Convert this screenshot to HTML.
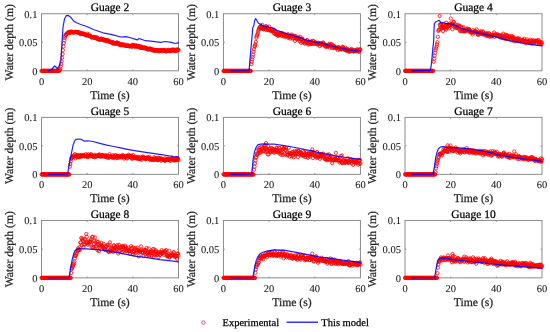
<!DOCTYPE html>
<html><head><meta charset="utf-8"><style>
html,body{margin:0;padding:0;background:#fff;overflow:hidden;}
svg{display:block;will-change:transform;}
text{font-family:"Liberation Serif",serif;fill:#262626;stroke:#262626;stroke-width:0.25px;text-rendering:geometricPrecision;}
.tk{font-size:10.5px;stroke-width:0.08px;fill:#1a1a1a;}
.ti{font-size:11.5px;fill:#000;stroke:#000;}
.lb{font-size:11.7px;}
.lg{font-size:10.5px;fill:#000;stroke:#000;}
</style></head><body>
<svg width="550" height="332" viewBox="0 0 550 332">
<rect width="550" height="332" fill="#fff"/>
<rect x="41.5" y="13.73" width="137" height="57.09" fill="none" stroke="#8c8c8c" stroke-width="1"/>
<path d="M87.17 70.82v-1.4M87.17 13.73v1.4M132.83 70.82v-1.4M132.83 13.73v1.4M41.5 42.27h1.4M178.5 42.27h-1.4" stroke="#8c8c8c" stroke-width="1" fill="none"/>
<rect x="223.45" y="13.73" width="137" height="57.09" fill="none" stroke="#8c8c8c" stroke-width="1"/>
<path d="M269.12 70.82v-1.4M269.12 13.73v1.4M314.78 70.82v-1.4M314.78 13.73v1.4M223.45 42.27h1.4M360.45 42.27h-1.4" stroke="#8c8c8c" stroke-width="1" fill="none"/>
<rect x="405" y="13.73" width="137" height="57.09" fill="none" stroke="#8c8c8c" stroke-width="1"/>
<path d="M450.67 70.82v-1.4M450.67 13.73v1.4M496.33 70.82v-1.4M496.33 13.73v1.4M405 42.27h1.4M542 42.27h-1.4" stroke="#8c8c8c" stroke-width="1" fill="none"/>
<rect x="41.5" y="117.37" width="137" height="56.97" fill="none" stroke="#8c8c8c" stroke-width="1"/>
<path d="M87.17 174.34v-1.4M87.17 117.37v1.4M132.83 174.34v-1.4M132.83 117.37v1.4M41.5 145.86h1.4M178.5 145.86h-1.4" stroke="#8c8c8c" stroke-width="1" fill="none"/>
<rect x="223.45" y="117.37" width="137" height="56.97" fill="none" stroke="#8c8c8c" stroke-width="1"/>
<path d="M269.12 174.34v-1.4M269.12 117.37v1.4M314.78 174.34v-1.4M314.78 117.37v1.4M223.45 145.86h1.4M360.45 145.86h-1.4" stroke="#8c8c8c" stroke-width="1" fill="none"/>
<rect x="405" y="117.37" width="137" height="56.97" fill="none" stroke="#8c8c8c" stroke-width="1"/>
<path d="M450.67 174.34v-1.4M450.67 117.37v1.4M496.33 174.34v-1.4M496.33 117.37v1.4M405 145.86h1.4M542 145.86h-1.4" stroke="#8c8c8c" stroke-width="1" fill="none"/>
<rect x="41.5" y="220.46" width="137" height="57.4" fill="none" stroke="#8c8c8c" stroke-width="1"/>
<path d="M87.17 277.86v-1.4M87.17 220.46v1.4M132.83 277.86v-1.4M132.83 220.46v1.4M41.5 249.16h1.4M178.5 249.16h-1.4" stroke="#8c8c8c" stroke-width="1" fill="none"/>
<rect x="223.45" y="220.46" width="137" height="57.4" fill="none" stroke="#8c8c8c" stroke-width="1"/>
<path d="M269.12 277.86v-1.4M269.12 220.46v1.4M314.78 277.86v-1.4M314.78 220.46v1.4M223.45 249.16h1.4M360.45 249.16h-1.4" stroke="#8c8c8c" stroke-width="1" fill="none"/>
<rect x="405" y="220.46" width="137" height="57.4" fill="none" stroke="#8c8c8c" stroke-width="1"/>
<path d="M450.67 277.86v-1.4M450.67 220.46v1.4M496.33 277.86v-1.4M496.33 220.46v1.4M405 249.16h1.4M542 249.16h-1.4" stroke="#8c8c8c" stroke-width="1" fill="none"/>
<path d="M39.9 70.9a1.65 1.65 0 1 0 3.3 0a1.65 1.65 0 1 0 -3.3 0M40.3 70.9a1.65 1.65 0 1 0 3.3 0a1.65 1.65 0 1 0 -3.3 0M40.8 70.9a1.65 1.65 0 1 0 3.3 0a1.65 1.65 0 1 0 -3.3 0M41.2 70.9a1.65 1.65 0 1 0 3.3 0a1.65 1.65 0 1 0 -3.3 0M41.7 70.9a1.65 1.65 0 1 0 3.3 0a1.65 1.65 0 1 0 -3.3 0M42.1 70.9a1.65 1.65 0 1 0 3.3 0a1.65 1.65 0 1 0 -3.3 0M42.6 70.9a1.65 1.65 0 1 0 3.3 0a1.65 1.65 0 1 0 -3.3 0M43 70.9a1.65 1.65 0 1 0 3.3 0a1.65 1.65 0 1 0 -3.3 0M43.5 70.9a1.65 1.65 0 1 0 3.3 0a1.65 1.65 0 1 0 -3.3 0M44 70.9a1.65 1.65 0 1 0 3.3 0a1.65 1.65 0 1 0 -3.3 0M44.4 70.9a1.65 1.65 0 1 0 3.3 0a1.65 1.65 0 1 0 -3.3 0M44.9 70.9a1.65 1.65 0 1 0 3.3 0a1.65 1.65 0 1 0 -3.3 0M45.3 70.9a1.65 1.65 0 1 0 3.3 0a1.65 1.65 0 1 0 -3.3 0M45.8 70.9a1.65 1.65 0 1 0 3.3 0a1.65 1.65 0 1 0 -3.3 0M46.2 70.9a1.65 1.65 0 1 0 3.3 0a1.65 1.65 0 1 0 -3.3 0M46.7 70.9a1.65 1.65 0 1 0 3.3 0a1.65 1.65 0 1 0 -3.3 0M47.2 70.9a1.65 1.65 0 1 0 3.3 0a1.65 1.65 0 1 0 -3.3 0M47.6 70.9a1.65 1.65 0 1 0 3.3 0a1.65 1.65 0 1 0 -3.3 0M48.1 70.9a1.65 1.65 0 1 0 3.3 0a1.65 1.65 0 1 0 -3.3 0M48.5 70.9a1.65 1.65 0 1 0 3.3 0a1.65 1.65 0 1 0 -3.3 0M49 70.9a1.65 1.65 0 1 0 3.3 0a1.65 1.65 0 1 0 -3.3 0M49.4 70.9a1.65 1.65 0 1 0 3.3 0a1.65 1.65 0 1 0 -3.3 0M49.9 70.9a1.65 1.65 0 1 0 3.3 0a1.65 1.65 0 1 0 -3.3 0M50.4 70.9a1.65 1.65 0 1 0 3.3 0a1.65 1.65 0 1 0 -3.3 0M50.8 70.9a1.65 1.65 0 1 0 3.3 0a1.65 1.65 0 1 0 -3.3 0M51.3 70.9a1.65 1.65 0 1 0 3.3 0a1.65 1.65 0 1 0 -3.3 0M51.7 70.9a1.65 1.65 0 1 0 3.3 0a1.65 1.65 0 1 0 -3.3 0M52.2 70.9a1.65 1.65 0 1 0 3.3 0a1.65 1.65 0 1 0 -3.3 0M52.6 70.9a1.65 1.65 0 1 0 3.3 0a1.65 1.65 0 1 0 -3.3 0M53.1 70.9a1.65 1.65 0 1 0 3.3 0a1.65 1.65 0 1 0 -3.3 0M53.6 70.9a1.65 1.65 0 1 0 3.3 0a1.65 1.65 0 1 0 -3.3 0M54 70.9a1.65 1.65 0 1 0 3.3 0a1.65 1.65 0 1 0 -3.3 0M54.5 70.9a1.65 1.65 0 1 0 3.3 0a1.65 1.65 0 1 0 -3.3 0M54.9 70.9a1.65 1.65 0 1 0 3.3 0a1.65 1.65 0 1 0 -3.3 0M55.4 70.9a1.65 1.65 0 1 0 3.3 0a1.65 1.65 0 1 0 -3.3 0M55.8 70.9a1.65 1.65 0 1 0 3.3 0a1.65 1.65 0 1 0 -3.3 0M56.3 70.9a1.65 1.65 0 1 0 3.3 0a1.65 1.65 0 1 0 -3.3 0M56.7 70.9a1.65 1.65 0 1 0 3.3 0a1.65 1.65 0 1 0 -3.3 0M57.2 70.9a1.65 1.65 0 1 0 3.3 0a1.65 1.65 0 1 0 -3.3 0M57.7 70.9a1.65 1.65 0 1 0 3.3 0a1.65 1.65 0 1 0 -3.3 0M58.1 70.1a1.65 1.65 0 1 0 3.3 0a1.65 1.65 0 1 0 -3.3 0M58.6 68.7a1.65 1.65 0 1 0 3.3 0a1.65 1.65 0 1 0 -3.3 0M59 66.4a1.65 1.65 0 1 0 3.3 0a1.65 1.65 0 1 0 -3.3 0M59.5 64a1.65 1.65 0 1 0 3.3 0a1.65 1.65 0 1 0 -3.3 0M59.9 61.3a1.65 1.65 0 1 0 3.3 0a1.65 1.65 0 1 0 -3.3 0M60.4 57.7a1.65 1.65 0 1 0 3.3 0a1.65 1.65 0 1 0 -3.3 0M60.9 54.1a1.65 1.65 0 1 0 3.3 0a1.65 1.65 0 1 0 -3.3 0M61.3 50.3a1.65 1.65 0 1 0 3.3 0a1.65 1.65 0 1 0 -3.3 0M61.8 46.5a1.65 1.65 0 1 0 3.3 0a1.65 1.65 0 1 0 -3.3 0M62.2 43.2a1.65 1.65 0 1 0 3.3 0a1.65 1.65 0 1 0 -3.3 0M62.7 40.2a1.65 1.65 0 1 0 3.3 0a1.65 1.65 0 1 0 -3.3 0M63.1 37.8a1.65 1.65 0 1 0 3.3 0a1.65 1.65 0 1 0 -3.3 0M63.6 36.1a1.65 1.65 0 1 0 3.3 0a1.65 1.65 0 1 0 -3.3 0M64.1 34.7a1.65 1.65 0 1 0 3.3 0a1.65 1.65 0 1 0 -3.3 0M64.5 34.9a1.65 1.65 0 1 0 3.3 0a1.65 1.65 0 1 0 -3.3 0M65 33.8a1.65 1.65 0 1 0 3.3 0a1.65 1.65 0 1 0 -3.3 0M65.4 33.9a1.65 1.65 0 1 0 3.3 0a1.65 1.65 0 1 0 -3.3 0M65.9 32.8a1.65 1.65 0 1 0 3.3 0a1.65 1.65 0 1 0 -3.3 0M66.3 32.8a1.65 1.65 0 1 0 3.3 0a1.65 1.65 0 1 0 -3.3 0M66.8 32.5a1.65 1.65 0 1 0 3.3 0a1.65 1.65 0 1 0 -3.3 0M67.2 32.5a1.65 1.65 0 1 0 3.3 0a1.65 1.65 0 1 0 -3.3 0M67.7 31.9a1.65 1.65 0 1 0 3.3 0a1.65 1.65 0 1 0 -3.3 0M68.2 32.9a1.65 1.65 0 1 0 3.3 0a1.65 1.65 0 1 0 -3.3 0M68.6 32.2a1.65 1.65 0 1 0 3.3 0a1.65 1.65 0 1 0 -3.3 0M69.1 31.6a1.65 1.65 0 1 0 3.3 0a1.65 1.65 0 1 0 -3.3 0M69.5 32.6a1.65 1.65 0 1 0 3.3 0a1.65 1.65 0 1 0 -3.3 0M70 31.8a1.65 1.65 0 1 0 3.3 0a1.65 1.65 0 1 0 -3.3 0M70.4 31.9a1.65 1.65 0 1 0 3.3 0a1.65 1.65 0 1 0 -3.3 0M70.9 32.2a1.65 1.65 0 1 0 3.3 0a1.65 1.65 0 1 0 -3.3 0M71.4 32.3a1.65 1.65 0 1 0 3.3 0a1.65 1.65 0 1 0 -3.3 0M71.8 32.7a1.65 1.65 0 1 0 3.3 0a1.65 1.65 0 1 0 -3.3 0M72.3 32.2a1.65 1.65 0 1 0 3.3 0a1.65 1.65 0 1 0 -3.3 0M72.7 32.3a1.65 1.65 0 1 0 3.3 0a1.65 1.65 0 1 0 -3.3 0M73.2 32.1a1.65 1.65 0 1 0 3.3 0a1.65 1.65 0 1 0 -3.3 0M73.6 31.7a1.65 1.65 0 1 0 3.3 0a1.65 1.65 0 1 0 -3.3 0M74.1 32.1a1.65 1.65 0 1 0 3.3 0a1.65 1.65 0 1 0 -3.3 0M74.6 32.2a1.65 1.65 0 1 0 3.3 0a1.65 1.65 0 1 0 -3.3 0M75 32.3a1.65 1.65 0 1 0 3.3 0a1.65 1.65 0 1 0 -3.3 0M75.5 32.2a1.65 1.65 0 1 0 3.3 0a1.65 1.65 0 1 0 -3.3 0M75.9 32.4a1.65 1.65 0 1 0 3.3 0a1.65 1.65 0 1 0 -3.3 0M76.4 32a1.65 1.65 0 1 0 3.3 0a1.65 1.65 0 1 0 -3.3 0M76.8 32.6a1.65 1.65 0 1 0 3.3 0a1.65 1.65 0 1 0 -3.3 0M77.3 32.4a1.65 1.65 0 1 0 3.3 0a1.65 1.65 0 1 0 -3.3 0M77.8 33a1.65 1.65 0 1 0 3.3 0a1.65 1.65 0 1 0 -3.3 0M78.2 33.1a1.65 1.65 0 1 0 3.3 0a1.65 1.65 0 1 0 -3.3 0M78.7 34.3a1.65 1.65 0 1 0 3.3 0a1.65 1.65 0 1 0 -3.3 0M79.1 32.7a1.65 1.65 0 1 0 3.3 0a1.65 1.65 0 1 0 -3.3 0M79.6 33.5a1.65 1.65 0 1 0 3.3 0a1.65 1.65 0 1 0 -3.3 0M80 34a1.65 1.65 0 1 0 3.3 0a1.65 1.65 0 1 0 -3.3 0M80.5 33.6a1.65 1.65 0 1 0 3.3 0a1.65 1.65 0 1 0 -3.3 0M80.9 33.9a1.65 1.65 0 1 0 3.3 0a1.65 1.65 0 1 0 -3.3 0M81.4 33.8a1.65 1.65 0 1 0 3.3 0a1.65 1.65 0 1 0 -3.3 0M81.9 33.4a1.65 1.65 0 1 0 3.3 0a1.65 1.65 0 1 0 -3.3 0M82.3 34a1.65 1.65 0 1 0 3.3 0a1.65 1.65 0 1 0 -3.3 0M82.8 34.7a1.65 1.65 0 1 0 3.3 0a1.65 1.65 0 1 0 -3.3 0M83.2 34.4a1.65 1.65 0 1 0 3.3 0a1.65 1.65 0 1 0 -3.3 0M83.7 34.6a1.65 1.65 0 1 0 3.3 0a1.65 1.65 0 1 0 -3.3 0M84.1 34.9a1.65 1.65 0 1 0 3.3 0a1.65 1.65 0 1 0 -3.3 0M84.6 35.2a1.65 1.65 0 1 0 3.3 0a1.65 1.65 0 1 0 -3.3 0M85.1 35.5a1.65 1.65 0 1 0 3.3 0a1.65 1.65 0 1 0 -3.3 0M85.5 34.9a1.65 1.65 0 1 0 3.3 0a1.65 1.65 0 1 0 -3.3 0M86 33.8a1.65 1.65 0 1 0 3.3 0a1.65 1.65 0 1 0 -3.3 0M86.4 35.3a1.65 1.65 0 1 0 3.3 0a1.65 1.65 0 1 0 -3.3 0M86.9 35.6a1.65 1.65 0 1 0 3.3 0a1.65 1.65 0 1 0 -3.3 0M87.3 35.8a1.65 1.65 0 1 0 3.3 0a1.65 1.65 0 1 0 -3.3 0M87.8 35.7a1.65 1.65 0 1 0 3.3 0a1.65 1.65 0 1 0 -3.3 0M88.3 35.9a1.65 1.65 0 1 0 3.3 0a1.65 1.65 0 1 0 -3.3 0M88.7 35.6a1.65 1.65 0 1 0 3.3 0a1.65 1.65 0 1 0 -3.3 0M89.2 36.8a1.65 1.65 0 1 0 3.3 0a1.65 1.65 0 1 0 -3.3 0M89.6 37.3a1.65 1.65 0 1 0 3.3 0a1.65 1.65 0 1 0 -3.3 0M90.1 37a1.65 1.65 0 1 0 3.3 0a1.65 1.65 0 1 0 -3.3 0M90.5 37.4a1.65 1.65 0 1 0 3.3 0a1.65 1.65 0 1 0 -3.3 0M91 37.3a1.65 1.65 0 1 0 3.3 0a1.65 1.65 0 1 0 -3.3 0M91.5 37.1a1.65 1.65 0 1 0 3.3 0a1.65 1.65 0 1 0 -3.3 0M91.9 36.9a1.65 1.65 0 1 0 3.3 0a1.65 1.65 0 1 0 -3.3 0M92.4 37.7a1.65 1.65 0 1 0 3.3 0a1.65 1.65 0 1 0 -3.3 0M92.8 37.7a1.65 1.65 0 1 0 3.3 0a1.65 1.65 0 1 0 -3.3 0M93.3 37.2a1.65 1.65 0 1 0 3.3 0a1.65 1.65 0 1 0 -3.3 0M93.7 38a1.65 1.65 0 1 0 3.3 0a1.65 1.65 0 1 0 -3.3 0M94.2 37.5a1.65 1.65 0 1 0 3.3 0a1.65 1.65 0 1 0 -3.3 0M94.7 38.6a1.65 1.65 0 1 0 3.3 0a1.65 1.65 0 1 0 -3.3 0M95.1 37.5a1.65 1.65 0 1 0 3.3 0a1.65 1.65 0 1 0 -3.3 0M95.6 37.8a1.65 1.65 0 1 0 3.3 0a1.65 1.65 0 1 0 -3.3 0M96 39.1a1.65 1.65 0 1 0 3.3 0a1.65 1.65 0 1 0 -3.3 0M96.5 39.1a1.65 1.65 0 1 0 3.3 0a1.65 1.65 0 1 0 -3.3 0M96.9 38.7a1.65 1.65 0 1 0 3.3 0a1.65 1.65 0 1 0 -3.3 0M97.4 39.5a1.65 1.65 0 1 0 3.3 0a1.65 1.65 0 1 0 -3.3 0M97.8 39.7a1.65 1.65 0 1 0 3.3 0a1.65 1.65 0 1 0 -3.3 0M98.3 39.3a1.65 1.65 0 1 0 3.3 0a1.65 1.65 0 1 0 -3.3 0M98.8 39.7a1.65 1.65 0 1 0 3.3 0a1.65 1.65 0 1 0 -3.3 0M99.2 38.7a1.65 1.65 0 1 0 3.3 0a1.65 1.65 0 1 0 -3.3 0M99.7 39.5a1.65 1.65 0 1 0 3.3 0a1.65 1.65 0 1 0 -3.3 0M100.1 38.8a1.65 1.65 0 1 0 3.3 0a1.65 1.65 0 1 0 -3.3 0M100.6 39.8a1.65 1.65 0 1 0 3.3 0a1.65 1.65 0 1 0 -3.3 0M101 39.4a1.65 1.65 0 1 0 3.3 0a1.65 1.65 0 1 0 -3.3 0M101.5 39.2a1.65 1.65 0 1 0 3.3 0a1.65 1.65 0 1 0 -3.3 0M102 39.4a1.65 1.65 0 1 0 3.3 0a1.65 1.65 0 1 0 -3.3 0M102.4 40.6a1.65 1.65 0 1 0 3.3 0a1.65 1.65 0 1 0 -3.3 0M102.9 40.1a1.65 1.65 0 1 0 3.3 0a1.65 1.65 0 1 0 -3.3 0M103.3 39.7a1.65 1.65 0 1 0 3.3 0a1.65 1.65 0 1 0 -3.3 0M103.8 40.5a1.65 1.65 0 1 0 3.3 0a1.65 1.65 0 1 0 -3.3 0M104.2 40.1a1.65 1.65 0 1 0 3.3 0a1.65 1.65 0 1 0 -3.3 0M104.7 41a1.65 1.65 0 1 0 3.3 0a1.65 1.65 0 1 0 -3.3 0M105.2 41.4a1.65 1.65 0 1 0 3.3 0a1.65 1.65 0 1 0 -3.3 0M105.6 40.6a1.65 1.65 0 1 0 3.3 0a1.65 1.65 0 1 0 -3.3 0M106.1 40.1a1.65 1.65 0 1 0 3.3 0a1.65 1.65 0 1 0 -3.3 0M106.5 40.9a1.65 1.65 0 1 0 3.3 0a1.65 1.65 0 1 0 -3.3 0M107 41.3a1.65 1.65 0 1 0 3.3 0a1.65 1.65 0 1 0 -3.3 0M107.4 41.3a1.65 1.65 0 1 0 3.3 0a1.65 1.65 0 1 0 -3.3 0M107.9 41.7a1.65 1.65 0 1 0 3.3 0a1.65 1.65 0 1 0 -3.3 0M108.3 41.7a1.65 1.65 0 1 0 3.3 0a1.65 1.65 0 1 0 -3.3 0M108.8 42a1.65 1.65 0 1 0 3.3 0a1.65 1.65 0 1 0 -3.3 0M109.3 41.8a1.65 1.65 0 1 0 3.3 0a1.65 1.65 0 1 0 -3.3 0M109.7 42.2a1.65 1.65 0 1 0 3.3 0a1.65 1.65 0 1 0 -3.3 0M110.2 43a1.65 1.65 0 1 0 3.3 0a1.65 1.65 0 1 0 -3.3 0M110.6 42.1a1.65 1.65 0 1 0 3.3 0a1.65 1.65 0 1 0 -3.3 0M111.1 42.1a1.65 1.65 0 1 0 3.3 0a1.65 1.65 0 1 0 -3.3 0M111.5 43.8a1.65 1.65 0 1 0 3.3 0a1.65 1.65 0 1 0 -3.3 0M112 43.1a1.65 1.65 0 1 0 3.3 0a1.65 1.65 0 1 0 -3.3 0M112.5 43a1.65 1.65 0 1 0 3.3 0a1.65 1.65 0 1 0 -3.3 0M112.9 43.5a1.65 1.65 0 1 0 3.3 0a1.65 1.65 0 1 0 -3.3 0M113.4 43.3a1.65 1.65 0 1 0 3.3 0a1.65 1.65 0 1 0 -3.3 0M113.8 43.4a1.65 1.65 0 1 0 3.3 0a1.65 1.65 0 1 0 -3.3 0M114.3 43.8a1.65 1.65 0 1 0 3.3 0a1.65 1.65 0 1 0 -3.3 0M114.7 43.1a1.65 1.65 0 1 0 3.3 0a1.65 1.65 0 1 0 -3.3 0M115.2 42.5a1.65 1.65 0 1 0 3.3 0a1.65 1.65 0 1 0 -3.3 0M115.7 42.7a1.65 1.65 0 1 0 3.3 0a1.65 1.65 0 1 0 -3.3 0M116.1 43.7a1.65 1.65 0 1 0 3.3 0a1.65 1.65 0 1 0 -3.3 0M116.6 43.2a1.65 1.65 0 1 0 3.3 0a1.65 1.65 0 1 0 -3.3 0M117 44.7a1.65 1.65 0 1 0 3.3 0a1.65 1.65 0 1 0 -3.3 0M117.5 43.3a1.65 1.65 0 1 0 3.3 0a1.65 1.65 0 1 0 -3.3 0M117.9 44.1a1.65 1.65 0 1 0 3.3 0a1.65 1.65 0 1 0 -3.3 0M118.4 44.6a1.65 1.65 0 1 0 3.3 0a1.65 1.65 0 1 0 -3.3 0M118.9 45a1.65 1.65 0 1 0 3.3 0a1.65 1.65 0 1 0 -3.3 0M119.3 44.2a1.65 1.65 0 1 0 3.3 0a1.65 1.65 0 1 0 -3.3 0M119.8 45.5a1.65 1.65 0 1 0 3.3 0a1.65 1.65 0 1 0 -3.3 0M120.2 44.2a1.65 1.65 0 1 0 3.3 0a1.65 1.65 0 1 0 -3.3 0M120.7 44.7a1.65 1.65 0 1 0 3.3 0a1.65 1.65 0 1 0 -3.3 0M121.1 45.1a1.65 1.65 0 1 0 3.3 0a1.65 1.65 0 1 0 -3.3 0M121.6 44.5a1.65 1.65 0 1 0 3.3 0a1.65 1.65 0 1 0 -3.3 0M122 45.1a1.65 1.65 0 1 0 3.3 0a1.65 1.65 0 1 0 -3.3 0M122.5 45.6a1.65 1.65 0 1 0 3.3 0a1.65 1.65 0 1 0 -3.3 0M123 44.7a1.65 1.65 0 1 0 3.3 0a1.65 1.65 0 1 0 -3.3 0M123.4 44.8a1.65 1.65 0 1 0 3.3 0a1.65 1.65 0 1 0 -3.3 0M123.9 45.9a1.65 1.65 0 1 0 3.3 0a1.65 1.65 0 1 0 -3.3 0M124.3 45.7a1.65 1.65 0 1 0 3.3 0a1.65 1.65 0 1 0 -3.3 0M124.8 45.9a1.65 1.65 0 1 0 3.3 0a1.65 1.65 0 1 0 -3.3 0M125.2 45.9a1.65 1.65 0 1 0 3.3 0a1.65 1.65 0 1 0 -3.3 0M125.7 45.6a1.65 1.65 0 1 0 3.3 0a1.65 1.65 0 1 0 -3.3 0M126.2 45.3a1.65 1.65 0 1 0 3.3 0a1.65 1.65 0 1 0 -3.3 0M126.6 46a1.65 1.65 0 1 0 3.3 0a1.65 1.65 0 1 0 -3.3 0M127.1 45.7a1.65 1.65 0 1 0 3.3 0a1.65 1.65 0 1 0 -3.3 0M127.5 46.1a1.65 1.65 0 1 0 3.3 0a1.65 1.65 0 1 0 -3.3 0M128 46.5a1.65 1.65 0 1 0 3.3 0a1.65 1.65 0 1 0 -3.3 0M128.4 46a1.65 1.65 0 1 0 3.3 0a1.65 1.65 0 1 0 -3.3 0M128.9 45.7a1.65 1.65 0 1 0 3.3 0a1.65 1.65 0 1 0 -3.3 0M129.4 46.2a1.65 1.65 0 1 0 3.3 0a1.65 1.65 0 1 0 -3.3 0M129.8 45.6a1.65 1.65 0 1 0 3.3 0a1.65 1.65 0 1 0 -3.3 0M130.3 46.9a1.65 1.65 0 1 0 3.3 0a1.65 1.65 0 1 0 -3.3 0M130.7 45.1a1.65 1.65 0 1 0 3.3 0a1.65 1.65 0 1 0 -3.3 0M131.2 44.9a1.65 1.65 0 1 0 3.3 0a1.65 1.65 0 1 0 -3.3 0M131.6 45.8a1.65 1.65 0 1 0 3.3 0a1.65 1.65 0 1 0 -3.3 0M132.1 45.4a1.65 1.65 0 1 0 3.3 0a1.65 1.65 0 1 0 -3.3 0M132.6 46.4a1.65 1.65 0 1 0 3.3 0a1.65 1.65 0 1 0 -3.3 0M133 46.6a1.65 1.65 0 1 0 3.3 0a1.65 1.65 0 1 0 -3.3 0M133.5 45.3a1.65 1.65 0 1 0 3.3 0a1.65 1.65 0 1 0 -3.3 0M133.9 46.4a1.65 1.65 0 1 0 3.3 0a1.65 1.65 0 1 0 -3.3 0M134.4 46.3a1.65 1.65 0 1 0 3.3 0a1.65 1.65 0 1 0 -3.3 0M134.8 45.3a1.65 1.65 0 1 0 3.3 0a1.65 1.65 0 1 0 -3.3 0M135.3 46.7a1.65 1.65 0 1 0 3.3 0a1.65 1.65 0 1 0 -3.3 0M135.7 46.2a1.65 1.65 0 1 0 3.3 0a1.65 1.65 0 1 0 -3.3 0M136.2 46.6a1.65 1.65 0 1 0 3.3 0a1.65 1.65 0 1 0 -3.3 0M136.7 46.2a1.65 1.65 0 1 0 3.3 0a1.65 1.65 0 1 0 -3.3 0M137.1 46.8a1.65 1.65 0 1 0 3.3 0a1.65 1.65 0 1 0 -3.3 0M137.6 46.6a1.65 1.65 0 1 0 3.3 0a1.65 1.65 0 1 0 -3.3 0M138 46.2a1.65 1.65 0 1 0 3.3 0a1.65 1.65 0 1 0 -3.3 0M138.5 47.9a1.65 1.65 0 1 0 3.3 0a1.65 1.65 0 1 0 -3.3 0M138.9 47.4a1.65 1.65 0 1 0 3.3 0a1.65 1.65 0 1 0 -3.3 0M139.4 46.4a1.65 1.65 0 1 0 3.3 0a1.65 1.65 0 1 0 -3.3 0M139.9 47.6a1.65 1.65 0 1 0 3.3 0a1.65 1.65 0 1 0 -3.3 0M140.3 47.6a1.65 1.65 0 1 0 3.3 0a1.65 1.65 0 1 0 -3.3 0M140.8 47.9a1.65 1.65 0 1 0 3.3 0a1.65 1.65 0 1 0 -3.3 0M141.2 48.1a1.65 1.65 0 1 0 3.3 0a1.65 1.65 0 1 0 -3.3 0M141.7 48a1.65 1.65 0 1 0 3.3 0a1.65 1.65 0 1 0 -3.3 0M142.1 47.2a1.65 1.65 0 1 0 3.3 0a1.65 1.65 0 1 0 -3.3 0M142.6 48.3a1.65 1.65 0 1 0 3.3 0a1.65 1.65 0 1 0 -3.3 0M143.1 47.6a1.65 1.65 0 1 0 3.3 0a1.65 1.65 0 1 0 -3.3 0M143.5 48.2a1.65 1.65 0 1 0 3.3 0a1.65 1.65 0 1 0 -3.3 0M144 47.9a1.65 1.65 0 1 0 3.3 0a1.65 1.65 0 1 0 -3.3 0M144.4 48.5a1.65 1.65 0 1 0 3.3 0a1.65 1.65 0 1 0 -3.3 0M144.9 48a1.65 1.65 0 1 0 3.3 0a1.65 1.65 0 1 0 -3.3 0M145.3 49.1a1.65 1.65 0 1 0 3.3 0a1.65 1.65 0 1 0 -3.3 0M145.8 48.9a1.65 1.65 0 1 0 3.3 0a1.65 1.65 0 1 0 -3.3 0M146.3 49.4a1.65 1.65 0 1 0 3.3 0a1.65 1.65 0 1 0 -3.3 0M146.7 49.4a1.65 1.65 0 1 0 3.3 0a1.65 1.65 0 1 0 -3.3 0M147.2 48.8a1.65 1.65 0 1 0 3.3 0a1.65 1.65 0 1 0 -3.3 0M147.6 48.8a1.65 1.65 0 1 0 3.3 0a1.65 1.65 0 1 0 -3.3 0M148.1 48.6a1.65 1.65 0 1 0 3.3 0a1.65 1.65 0 1 0 -3.3 0M148.5 49.6a1.65 1.65 0 1 0 3.3 0a1.65 1.65 0 1 0 -3.3 0M149 48.7a1.65 1.65 0 1 0 3.3 0a1.65 1.65 0 1 0 -3.3 0M149.5 49.4a1.65 1.65 0 1 0 3.3 0a1.65 1.65 0 1 0 -3.3 0M149.9 49.4a1.65 1.65 0 1 0 3.3 0a1.65 1.65 0 1 0 -3.3 0M150.4 49.1a1.65 1.65 0 1 0 3.3 0a1.65 1.65 0 1 0 -3.3 0M150.8 50.4a1.65 1.65 0 1 0 3.3 0a1.65 1.65 0 1 0 -3.3 0M151.3 50.1a1.65 1.65 0 1 0 3.3 0a1.65 1.65 0 1 0 -3.3 0M151.7 50a1.65 1.65 0 1 0 3.3 0a1.65 1.65 0 1 0 -3.3 0M152.2 50.5a1.65 1.65 0 1 0 3.3 0a1.65 1.65 0 1 0 -3.3 0M152.6 49.7a1.65 1.65 0 1 0 3.3 0a1.65 1.65 0 1 0 -3.3 0M153.1 51a1.65 1.65 0 1 0 3.3 0a1.65 1.65 0 1 0 -3.3 0M153.6 50.1a1.65 1.65 0 1 0 3.3 0a1.65 1.65 0 1 0 -3.3 0M154 50.7a1.65 1.65 0 1 0 3.3 0a1.65 1.65 0 1 0 -3.3 0M154.5 50.3a1.65 1.65 0 1 0 3.3 0a1.65 1.65 0 1 0 -3.3 0M154.9 50.2a1.65 1.65 0 1 0 3.3 0a1.65 1.65 0 1 0 -3.3 0M155.4 50a1.65 1.65 0 1 0 3.3 0a1.65 1.65 0 1 0 -3.3 0M155.8 50.8a1.65 1.65 0 1 0 3.3 0a1.65 1.65 0 1 0 -3.3 0M156.3 50.3a1.65 1.65 0 1 0 3.3 0a1.65 1.65 0 1 0 -3.3 0M156.8 50.7a1.65 1.65 0 1 0 3.3 0a1.65 1.65 0 1 0 -3.3 0M157.2 51.3a1.65 1.65 0 1 0 3.3 0a1.65 1.65 0 1 0 -3.3 0M157.7 50.3a1.65 1.65 0 1 0 3.3 0a1.65 1.65 0 1 0 -3.3 0M158.1 51a1.65 1.65 0 1 0 3.3 0a1.65 1.65 0 1 0 -3.3 0M158.6 50a1.65 1.65 0 1 0 3.3 0a1.65 1.65 0 1 0 -3.3 0M159 50.1a1.65 1.65 0 1 0 3.3 0a1.65 1.65 0 1 0 -3.3 0M159.5 50.2a1.65 1.65 0 1 0 3.3 0a1.65 1.65 0 1 0 -3.3 0M160 50.8a1.65 1.65 0 1 0 3.3 0a1.65 1.65 0 1 0 -3.3 0M160.4 50.3a1.65 1.65 0 1 0 3.3 0a1.65 1.65 0 1 0 -3.3 0M160.9 51.2a1.65 1.65 0 1 0 3.3 0a1.65 1.65 0 1 0 -3.3 0M161.3 49.9a1.65 1.65 0 1 0 3.3 0a1.65 1.65 0 1 0 -3.3 0M161.8 50.1a1.65 1.65 0 1 0 3.3 0a1.65 1.65 0 1 0 -3.3 0M162.2 50.6a1.65 1.65 0 1 0 3.3 0a1.65 1.65 0 1 0 -3.3 0M162.7 50.1a1.65 1.65 0 1 0 3.3 0a1.65 1.65 0 1 0 -3.3 0M163.2 50.5a1.65 1.65 0 1 0 3.3 0a1.65 1.65 0 1 0 -3.3 0M163.6 50.5a1.65 1.65 0 1 0 3.3 0a1.65 1.65 0 1 0 -3.3 0M164.1 51.5a1.65 1.65 0 1 0 3.3 0a1.65 1.65 0 1 0 -3.3 0M164.5 50.8a1.65 1.65 0 1 0 3.3 0a1.65 1.65 0 1 0 -3.3 0M165 51.1a1.65 1.65 0 1 0 3.3 0a1.65 1.65 0 1 0 -3.3 0M165.4 50.3a1.65 1.65 0 1 0 3.3 0a1.65 1.65 0 1 0 -3.3 0M165.9 51a1.65 1.65 0 1 0 3.3 0a1.65 1.65 0 1 0 -3.3 0M166.3 50.4a1.65 1.65 0 1 0 3.3 0a1.65 1.65 0 1 0 -3.3 0M166.8 49.8a1.65 1.65 0 1 0 3.3 0a1.65 1.65 0 1 0 -3.3 0M167.3 50.6a1.65 1.65 0 1 0 3.3 0a1.65 1.65 0 1 0 -3.3 0M167.7 51.2a1.65 1.65 0 1 0 3.3 0a1.65 1.65 0 1 0 -3.3 0M168.2 50.8a1.65 1.65 0 1 0 3.3 0a1.65 1.65 0 1 0 -3.3 0M168.6 50.1a1.65 1.65 0 1 0 3.3 0a1.65 1.65 0 1 0 -3.3 0M169.1 51.1a1.65 1.65 0 1 0 3.3 0a1.65 1.65 0 1 0 -3.3 0M169.5 50.7a1.65 1.65 0 1 0 3.3 0a1.65 1.65 0 1 0 -3.3 0M170 50.2a1.65 1.65 0 1 0 3.3 0a1.65 1.65 0 1 0 -3.3 0M170.5 49.6a1.65 1.65 0 1 0 3.3 0a1.65 1.65 0 1 0 -3.3 0M170.9 50.3a1.65 1.65 0 1 0 3.3 0a1.65 1.65 0 1 0 -3.3 0M171.4 50.5a1.65 1.65 0 1 0 3.3 0a1.65 1.65 0 1 0 -3.3 0M171.8 49.5a1.65 1.65 0 1 0 3.3 0a1.65 1.65 0 1 0 -3.3 0M172.3 49.8a1.65 1.65 0 1 0 3.3 0a1.65 1.65 0 1 0 -3.3 0M172.7 50.7a1.65 1.65 0 1 0 3.3 0a1.65 1.65 0 1 0 -3.3 0M173.2 50.4a1.65 1.65 0 1 0 3.3 0a1.65 1.65 0 1 0 -3.3 0M173.7 50.5a1.65 1.65 0 1 0 3.3 0a1.65 1.65 0 1 0 -3.3 0M174.1 51.1a1.65 1.65 0 1 0 3.3 0a1.65 1.65 0 1 0 -3.3 0M174.6 49.5a1.65 1.65 0 1 0 3.3 0a1.65 1.65 0 1 0 -3.3 0M175 50.3a1.65 1.65 0 1 0 3.3 0a1.65 1.65 0 1 0 -3.3 0M175.5 50.3a1.65 1.65 0 1 0 3.3 0a1.65 1.65 0 1 0 -3.3 0M175.9 49.6a1.65 1.65 0 1 0 3.3 0a1.65 1.65 0 1 0 -3.3 0M176.4 49.5a1.65 1.65 0 1 0 3.3 0a1.65 1.65 0 1 0 -3.3 0M176.8 50.1a1.65 1.65 0 1 0 3.3 0a1.65 1.65 0 1 0 -3.3 0" fill="none" stroke="#ff0000" stroke-width="0.8"/>
<path d="M48.4 70.8 50 70.6 52 69 54.6 66 56 67 57.3 68.5 59.1 66.3 60.9 60.9 62.2 39.1 63.1 26.5 64.5 19.2 66.3 15.6 68.1 15.3 70.9 17.4 73.6 21 76.5 22.8 81.4 24.7 86.8 26.5 94 29.7 103 32.8 112 34.6 121 37 126 36.6 131.4 38 137.4 39.9 139 38.5 145.5 40.7 153 41.3 160.7 42.4 165 41.5 171.6 42.4 174.8 43.5 178.4 42.8" fill="none" stroke="#0000ff" stroke-width="1.2" stroke-opacity="0.88" stroke-linejoin="round" stroke-linecap="round"/>
<path d="M221.8 70.9a1.65 1.65 0 1 0 3.3 0a1.65 1.65 0 1 0 -3.3 0M222.3 70.9a1.65 1.65 0 1 0 3.3 0a1.65 1.65 0 1 0 -3.3 0M222.7 70.9a1.65 1.65 0 1 0 3.3 0a1.65 1.65 0 1 0 -3.3 0M223.2 70.9a1.65 1.65 0 1 0 3.3 0a1.65 1.65 0 1 0 -3.3 0M223.6 70.9a1.65 1.65 0 1 0 3.3 0a1.65 1.65 0 1 0 -3.3 0M224.1 70.9a1.65 1.65 0 1 0 3.3 0a1.65 1.65 0 1 0 -3.3 0M224.5 70.9a1.65 1.65 0 1 0 3.3 0a1.65 1.65 0 1 0 -3.3 0M225 70.9a1.65 1.65 0 1 0 3.3 0a1.65 1.65 0 1 0 -3.3 0M225.5 70.9a1.65 1.65 0 1 0 3.3 0a1.65 1.65 0 1 0 -3.3 0M225.9 70.9a1.65 1.65 0 1 0 3.3 0a1.65 1.65 0 1 0 -3.3 0M226.4 70.9a1.65 1.65 0 1 0 3.3 0a1.65 1.65 0 1 0 -3.3 0M226.8 70.9a1.65 1.65 0 1 0 3.3 0a1.65 1.65 0 1 0 -3.3 0M227.3 70.9a1.65 1.65 0 1 0 3.3 0a1.65 1.65 0 1 0 -3.3 0M227.7 70.9a1.65 1.65 0 1 0 3.3 0a1.65 1.65 0 1 0 -3.3 0M228.2 70.9a1.65 1.65 0 1 0 3.3 0a1.65 1.65 0 1 0 -3.3 0M228.6 70.9a1.65 1.65 0 1 0 3.3 0a1.65 1.65 0 1 0 -3.3 0M229.1 70.9a1.65 1.65 0 1 0 3.3 0a1.65 1.65 0 1 0 -3.3 0M229.6 70.9a1.65 1.65 0 1 0 3.3 0a1.65 1.65 0 1 0 -3.3 0M230 70.9a1.65 1.65 0 1 0 3.3 0a1.65 1.65 0 1 0 -3.3 0M230.5 70.9a1.65 1.65 0 1 0 3.3 0a1.65 1.65 0 1 0 -3.3 0M230.9 70.9a1.65 1.65 0 1 0 3.3 0a1.65 1.65 0 1 0 -3.3 0M231.4 70.9a1.65 1.65 0 1 0 3.3 0a1.65 1.65 0 1 0 -3.3 0M231.8 70.9a1.65 1.65 0 1 0 3.3 0a1.65 1.65 0 1 0 -3.3 0M232.3 70.9a1.65 1.65 0 1 0 3.3 0a1.65 1.65 0 1 0 -3.3 0M232.8 70.9a1.65 1.65 0 1 0 3.3 0a1.65 1.65 0 1 0 -3.3 0M233.2 70.9a1.65 1.65 0 1 0 3.3 0a1.65 1.65 0 1 0 -3.3 0M233.7 70.9a1.65 1.65 0 1 0 3.3 0a1.65 1.65 0 1 0 -3.3 0M234.1 70.9a1.65 1.65 0 1 0 3.3 0a1.65 1.65 0 1 0 -3.3 0M234.6 70.9a1.65 1.65 0 1 0 3.3 0a1.65 1.65 0 1 0 -3.3 0M235 70.9a1.65 1.65 0 1 0 3.3 0a1.65 1.65 0 1 0 -3.3 0M235.5 70.9a1.65 1.65 0 1 0 3.3 0a1.65 1.65 0 1 0 -3.3 0M236 70.9a1.65 1.65 0 1 0 3.3 0a1.65 1.65 0 1 0 -3.3 0M236.4 70.9a1.65 1.65 0 1 0 3.3 0a1.65 1.65 0 1 0 -3.3 0M236.9 70.9a1.65 1.65 0 1 0 3.3 0a1.65 1.65 0 1 0 -3.3 0M237.3 70.9a1.65 1.65 0 1 0 3.3 0a1.65 1.65 0 1 0 -3.3 0M237.8 70.9a1.65 1.65 0 1 0 3.3 0a1.65 1.65 0 1 0 -3.3 0M238.2 70.9a1.65 1.65 0 1 0 3.3 0a1.65 1.65 0 1 0 -3.3 0M238.7 70.9a1.65 1.65 0 1 0 3.3 0a1.65 1.65 0 1 0 -3.3 0M239.2 70.9a1.65 1.65 0 1 0 3.3 0a1.65 1.65 0 1 0 -3.3 0M239.6 70.9a1.65 1.65 0 1 0 3.3 0a1.65 1.65 0 1 0 -3.3 0M240.1 70.9a1.65 1.65 0 1 0 3.3 0a1.65 1.65 0 1 0 -3.3 0M240.5 70.9a1.65 1.65 0 1 0 3.3 0a1.65 1.65 0 1 0 -3.3 0M241 70.9a1.65 1.65 0 1 0 3.3 0a1.65 1.65 0 1 0 -3.3 0M241.4 70.9a1.65 1.65 0 1 0 3.3 0a1.65 1.65 0 1 0 -3.3 0M241.9 70.9a1.65 1.65 0 1 0 3.3 0a1.65 1.65 0 1 0 -3.3 0M242.3 70.9a1.65 1.65 0 1 0 3.3 0a1.65 1.65 0 1 0 -3.3 0M242.8 70.9a1.65 1.65 0 1 0 3.3 0a1.65 1.65 0 1 0 -3.3 0M243.3 70.9a1.65 1.65 0 1 0 3.3 0a1.65 1.65 0 1 0 -3.3 0M243.7 70.9a1.65 1.65 0 1 0 3.3 0a1.65 1.65 0 1 0 -3.3 0M244.2 70.9a1.65 1.65 0 1 0 3.3 0a1.65 1.65 0 1 0 -3.3 0M244.6 70.9a1.65 1.65 0 1 0 3.3 0a1.65 1.65 0 1 0 -3.3 0M245.1 70.9a1.65 1.65 0 1 0 3.3 0a1.65 1.65 0 1 0 -3.3 0M245.5 70.9a1.65 1.65 0 1 0 3.3 0a1.65 1.65 0 1 0 -3.3 0M246 70.9a1.65 1.65 0 1 0 3.3 0a1.65 1.65 0 1 0 -3.3 0M246.5 70.9a1.65 1.65 0 1 0 3.3 0a1.65 1.65 0 1 0 -3.3 0M246.9 70.9a1.65 1.65 0 1 0 3.3 0a1.65 1.65 0 1 0 -3.3 0M247.4 70.9a1.65 1.65 0 1 0 3.3 0a1.65 1.65 0 1 0 -3.3 0M247.8 70.9a1.65 1.65 0 1 0 3.3 0a1.65 1.65 0 1 0 -3.3 0M248.3 70.9a1.65 1.65 0 1 0 3.3 0a1.65 1.65 0 1 0 -3.3 0M248.7 70.9a1.65 1.65 0 1 0 3.3 0a1.65 1.65 0 1 0 -3.3 0M249.2 70.9a1.65 1.65 0 1 0 3.3 0a1.65 1.65 0 1 0 -3.3 0M249.7 64.1a1.65 1.65 0 1 0 3.3 0a1.65 1.65 0 1 0 -3.3 0M250.1 61.7a1.65 1.65 0 1 0 3.3 0a1.65 1.65 0 1 0 -3.3 0M250.6 59.4a1.65 1.65 0 1 0 3.3 0a1.65 1.65 0 1 0 -3.3 0M251 57.1a1.65 1.65 0 1 0 3.3 0a1.65 1.65 0 1 0 -3.3 0M251.5 54.6a1.65 1.65 0 1 0 3.3 0a1.65 1.65 0 1 0 -3.3 0M251.9 51.9a1.65 1.65 0 1 0 3.3 0a1.65 1.65 0 1 0 -3.3 0M252.4 49.2a1.65 1.65 0 1 0 3.3 0a1.65 1.65 0 1 0 -3.3 0M252.9 46.5a1.65 1.65 0 1 0 3.3 0a1.65 1.65 0 1 0 -3.3 0M253.3 45.5a1.65 1.65 0 1 0 3.3 0a1.65 1.65 0 1 0 -3.3 0M253.8 44.4a1.65 1.65 0 1 0 3.3 0a1.65 1.65 0 1 0 -3.3 0M254.2 41.9a1.65 1.65 0 1 0 3.3 0a1.65 1.65 0 1 0 -3.3 0M254.7 37.8a1.65 1.65 0 1 0 3.3 0a1.65 1.65 0 1 0 -3.3 0M255.1 36.3a1.65 1.65 0 1 0 3.3 0a1.65 1.65 0 1 0 -3.3 0M255.6 34.8a1.65 1.65 0 1 0 3.3 0a1.65 1.65 0 1 0 -3.3 0M256.1 33.3a1.65 1.65 0 1 0 3.3 0a1.65 1.65 0 1 0 -3.3 0M256.5 31.4a1.65 1.65 0 1 0 3.3 0a1.65 1.65 0 1 0 -3.3 0M257 29.7a1.65 1.65 0 1 0 3.3 0a1.65 1.65 0 1 0 -3.3 0M257.4 28.7a1.65 1.65 0 1 0 3.3 0a1.65 1.65 0 1 0 -3.3 0M257.9 27.4a1.65 1.65 0 1 0 3.3 0a1.65 1.65 0 1 0 -3.3 0M258.3 27.2a1.65 1.65 0 1 0 3.3 0a1.65 1.65 0 1 0 -3.3 0M258.8 26.2a1.65 1.65 0 1 0 3.3 0a1.65 1.65 0 1 0 -3.3 0M259.2 27.9a1.65 1.65 0 1 0 3.3 0a1.65 1.65 0 1 0 -3.3 0M259.7 28.7a1.65 1.65 0 1 0 3.3 0a1.65 1.65 0 1 0 -3.3 0M260.2 26.9a1.65 1.65 0 1 0 3.3 0a1.65 1.65 0 1 0 -3.3 0M260.6 24.9a1.65 1.65 0 1 0 3.3 0a1.65 1.65 0 1 0 -3.3 0M261.1 28.1a1.65 1.65 0 1 0 3.3 0a1.65 1.65 0 1 0 -3.3 0M261.5 29a1.65 1.65 0 1 0 3.3 0a1.65 1.65 0 1 0 -3.3 0M262 29.3a1.65 1.65 0 1 0 3.3 0a1.65 1.65 0 1 0 -3.3 0M262.4 27.2a1.65 1.65 0 1 0 3.3 0a1.65 1.65 0 1 0 -3.3 0M262.9 27.1a1.65 1.65 0 1 0 3.3 0a1.65 1.65 0 1 0 -3.3 0M263.4 27.5a1.65 1.65 0 1 0 3.3 0a1.65 1.65 0 1 0 -3.3 0M263.8 29.3a1.65 1.65 0 1 0 3.3 0a1.65 1.65 0 1 0 -3.3 0M264.3 26.1a1.65 1.65 0 1 0 3.3 0a1.65 1.65 0 1 0 -3.3 0M264.7 30a1.65 1.65 0 1 0 3.3 0a1.65 1.65 0 1 0 -3.3 0M265.2 26.9a1.65 1.65 0 1 0 3.3 0a1.65 1.65 0 1 0 -3.3 0M265.6 28a1.65 1.65 0 1 0 3.3 0a1.65 1.65 0 1 0 -3.3 0M266.1 27.8a1.65 1.65 0 1 0 3.3 0a1.65 1.65 0 1 0 -3.3 0M266.6 30.1a1.65 1.65 0 1 0 3.3 0a1.65 1.65 0 1 0 -3.3 0M267 29.6a1.65 1.65 0 1 0 3.3 0a1.65 1.65 0 1 0 -3.3 0M267.5 26.6a1.65 1.65 0 1 0 3.3 0a1.65 1.65 0 1 0 -3.3 0M267.9 29.3a1.65 1.65 0 1 0 3.3 0a1.65 1.65 0 1 0 -3.3 0M268.4 29.9a1.65 1.65 0 1 0 3.3 0a1.65 1.65 0 1 0 -3.3 0M268.8 30.3a1.65 1.65 0 1 0 3.3 0a1.65 1.65 0 1 0 -3.3 0M269.3 31.3a1.65 1.65 0 1 0 3.3 0a1.65 1.65 0 1 0 -3.3 0M269.8 30.3a1.65 1.65 0 1 0 3.3 0a1.65 1.65 0 1 0 -3.3 0M270.2 29.4a1.65 1.65 0 1 0 3.3 0a1.65 1.65 0 1 0 -3.3 0M270.7 30.7a1.65 1.65 0 1 0 3.3 0a1.65 1.65 0 1 0 -3.3 0M271.1 31.3a1.65 1.65 0 1 0 3.3 0a1.65 1.65 0 1 0 -3.3 0M271.6 30.4a1.65 1.65 0 1 0 3.3 0a1.65 1.65 0 1 0 -3.3 0M272 31.2a1.65 1.65 0 1 0 3.3 0a1.65 1.65 0 1 0 -3.3 0M272.5 33.3a1.65 1.65 0 1 0 3.3 0a1.65 1.65 0 1 0 -3.3 0M272.9 33.7a1.65 1.65 0 1 0 3.3 0a1.65 1.65 0 1 0 -3.3 0M273.4 31.5a1.65 1.65 0 1 0 3.3 0a1.65 1.65 0 1 0 -3.3 0M273.9 32.1a1.65 1.65 0 1 0 3.3 0a1.65 1.65 0 1 0 -3.3 0M274.3 34.5a1.65 1.65 0 1 0 3.3 0a1.65 1.65 0 1 0 -3.3 0M274.8 32.7a1.65 1.65 0 1 0 3.3 0a1.65 1.65 0 1 0 -3.3 0M275.2 34.8a1.65 1.65 0 1 0 3.3 0a1.65 1.65 0 1 0 -3.3 0M275.7 35.1a1.65 1.65 0 1 0 3.3 0a1.65 1.65 0 1 0 -3.3 0M276.1 33.8a1.65 1.65 0 1 0 3.3 0a1.65 1.65 0 1 0 -3.3 0M276.6 36a1.65 1.65 0 1 0 3.3 0a1.65 1.65 0 1 0 -3.3 0M277.1 32.8a1.65 1.65 0 1 0 3.3 0a1.65 1.65 0 1 0 -3.3 0M277.5 34.8a1.65 1.65 0 1 0 3.3 0a1.65 1.65 0 1 0 -3.3 0M278 35.1a1.65 1.65 0 1 0 3.3 0a1.65 1.65 0 1 0 -3.3 0M278.4 33.5a1.65 1.65 0 1 0 3.3 0a1.65 1.65 0 1 0 -3.3 0M278.9 33.3a1.65 1.65 0 1 0 3.3 0a1.65 1.65 0 1 0 -3.3 0M279.3 33.5a1.65 1.65 0 1 0 3.3 0a1.65 1.65 0 1 0 -3.3 0M279.8 34.6a1.65 1.65 0 1 0 3.3 0a1.65 1.65 0 1 0 -3.3 0M280.3 35.9a1.65 1.65 0 1 0 3.3 0a1.65 1.65 0 1 0 -3.3 0M280.7 33a1.65 1.65 0 1 0 3.3 0a1.65 1.65 0 1 0 -3.3 0M281.2 34a1.65 1.65 0 1 0 3.3 0a1.65 1.65 0 1 0 -3.3 0M281.6 35.4a1.65 1.65 0 1 0 3.3 0a1.65 1.65 0 1 0 -3.3 0M282.1 36.7a1.65 1.65 0 1 0 3.3 0a1.65 1.65 0 1 0 -3.3 0M282.5 35a1.65 1.65 0 1 0 3.3 0a1.65 1.65 0 1 0 -3.3 0M283 34.4a1.65 1.65 0 1 0 3.3 0a1.65 1.65 0 1 0 -3.3 0M283.4 34.9a1.65 1.65 0 1 0 3.3 0a1.65 1.65 0 1 0 -3.3 0M283.9 36.8a1.65 1.65 0 1 0 3.3 0a1.65 1.65 0 1 0 -3.3 0M284.4 36a1.65 1.65 0 1 0 3.3 0a1.65 1.65 0 1 0 -3.3 0M284.8 35.6a1.65 1.65 0 1 0 3.3 0a1.65 1.65 0 1 0 -3.3 0M285.3 35.5a1.65 1.65 0 1 0 3.3 0a1.65 1.65 0 1 0 -3.3 0M285.7 36.4a1.65 1.65 0 1 0 3.3 0a1.65 1.65 0 1 0 -3.3 0M286.2 34.2a1.65 1.65 0 1 0 3.3 0a1.65 1.65 0 1 0 -3.3 0M286.6 37.8a1.65 1.65 0 1 0 3.3 0a1.65 1.65 0 1 0 -3.3 0M287.1 36.4a1.65 1.65 0 1 0 3.3 0a1.65 1.65 0 1 0 -3.3 0M287.6 36.4a1.65 1.65 0 1 0 3.3 0a1.65 1.65 0 1 0 -3.3 0M288 37.1a1.65 1.65 0 1 0 3.3 0a1.65 1.65 0 1 0 -3.3 0M288.5 38.5a1.65 1.65 0 1 0 3.3 0a1.65 1.65 0 1 0 -3.3 0M288.9 35.9a1.65 1.65 0 1 0 3.3 0a1.65 1.65 0 1 0 -3.3 0M289.4 35.8a1.65 1.65 0 1 0 3.3 0a1.65 1.65 0 1 0 -3.3 0M289.8 36.1a1.65 1.65 0 1 0 3.3 0a1.65 1.65 0 1 0 -3.3 0M290.3 34.6a1.65 1.65 0 1 0 3.3 0a1.65 1.65 0 1 0 -3.3 0M290.8 38.5a1.65 1.65 0 1 0 3.3 0a1.65 1.65 0 1 0 -3.3 0M291.2 36.3a1.65 1.65 0 1 0 3.3 0a1.65 1.65 0 1 0 -3.3 0M291.7 36a1.65 1.65 0 1 0 3.3 0a1.65 1.65 0 1 0 -3.3 0M292.1 38.4a1.65 1.65 0 1 0 3.3 0a1.65 1.65 0 1 0 -3.3 0M292.6 37.3a1.65 1.65 0 1 0 3.3 0a1.65 1.65 0 1 0 -3.3 0M293 36.2a1.65 1.65 0 1 0 3.3 0a1.65 1.65 0 1 0 -3.3 0M293.5 40.8a1.65 1.65 0 1 0 3.3 0a1.65 1.65 0 1 0 -3.3 0M294 36.1a1.65 1.65 0 1 0 3.3 0a1.65 1.65 0 1 0 -3.3 0M294.4 38.6a1.65 1.65 0 1 0 3.3 0a1.65 1.65 0 1 0 -3.3 0M294.9 38a1.65 1.65 0 1 0 3.3 0a1.65 1.65 0 1 0 -3.3 0M295.3 39a1.65 1.65 0 1 0 3.3 0a1.65 1.65 0 1 0 -3.3 0M295.8 38.3a1.65 1.65 0 1 0 3.3 0a1.65 1.65 0 1 0 -3.3 0M296.2 37.6a1.65 1.65 0 1 0 3.3 0a1.65 1.65 0 1 0 -3.3 0M296.7 38.1a1.65 1.65 0 1 0 3.3 0a1.65 1.65 0 1 0 -3.3 0M297.2 39.2a1.65 1.65 0 1 0 3.3 0a1.65 1.65 0 1 0 -3.3 0M297.6 37.9a1.65 1.65 0 1 0 3.3 0a1.65 1.65 0 1 0 -3.3 0M298.1 41.1a1.65 1.65 0 1 0 3.3 0a1.65 1.65 0 1 0 -3.3 0M298.5 36.8a1.65 1.65 0 1 0 3.3 0a1.65 1.65 0 1 0 -3.3 0M299 39.2a1.65 1.65 0 1 0 3.3 0a1.65 1.65 0 1 0 -3.3 0M299.4 42.7a1.65 1.65 0 1 0 3.3 0a1.65 1.65 0 1 0 -3.3 0M299.9 39.1a1.65 1.65 0 1 0 3.3 0a1.65 1.65 0 1 0 -3.3 0M300.3 38.9a1.65 1.65 0 1 0 3.3 0a1.65 1.65 0 1 0 -3.3 0M300.8 38.7a1.65 1.65 0 1 0 3.3 0a1.65 1.65 0 1 0 -3.3 0M301.3 41.6a1.65 1.65 0 1 0 3.3 0a1.65 1.65 0 1 0 -3.3 0M301.7 42.5a1.65 1.65 0 1 0 3.3 0a1.65 1.65 0 1 0 -3.3 0M302.2 41.2a1.65 1.65 0 1 0 3.3 0a1.65 1.65 0 1 0 -3.3 0M302.6 41.3a1.65 1.65 0 1 0 3.3 0a1.65 1.65 0 1 0 -3.3 0M303.1 43.7a1.65 1.65 0 1 0 3.3 0a1.65 1.65 0 1 0 -3.3 0M303.5 42.7a1.65 1.65 0 1 0 3.3 0a1.65 1.65 0 1 0 -3.3 0M304 41.5a1.65 1.65 0 1 0 3.3 0a1.65 1.65 0 1 0 -3.3 0M304.5 41.7a1.65 1.65 0 1 0 3.3 0a1.65 1.65 0 1 0 -3.3 0M304.9 43a1.65 1.65 0 1 0 3.3 0a1.65 1.65 0 1 0 -3.3 0M305.4 40.1a1.65 1.65 0 1 0 3.3 0a1.65 1.65 0 1 0 -3.3 0M305.8 40.6a1.65 1.65 0 1 0 3.3 0a1.65 1.65 0 1 0 -3.3 0M306.3 42.8a1.65 1.65 0 1 0 3.3 0a1.65 1.65 0 1 0 -3.3 0M306.7 44.5a1.65 1.65 0 1 0 3.3 0a1.65 1.65 0 1 0 -3.3 0M307.2 42.8a1.65 1.65 0 1 0 3.3 0a1.65 1.65 0 1 0 -3.3 0M307.7 43.9a1.65 1.65 0 1 0 3.3 0a1.65 1.65 0 1 0 -3.3 0M308.1 41.7a1.65 1.65 0 1 0 3.3 0a1.65 1.65 0 1 0 -3.3 0M308.6 42.1a1.65 1.65 0 1 0 3.3 0a1.65 1.65 0 1 0 -3.3 0M309 44a1.65 1.65 0 1 0 3.3 0a1.65 1.65 0 1 0 -3.3 0M309.5 41.7a1.65 1.65 0 1 0 3.3 0a1.65 1.65 0 1 0 -3.3 0M309.9 41.6a1.65 1.65 0 1 0 3.3 0a1.65 1.65 0 1 0 -3.3 0M310.4 43.7a1.65 1.65 0 1 0 3.3 0a1.65 1.65 0 1 0 -3.3 0M310.9 43.2a1.65 1.65 0 1 0 3.3 0a1.65 1.65 0 1 0 -3.3 0M311.3 40.8a1.65 1.65 0 1 0 3.3 0a1.65 1.65 0 1 0 -3.3 0M311.8 43.9a1.65 1.65 0 1 0 3.3 0a1.65 1.65 0 1 0 -3.3 0M312.2 41.4a1.65 1.65 0 1 0 3.3 0a1.65 1.65 0 1 0 -3.3 0M312.7 43.4a1.65 1.65 0 1 0 3.3 0a1.65 1.65 0 1 0 -3.3 0M313.1 43.3a1.65 1.65 0 1 0 3.3 0a1.65 1.65 0 1 0 -3.3 0M313.6 42.2a1.65 1.65 0 1 0 3.3 0a1.65 1.65 0 1 0 -3.3 0M314 43.5a1.65 1.65 0 1 0 3.3 0a1.65 1.65 0 1 0 -3.3 0M314.5 43.4a1.65 1.65 0 1 0 3.3 0a1.65 1.65 0 1 0 -3.3 0M315 43.6a1.65 1.65 0 1 0 3.3 0a1.65 1.65 0 1 0 -3.3 0M315.4 44.2a1.65 1.65 0 1 0 3.3 0a1.65 1.65 0 1 0 -3.3 0M315.9 44.3a1.65 1.65 0 1 0 3.3 0a1.65 1.65 0 1 0 -3.3 0M316.3 43.3a1.65 1.65 0 1 0 3.3 0a1.65 1.65 0 1 0 -3.3 0M316.8 42.8a1.65 1.65 0 1 0 3.3 0a1.65 1.65 0 1 0 -3.3 0M317.2 43.3a1.65 1.65 0 1 0 3.3 0a1.65 1.65 0 1 0 -3.3 0M317.7 44.2a1.65 1.65 0 1 0 3.3 0a1.65 1.65 0 1 0 -3.3 0M318.2 46.2a1.65 1.65 0 1 0 3.3 0a1.65 1.65 0 1 0 -3.3 0M318.6 43.2a1.65 1.65 0 1 0 3.3 0a1.65 1.65 0 1 0 -3.3 0M319.1 43.8a1.65 1.65 0 1 0 3.3 0a1.65 1.65 0 1 0 -3.3 0M319.5 44.8a1.65 1.65 0 1 0 3.3 0a1.65 1.65 0 1 0 -3.3 0M320 43.6a1.65 1.65 0 1 0 3.3 0a1.65 1.65 0 1 0 -3.3 0M320.4 43.3a1.65 1.65 0 1 0 3.3 0a1.65 1.65 0 1 0 -3.3 0M320.9 44.4a1.65 1.65 0 1 0 3.3 0a1.65 1.65 0 1 0 -3.3 0M321.4 42.5a1.65 1.65 0 1 0 3.3 0a1.65 1.65 0 1 0 -3.3 0M321.8 43.3a1.65 1.65 0 1 0 3.3 0a1.65 1.65 0 1 0 -3.3 0M322.3 44.3a1.65 1.65 0 1 0 3.3 0a1.65 1.65 0 1 0 -3.3 0M322.7 45.5a1.65 1.65 0 1 0 3.3 0a1.65 1.65 0 1 0 -3.3 0M323.2 44.9a1.65 1.65 0 1 0 3.3 0a1.65 1.65 0 1 0 -3.3 0M323.6 46.3a1.65 1.65 0 1 0 3.3 0a1.65 1.65 0 1 0 -3.3 0M324.1 45.1a1.65 1.65 0 1 0 3.3 0a1.65 1.65 0 1 0 -3.3 0M324.6 47a1.65 1.65 0 1 0 3.3 0a1.65 1.65 0 1 0 -3.3 0M325 45.6a1.65 1.65 0 1 0 3.3 0a1.65 1.65 0 1 0 -3.3 0M325.5 45.6a1.65 1.65 0 1 0 3.3 0a1.65 1.65 0 1 0 -3.3 0M325.9 46.7a1.65 1.65 0 1 0 3.3 0a1.65 1.65 0 1 0 -3.3 0M326.4 46.1a1.65 1.65 0 1 0 3.3 0a1.65 1.65 0 1 0 -3.3 0M326.8 45.9a1.65 1.65 0 1 0 3.3 0a1.65 1.65 0 1 0 -3.3 0M327.3 44.8a1.65 1.65 0 1 0 3.3 0a1.65 1.65 0 1 0 -3.3 0M327.7 43.8a1.65 1.65 0 1 0 3.3 0a1.65 1.65 0 1 0 -3.3 0M328.2 47.5a1.65 1.65 0 1 0 3.3 0a1.65 1.65 0 1 0 -3.3 0M328.7 45.8a1.65 1.65 0 1 0 3.3 0a1.65 1.65 0 1 0 -3.3 0M329.1 44.3a1.65 1.65 0 1 0 3.3 0a1.65 1.65 0 1 0 -3.3 0M329.6 44.1a1.65 1.65 0 1 0 3.3 0a1.65 1.65 0 1 0 -3.3 0M330 46.5a1.65 1.65 0 1 0 3.3 0a1.65 1.65 0 1 0 -3.3 0M330.5 47.9a1.65 1.65 0 1 0 3.3 0a1.65 1.65 0 1 0 -3.3 0M330.9 45.5a1.65 1.65 0 1 0 3.3 0a1.65 1.65 0 1 0 -3.3 0M331.4 45.8a1.65 1.65 0 1 0 3.3 0a1.65 1.65 0 1 0 -3.3 0M331.9 45.7a1.65 1.65 0 1 0 3.3 0a1.65 1.65 0 1 0 -3.3 0M332.3 47.9a1.65 1.65 0 1 0 3.3 0a1.65 1.65 0 1 0 -3.3 0M332.8 46.8a1.65 1.65 0 1 0 3.3 0a1.65 1.65 0 1 0 -3.3 0M333.2 47.1a1.65 1.65 0 1 0 3.3 0a1.65 1.65 0 1 0 -3.3 0M333.7 47.8a1.65 1.65 0 1 0 3.3 0a1.65 1.65 0 1 0 -3.3 0M334.1 47.7a1.65 1.65 0 1 0 3.3 0a1.65 1.65 0 1 0 -3.3 0M334.6 47.9a1.65 1.65 0 1 0 3.3 0a1.65 1.65 0 1 0 -3.3 0M335.1 48.3a1.65 1.65 0 1 0 3.3 0a1.65 1.65 0 1 0 -3.3 0M335.5 47.6a1.65 1.65 0 1 0 3.3 0a1.65 1.65 0 1 0 -3.3 0M336 50a1.65 1.65 0 1 0 3.3 0a1.65 1.65 0 1 0 -3.3 0M336.4 47.4a1.65 1.65 0 1 0 3.3 0a1.65 1.65 0 1 0 -3.3 0M336.9 47.9a1.65 1.65 0 1 0 3.3 0a1.65 1.65 0 1 0 -3.3 0M337.3 47.3a1.65 1.65 0 1 0 3.3 0a1.65 1.65 0 1 0 -3.3 0M337.8 49.4a1.65 1.65 0 1 0 3.3 0a1.65 1.65 0 1 0 -3.3 0M338.2 48.3a1.65 1.65 0 1 0 3.3 0a1.65 1.65 0 1 0 -3.3 0M338.7 48.7a1.65 1.65 0 1 0 3.3 0a1.65 1.65 0 1 0 -3.3 0M339.2 48.6a1.65 1.65 0 1 0 3.3 0a1.65 1.65 0 1 0 -3.3 0M339.6 49.2a1.65 1.65 0 1 0 3.3 0a1.65 1.65 0 1 0 -3.3 0M340.1 49.2a1.65 1.65 0 1 0 3.3 0a1.65 1.65 0 1 0 -3.3 0M340.5 48.8a1.65 1.65 0 1 0 3.3 0a1.65 1.65 0 1 0 -3.3 0M341 46.7a1.65 1.65 0 1 0 3.3 0a1.65 1.65 0 1 0 -3.3 0M341.4 47.2a1.65 1.65 0 1 0 3.3 0a1.65 1.65 0 1 0 -3.3 0M341.9 47.9a1.65 1.65 0 1 0 3.3 0a1.65 1.65 0 1 0 -3.3 0M342.4 48.5a1.65 1.65 0 1 0 3.3 0a1.65 1.65 0 1 0 -3.3 0M342.8 49.8a1.65 1.65 0 1 0 3.3 0a1.65 1.65 0 1 0 -3.3 0M343.3 49.6a1.65 1.65 0 1 0 3.3 0a1.65 1.65 0 1 0 -3.3 0M343.7 47.7a1.65 1.65 0 1 0 3.3 0a1.65 1.65 0 1 0 -3.3 0M344.2 50.1a1.65 1.65 0 1 0 3.3 0a1.65 1.65 0 1 0 -3.3 0M344.6 50.7a1.65 1.65 0 1 0 3.3 0a1.65 1.65 0 1 0 -3.3 0M345.1 49.5a1.65 1.65 0 1 0 3.3 0a1.65 1.65 0 1 0 -3.3 0M345.6 49.7a1.65 1.65 0 1 0 3.3 0a1.65 1.65 0 1 0 -3.3 0M346 49.1a1.65 1.65 0 1 0 3.3 0a1.65 1.65 0 1 0 -3.3 0M346.5 51.3a1.65 1.65 0 1 0 3.3 0a1.65 1.65 0 1 0 -3.3 0M346.9 50.2a1.65 1.65 0 1 0 3.3 0a1.65 1.65 0 1 0 -3.3 0M347.4 51.6a1.65 1.65 0 1 0 3.3 0a1.65 1.65 0 1 0 -3.3 0M347.8 50.4a1.65 1.65 0 1 0 3.3 0a1.65 1.65 0 1 0 -3.3 0M348.3 51.3a1.65 1.65 0 1 0 3.3 0a1.65 1.65 0 1 0 -3.3 0M348.8 51.1a1.65 1.65 0 1 0 3.3 0a1.65 1.65 0 1 0 -3.3 0M349.2 50a1.65 1.65 0 1 0 3.3 0a1.65 1.65 0 1 0 -3.3 0M349.7 49a1.65 1.65 0 1 0 3.3 0a1.65 1.65 0 1 0 -3.3 0M350.1 49.9a1.65 1.65 0 1 0 3.3 0a1.65 1.65 0 1 0 -3.3 0M350.6 50.9a1.65 1.65 0 1 0 3.3 0a1.65 1.65 0 1 0 -3.3 0M351 49.7a1.65 1.65 0 1 0 3.3 0a1.65 1.65 0 1 0 -3.3 0M351.5 50.8a1.65 1.65 0 1 0 3.3 0a1.65 1.65 0 1 0 -3.3 0M352 51.3a1.65 1.65 0 1 0 3.3 0a1.65 1.65 0 1 0 -3.3 0M352.4 51.2a1.65 1.65 0 1 0 3.3 0a1.65 1.65 0 1 0 -3.3 0M352.9 50.2a1.65 1.65 0 1 0 3.3 0a1.65 1.65 0 1 0 -3.3 0M353.3 50.6a1.65 1.65 0 1 0 3.3 0a1.65 1.65 0 1 0 -3.3 0M353.8 50.6a1.65 1.65 0 1 0 3.3 0a1.65 1.65 0 1 0 -3.3 0M354.2 50.6a1.65 1.65 0 1 0 3.3 0a1.65 1.65 0 1 0 -3.3 0M354.7 51.4a1.65 1.65 0 1 0 3.3 0a1.65 1.65 0 1 0 -3.3 0M355.1 50.3a1.65 1.65 0 1 0 3.3 0a1.65 1.65 0 1 0 -3.3 0M355.6 49.2a1.65 1.65 0 1 0 3.3 0a1.65 1.65 0 1 0 -3.3 0M356.1 50.2a1.65 1.65 0 1 0 3.3 0a1.65 1.65 0 1 0 -3.3 0M356.5 50.4a1.65 1.65 0 1 0 3.3 0a1.65 1.65 0 1 0 -3.3 0M357 50.8a1.65 1.65 0 1 0 3.3 0a1.65 1.65 0 1 0 -3.3 0M357.4 51.9a1.65 1.65 0 1 0 3.3 0a1.65 1.65 0 1 0 -3.3 0M357.9 50.4a1.65 1.65 0 1 0 3.3 0a1.65 1.65 0 1 0 -3.3 0M358.3 49.1a1.65 1.65 0 1 0 3.3 0a1.65 1.65 0 1 0 -3.3 0M358.8 49.7a1.65 1.65 0 1 0 3.3 0a1.65 1.65 0 1 0 -3.3 0" fill="none" stroke="#ff0000" stroke-width="0.8"/>
<path d="M230.3 70.8 249 70.6 249.4 66.3 250.5 53.6 251.8 39.1 252.8 27.4 253.8 26 254.7 20.6 255.7 18.5 257.1 21 258.5 23.3 261.2 24.6 263.9 26.5 266.6 26.9 271.1 27.5 274 28.3 276.9 30.3 283.9 32.7 290.8 34.8 297.7 36.9 304.6 39.6 311.6 41.3 318.5 42.8 321.9 43.3 328.9 45.4 335.8 47 342.7 48.4 349.6 50.2 356.5 50.9 360.5 51.2" fill="none" stroke="#0000ff" stroke-width="1.2" stroke-opacity="0.88" stroke-linejoin="round" stroke-linecap="round"/>
<path d="M403.4 70.9a1.65 1.65 0 1 0 3.3 0a1.65 1.65 0 1 0 -3.3 0M403.8 70.9a1.65 1.65 0 1 0 3.3 0a1.65 1.65 0 1 0 -3.3 0M404.3 70.9a1.65 1.65 0 1 0 3.3 0a1.65 1.65 0 1 0 -3.3 0M404.7 70.9a1.65 1.65 0 1 0 3.3 0a1.65 1.65 0 1 0 -3.3 0M405.2 70.9a1.65 1.65 0 1 0 3.3 0a1.65 1.65 0 1 0 -3.3 0M405.6 70.9a1.65 1.65 0 1 0 3.3 0a1.65 1.65 0 1 0 -3.3 0M406.1 70.9a1.65 1.65 0 1 0 3.3 0a1.65 1.65 0 1 0 -3.3 0M406.5 70.9a1.65 1.65 0 1 0 3.3 0a1.65 1.65 0 1 0 -3.3 0M407 70.9a1.65 1.65 0 1 0 3.3 0a1.65 1.65 0 1 0 -3.3 0M407.5 70.9a1.65 1.65 0 1 0 3.3 0a1.65 1.65 0 1 0 -3.3 0M407.9 70.9a1.65 1.65 0 1 0 3.3 0a1.65 1.65 0 1 0 -3.3 0M408.4 70.9a1.65 1.65 0 1 0 3.3 0a1.65 1.65 0 1 0 -3.3 0M408.8 70.9a1.65 1.65 0 1 0 3.3 0a1.65 1.65 0 1 0 -3.3 0M409.3 70.9a1.65 1.65 0 1 0 3.3 0a1.65 1.65 0 1 0 -3.3 0M409.7 70.9a1.65 1.65 0 1 0 3.3 0a1.65 1.65 0 1 0 -3.3 0M410.2 70.9a1.65 1.65 0 1 0 3.3 0a1.65 1.65 0 1 0 -3.3 0M410.7 70.9a1.65 1.65 0 1 0 3.3 0a1.65 1.65 0 1 0 -3.3 0M411.1 70.9a1.65 1.65 0 1 0 3.3 0a1.65 1.65 0 1 0 -3.3 0M411.6 70.9a1.65 1.65 0 1 0 3.3 0a1.65 1.65 0 1 0 -3.3 0M412 70.9a1.65 1.65 0 1 0 3.3 0a1.65 1.65 0 1 0 -3.3 0M412.5 70.9a1.65 1.65 0 1 0 3.3 0a1.65 1.65 0 1 0 -3.3 0M412.9 70.9a1.65 1.65 0 1 0 3.3 0a1.65 1.65 0 1 0 -3.3 0M413.4 70.9a1.65 1.65 0 1 0 3.3 0a1.65 1.65 0 1 0 -3.3 0M413.9 70.9a1.65 1.65 0 1 0 3.3 0a1.65 1.65 0 1 0 -3.3 0M414.3 70.9a1.65 1.65 0 1 0 3.3 0a1.65 1.65 0 1 0 -3.3 0M414.8 70.9a1.65 1.65 0 1 0 3.3 0a1.65 1.65 0 1 0 -3.3 0M415.2 70.9a1.65 1.65 0 1 0 3.3 0a1.65 1.65 0 1 0 -3.3 0M415.7 70.9a1.65 1.65 0 1 0 3.3 0a1.65 1.65 0 1 0 -3.3 0M416.1 70.9a1.65 1.65 0 1 0 3.3 0a1.65 1.65 0 1 0 -3.3 0M416.6 70.9a1.65 1.65 0 1 0 3.3 0a1.65 1.65 0 1 0 -3.3 0M417.1 70.9a1.65 1.65 0 1 0 3.3 0a1.65 1.65 0 1 0 -3.3 0M417.5 70.9a1.65 1.65 0 1 0 3.3 0a1.65 1.65 0 1 0 -3.3 0M418 70.9a1.65 1.65 0 1 0 3.3 0a1.65 1.65 0 1 0 -3.3 0M418.4 70.9a1.65 1.65 0 1 0 3.3 0a1.65 1.65 0 1 0 -3.3 0M418.9 70.9a1.65 1.65 0 1 0 3.3 0a1.65 1.65 0 1 0 -3.3 0M419.3 70.9a1.65 1.65 0 1 0 3.3 0a1.65 1.65 0 1 0 -3.3 0M419.8 70.9a1.65 1.65 0 1 0 3.3 0a1.65 1.65 0 1 0 -3.3 0M420.2 70.9a1.65 1.65 0 1 0 3.3 0a1.65 1.65 0 1 0 -3.3 0M420.7 70.9a1.65 1.65 0 1 0 3.3 0a1.65 1.65 0 1 0 -3.3 0M421.2 70.9a1.65 1.65 0 1 0 3.3 0a1.65 1.65 0 1 0 -3.3 0M421.6 70.9a1.65 1.65 0 1 0 3.3 0a1.65 1.65 0 1 0 -3.3 0M422.1 70.9a1.65 1.65 0 1 0 3.3 0a1.65 1.65 0 1 0 -3.3 0M422.5 70.9a1.65 1.65 0 1 0 3.3 0a1.65 1.65 0 1 0 -3.3 0M423 70.9a1.65 1.65 0 1 0 3.3 0a1.65 1.65 0 1 0 -3.3 0M423.4 70.9a1.65 1.65 0 1 0 3.3 0a1.65 1.65 0 1 0 -3.3 0M423.9 70.9a1.65 1.65 0 1 0 3.3 0a1.65 1.65 0 1 0 -3.3 0M424.4 70.9a1.65 1.65 0 1 0 3.3 0a1.65 1.65 0 1 0 -3.3 0M424.8 70.9a1.65 1.65 0 1 0 3.3 0a1.65 1.65 0 1 0 -3.3 0M425.3 70.9a1.65 1.65 0 1 0 3.3 0a1.65 1.65 0 1 0 -3.3 0M425.7 70.9a1.65 1.65 0 1 0 3.3 0a1.65 1.65 0 1 0 -3.3 0M426.2 70.9a1.65 1.65 0 1 0 3.3 0a1.65 1.65 0 1 0 -3.3 0M426.6 70.9a1.65 1.65 0 1 0 3.3 0a1.65 1.65 0 1 0 -3.3 0M427.1 70.9a1.65 1.65 0 1 0 3.3 0a1.65 1.65 0 1 0 -3.3 0M427.6 70.9a1.65 1.65 0 1 0 3.3 0a1.65 1.65 0 1 0 -3.3 0M428 70.9a1.65 1.65 0 1 0 3.3 0a1.65 1.65 0 1 0 -3.3 0M428.5 70.9a1.65 1.65 0 1 0 3.3 0a1.65 1.65 0 1 0 -3.3 0M428.9 70.9a1.65 1.65 0 1 0 3.3 0a1.65 1.65 0 1 0 -3.3 0M429.4 70.9a1.65 1.65 0 1 0 3.3 0a1.65 1.65 0 1 0 -3.3 0M429.8 70.9a1.65 1.65 0 1 0 3.3 0a1.65 1.65 0 1 0 -3.3 0M430.3 70.9a1.65 1.65 0 1 0 3.3 0a1.65 1.65 0 1 0 -3.3 0M430.8 70.9a1.65 1.65 0 1 0 3.3 0a1.65 1.65 0 1 0 -3.3 0M431.2 70.9a1.65 1.65 0 1 0 3.3 0a1.65 1.65 0 1 0 -3.3 0M431.7 70.9a1.65 1.65 0 1 0 3.3 0a1.65 1.65 0 1 0 -3.3 0M432.1 61.7a1.65 1.65 0 1 0 3.3 0a1.65 1.65 0 1 0 -3.3 0M432.6 58.7a1.65 1.65 0 1 0 3.3 0a1.65 1.65 0 1 0 -3.3 0M433 55.7a1.65 1.65 0 1 0 3.3 0a1.65 1.65 0 1 0 -3.3 0M433.5 52.7a1.65 1.65 0 1 0 3.3 0a1.65 1.65 0 1 0 -3.3 0M433.9 50.2a1.65 1.65 0 1 0 3.3 0a1.65 1.65 0 1 0 -3.3 0M434.4 48.3a1.65 1.65 0 1 0 3.3 0a1.65 1.65 0 1 0 -3.3 0M434.9 46.4a1.65 1.65 0 1 0 3.3 0a1.65 1.65 0 1 0 -3.3 0M435.3 44.3a1.65 1.65 0 1 0 3.3 0a1.65 1.65 0 1 0 -3.3 0M435.8 42.2a1.65 1.65 0 1 0 3.3 0a1.65 1.65 0 1 0 -3.3 0M436.2 36.8a1.65 1.65 0 1 0 3.3 0a1.65 1.65 0 1 0 -3.3 0M436.7 31a1.65 1.65 0 1 0 3.3 0a1.65 1.65 0 1 0 -3.3 0M437.1 29.9a1.65 1.65 0 1 0 3.3 0a1.65 1.65 0 1 0 -3.3 0M437.6 29.5a1.65 1.65 0 1 0 3.3 0a1.65 1.65 0 1 0 -3.3 0M438.1 24.5a1.65 1.65 0 1 0 3.3 0a1.65 1.65 0 1 0 -3.3 0M438.5 25.5a1.65 1.65 0 1 0 3.3 0a1.65 1.65 0 1 0 -3.3 0M439 27.8a1.65 1.65 0 1 0 3.3 0a1.65 1.65 0 1 0 -3.3 0M439.4 24a1.65 1.65 0 1 0 3.3 0a1.65 1.65 0 1 0 -3.3 0M439.9 26.7a1.65 1.65 0 1 0 3.3 0a1.65 1.65 0 1 0 -3.3 0M440.3 28.4a1.65 1.65 0 1 0 3.3 0a1.65 1.65 0 1 0 -3.3 0M440.8 25.2a1.65 1.65 0 1 0 3.3 0a1.65 1.65 0 1 0 -3.3 0M441.3 27.7a1.65 1.65 0 1 0 3.3 0a1.65 1.65 0 1 0 -3.3 0M441.7 27a1.65 1.65 0 1 0 3.3 0a1.65 1.65 0 1 0 -3.3 0M442.2 23.8a1.65 1.65 0 1 0 3.3 0a1.65 1.65 0 1 0 -3.3 0M442.6 27.6a1.65 1.65 0 1 0 3.3 0a1.65 1.65 0 1 0 -3.3 0M443.1 27.7a1.65 1.65 0 1 0 3.3 0a1.65 1.65 0 1 0 -3.3 0M443.5 28.6a1.65 1.65 0 1 0 3.3 0a1.65 1.65 0 1 0 -3.3 0M444 25.8a1.65 1.65 0 1 0 3.3 0a1.65 1.65 0 1 0 -3.3 0M444.5 22.7a1.65 1.65 0 1 0 3.3 0a1.65 1.65 0 1 0 -3.3 0M444.9 25.7a1.65 1.65 0 1 0 3.3 0a1.65 1.65 0 1 0 -3.3 0M445.4 25.9a1.65 1.65 0 1 0 3.3 0a1.65 1.65 0 1 0 -3.3 0M445.8 27.3a1.65 1.65 0 1 0 3.3 0a1.65 1.65 0 1 0 -3.3 0M446.3 25.8a1.65 1.65 0 1 0 3.3 0a1.65 1.65 0 1 0 -3.3 0M446.7 26.3a1.65 1.65 0 1 0 3.3 0a1.65 1.65 0 1 0 -3.3 0M447.2 28.4a1.65 1.65 0 1 0 3.3 0a1.65 1.65 0 1 0 -3.3 0M447.6 25.6a1.65 1.65 0 1 0 3.3 0a1.65 1.65 0 1 0 -3.3 0M448.1 23.3a1.65 1.65 0 1 0 3.3 0a1.65 1.65 0 1 0 -3.3 0M448.6 25.3a1.65 1.65 0 1 0 3.3 0a1.65 1.65 0 1 0 -3.3 0M449 24.1a1.65 1.65 0 1 0 3.3 0a1.65 1.65 0 1 0 -3.3 0M449.5 24.7a1.65 1.65 0 1 0 3.3 0a1.65 1.65 0 1 0 -3.3 0M449.9 24.2a1.65 1.65 0 1 0 3.3 0a1.65 1.65 0 1 0 -3.3 0M450.4 24.5a1.65 1.65 0 1 0 3.3 0a1.65 1.65 0 1 0 -3.3 0M450.8 29.1a1.65 1.65 0 1 0 3.3 0a1.65 1.65 0 1 0 -3.3 0M451.3 24.1a1.65 1.65 0 1 0 3.3 0a1.65 1.65 0 1 0 -3.3 0M451.8 21.9a1.65 1.65 0 1 0 3.3 0a1.65 1.65 0 1 0 -3.3 0M452.2 22a1.65 1.65 0 1 0 3.3 0a1.65 1.65 0 1 0 -3.3 0M452.7 25.2a1.65 1.65 0 1 0 3.3 0a1.65 1.65 0 1 0 -3.3 0M453.1 27.3a1.65 1.65 0 1 0 3.3 0a1.65 1.65 0 1 0 -3.3 0M453.6 26.7a1.65 1.65 0 1 0 3.3 0a1.65 1.65 0 1 0 -3.3 0M454 24.7a1.65 1.65 0 1 0 3.3 0a1.65 1.65 0 1 0 -3.3 0M454.5 27.2a1.65 1.65 0 1 0 3.3 0a1.65 1.65 0 1 0 -3.3 0M455 28a1.65 1.65 0 1 0 3.3 0a1.65 1.65 0 1 0 -3.3 0M455.4 26.7a1.65 1.65 0 1 0 3.3 0a1.65 1.65 0 1 0 -3.3 0M455.9 28.2a1.65 1.65 0 1 0 3.3 0a1.65 1.65 0 1 0 -3.3 0M456.3 24.7a1.65 1.65 0 1 0 3.3 0a1.65 1.65 0 1 0 -3.3 0M456.8 26.9a1.65 1.65 0 1 0 3.3 0a1.65 1.65 0 1 0 -3.3 0M457.2 26.1a1.65 1.65 0 1 0 3.3 0a1.65 1.65 0 1 0 -3.3 0M457.7 29.5a1.65 1.65 0 1 0 3.3 0a1.65 1.65 0 1 0 -3.3 0M458.2 25.8a1.65 1.65 0 1 0 3.3 0a1.65 1.65 0 1 0 -3.3 0M458.6 31.3a1.65 1.65 0 1 0 3.3 0a1.65 1.65 0 1 0 -3.3 0M459.1 30.6a1.65 1.65 0 1 0 3.3 0a1.65 1.65 0 1 0 -3.3 0M459.5 27.6a1.65 1.65 0 1 0 3.3 0a1.65 1.65 0 1 0 -3.3 0M460 28.2a1.65 1.65 0 1 0 3.3 0a1.65 1.65 0 1 0 -3.3 0M460.4 30.9a1.65 1.65 0 1 0 3.3 0a1.65 1.65 0 1 0 -3.3 0M460.9 27.8a1.65 1.65 0 1 0 3.3 0a1.65 1.65 0 1 0 -3.3 0M461.3 31.2a1.65 1.65 0 1 0 3.3 0a1.65 1.65 0 1 0 -3.3 0M461.8 27.1a1.65 1.65 0 1 0 3.3 0a1.65 1.65 0 1 0 -3.3 0M462.3 30.7a1.65 1.65 0 1 0 3.3 0a1.65 1.65 0 1 0 -3.3 0M462.7 31.5a1.65 1.65 0 1 0 3.3 0a1.65 1.65 0 1 0 -3.3 0M463.2 30.3a1.65 1.65 0 1 0 3.3 0a1.65 1.65 0 1 0 -3.3 0M463.6 30.2a1.65 1.65 0 1 0 3.3 0a1.65 1.65 0 1 0 -3.3 0M464.1 30.9a1.65 1.65 0 1 0 3.3 0a1.65 1.65 0 1 0 -3.3 0M464.5 31.3a1.65 1.65 0 1 0 3.3 0a1.65 1.65 0 1 0 -3.3 0M465 29.5a1.65 1.65 0 1 0 3.3 0a1.65 1.65 0 1 0 -3.3 0M465.5 28.5a1.65 1.65 0 1 0 3.3 0a1.65 1.65 0 1 0 -3.3 0M465.9 30a1.65 1.65 0 1 0 3.3 0a1.65 1.65 0 1 0 -3.3 0M466.4 29.7a1.65 1.65 0 1 0 3.3 0a1.65 1.65 0 1 0 -3.3 0M466.8 29.1a1.65 1.65 0 1 0 3.3 0a1.65 1.65 0 1 0 -3.3 0M467.3 29a1.65 1.65 0 1 0 3.3 0a1.65 1.65 0 1 0 -3.3 0M467.7 31.5a1.65 1.65 0 1 0 3.3 0a1.65 1.65 0 1 0 -3.3 0M468.2 31.1a1.65 1.65 0 1 0 3.3 0a1.65 1.65 0 1 0 -3.3 0M468.7 32.2a1.65 1.65 0 1 0 3.3 0a1.65 1.65 0 1 0 -3.3 0M469.1 31.8a1.65 1.65 0 1 0 3.3 0a1.65 1.65 0 1 0 -3.3 0M469.6 31.8a1.65 1.65 0 1 0 3.3 0a1.65 1.65 0 1 0 -3.3 0M470 32.4a1.65 1.65 0 1 0 3.3 0a1.65 1.65 0 1 0 -3.3 0M470.5 32.7a1.65 1.65 0 1 0 3.3 0a1.65 1.65 0 1 0 -3.3 0M470.9 34.4a1.65 1.65 0 1 0 3.3 0a1.65 1.65 0 1 0 -3.3 0M471.4 30.3a1.65 1.65 0 1 0 3.3 0a1.65 1.65 0 1 0 -3.3 0M471.9 32.2a1.65 1.65 0 1 0 3.3 0a1.65 1.65 0 1 0 -3.3 0M472.3 32.1a1.65 1.65 0 1 0 3.3 0a1.65 1.65 0 1 0 -3.3 0M472.8 32.7a1.65 1.65 0 1 0 3.3 0a1.65 1.65 0 1 0 -3.3 0M473.2 30.8a1.65 1.65 0 1 0 3.3 0a1.65 1.65 0 1 0 -3.3 0M473.7 31.1a1.65 1.65 0 1 0 3.3 0a1.65 1.65 0 1 0 -3.3 0M474.1 32a1.65 1.65 0 1 0 3.3 0a1.65 1.65 0 1 0 -3.3 0M474.6 31.9a1.65 1.65 0 1 0 3.3 0a1.65 1.65 0 1 0 -3.3 0M475 29.4a1.65 1.65 0 1 0 3.3 0a1.65 1.65 0 1 0 -3.3 0M475.5 32.8a1.65 1.65 0 1 0 3.3 0a1.65 1.65 0 1 0 -3.3 0M476 33.9a1.65 1.65 0 1 0 3.3 0a1.65 1.65 0 1 0 -3.3 0M476.4 34.9a1.65 1.65 0 1 0 3.3 0a1.65 1.65 0 1 0 -3.3 0M476.9 33.6a1.65 1.65 0 1 0 3.3 0a1.65 1.65 0 1 0 -3.3 0M477.3 32.7a1.65 1.65 0 1 0 3.3 0a1.65 1.65 0 1 0 -3.3 0M477.8 34.2a1.65 1.65 0 1 0 3.3 0a1.65 1.65 0 1 0 -3.3 0M478.2 32.7a1.65 1.65 0 1 0 3.3 0a1.65 1.65 0 1 0 -3.3 0M478.7 31.5a1.65 1.65 0 1 0 3.3 0a1.65 1.65 0 1 0 -3.3 0M479.2 31.7a1.65 1.65 0 1 0 3.3 0a1.65 1.65 0 1 0 -3.3 0M479.6 32.5a1.65 1.65 0 1 0 3.3 0a1.65 1.65 0 1 0 -3.3 0M480.1 34a1.65 1.65 0 1 0 3.3 0a1.65 1.65 0 1 0 -3.3 0M480.5 34.2a1.65 1.65 0 1 0 3.3 0a1.65 1.65 0 1 0 -3.3 0M481 31.4a1.65 1.65 0 1 0 3.3 0a1.65 1.65 0 1 0 -3.3 0M481.4 31.8a1.65 1.65 0 1 0 3.3 0a1.65 1.65 0 1 0 -3.3 0M481.9 34.4a1.65 1.65 0 1 0 3.3 0a1.65 1.65 0 1 0 -3.3 0M482.4 33.5a1.65 1.65 0 1 0 3.3 0a1.65 1.65 0 1 0 -3.3 0M482.8 34.6a1.65 1.65 0 1 0 3.3 0a1.65 1.65 0 1 0 -3.3 0M483.3 34a1.65 1.65 0 1 0 3.3 0a1.65 1.65 0 1 0 -3.3 0M483.7 33.1a1.65 1.65 0 1 0 3.3 0a1.65 1.65 0 1 0 -3.3 0M484.2 34.7a1.65 1.65 0 1 0 3.3 0a1.65 1.65 0 1 0 -3.3 0M484.6 35.8a1.65 1.65 0 1 0 3.3 0a1.65 1.65 0 1 0 -3.3 0M485.1 34.2a1.65 1.65 0 1 0 3.3 0a1.65 1.65 0 1 0 -3.3 0M485.6 33.3a1.65 1.65 0 1 0 3.3 0a1.65 1.65 0 1 0 -3.3 0M486 35.3a1.65 1.65 0 1 0 3.3 0a1.65 1.65 0 1 0 -3.3 0M486.5 35.8a1.65 1.65 0 1 0 3.3 0a1.65 1.65 0 1 0 -3.3 0M486.9 34a1.65 1.65 0 1 0 3.3 0a1.65 1.65 0 1 0 -3.3 0M487.4 33.2a1.65 1.65 0 1 0 3.3 0a1.65 1.65 0 1 0 -3.3 0M487.8 36.7a1.65 1.65 0 1 0 3.3 0a1.65 1.65 0 1 0 -3.3 0M488.3 36.2a1.65 1.65 0 1 0 3.3 0a1.65 1.65 0 1 0 -3.3 0M488.7 34.6a1.65 1.65 0 1 0 3.3 0a1.65 1.65 0 1 0 -3.3 0M489.2 35.9a1.65 1.65 0 1 0 3.3 0a1.65 1.65 0 1 0 -3.3 0M489.7 35.5a1.65 1.65 0 1 0 3.3 0a1.65 1.65 0 1 0 -3.3 0M490.1 36.5a1.65 1.65 0 1 0 3.3 0a1.65 1.65 0 1 0 -3.3 0M490.6 35.8a1.65 1.65 0 1 0 3.3 0a1.65 1.65 0 1 0 -3.3 0M491 35.9a1.65 1.65 0 1 0 3.3 0a1.65 1.65 0 1 0 -3.3 0M491.5 34.8a1.65 1.65 0 1 0 3.3 0a1.65 1.65 0 1 0 -3.3 0M491.9 34.8a1.65 1.65 0 1 0 3.3 0a1.65 1.65 0 1 0 -3.3 0M492.4 32.5a1.65 1.65 0 1 0 3.3 0a1.65 1.65 0 1 0 -3.3 0M492.9 36.8a1.65 1.65 0 1 0 3.3 0a1.65 1.65 0 1 0 -3.3 0M493.3 34.3a1.65 1.65 0 1 0 3.3 0a1.65 1.65 0 1 0 -3.3 0M493.8 35.1a1.65 1.65 0 1 0 3.3 0a1.65 1.65 0 1 0 -3.3 0M494.2 35a1.65 1.65 0 1 0 3.3 0a1.65 1.65 0 1 0 -3.3 0M494.7 34.9a1.65 1.65 0 1 0 3.3 0a1.65 1.65 0 1 0 -3.3 0M495.1 36.1a1.65 1.65 0 1 0 3.3 0a1.65 1.65 0 1 0 -3.3 0M495.6 34.1a1.65 1.65 0 1 0 3.3 0a1.65 1.65 0 1 0 -3.3 0M496.1 35.8a1.65 1.65 0 1 0 3.3 0a1.65 1.65 0 1 0 -3.3 0M496.5 35.3a1.65 1.65 0 1 0 3.3 0a1.65 1.65 0 1 0 -3.3 0M497 35.2a1.65 1.65 0 1 0 3.3 0a1.65 1.65 0 1 0 -3.3 0M497.4 36.2a1.65 1.65 0 1 0 3.3 0a1.65 1.65 0 1 0 -3.3 0M497.9 37.1a1.65 1.65 0 1 0 3.3 0a1.65 1.65 0 1 0 -3.3 0M498.3 35.4a1.65 1.65 0 1 0 3.3 0a1.65 1.65 0 1 0 -3.3 0M498.8 35.6a1.65 1.65 0 1 0 3.3 0a1.65 1.65 0 1 0 -3.3 0M499.2 35.8a1.65 1.65 0 1 0 3.3 0a1.65 1.65 0 1 0 -3.3 0M499.7 37.8a1.65 1.65 0 1 0 3.3 0a1.65 1.65 0 1 0 -3.3 0M500.2 37.7a1.65 1.65 0 1 0 3.3 0a1.65 1.65 0 1 0 -3.3 0M500.6 35.2a1.65 1.65 0 1 0 3.3 0a1.65 1.65 0 1 0 -3.3 0M501.1 36.3a1.65 1.65 0 1 0 3.3 0a1.65 1.65 0 1 0 -3.3 0M501.5 33.7a1.65 1.65 0 1 0 3.3 0a1.65 1.65 0 1 0 -3.3 0M502 37.4a1.65 1.65 0 1 0 3.3 0a1.65 1.65 0 1 0 -3.3 0M502.4 37.9a1.65 1.65 0 1 0 3.3 0a1.65 1.65 0 1 0 -3.3 0M502.9 38.8a1.65 1.65 0 1 0 3.3 0a1.65 1.65 0 1 0 -3.3 0M503.4 36.6a1.65 1.65 0 1 0 3.3 0a1.65 1.65 0 1 0 -3.3 0M503.8 34.7a1.65 1.65 0 1 0 3.3 0a1.65 1.65 0 1 0 -3.3 0M504.3 38.5a1.65 1.65 0 1 0 3.3 0a1.65 1.65 0 1 0 -3.3 0M504.7 35.7a1.65 1.65 0 1 0 3.3 0a1.65 1.65 0 1 0 -3.3 0M505.2 35.1a1.65 1.65 0 1 0 3.3 0a1.65 1.65 0 1 0 -3.3 0M505.6 39a1.65 1.65 0 1 0 3.3 0a1.65 1.65 0 1 0 -3.3 0M506.1 35.7a1.65 1.65 0 1 0 3.3 0a1.65 1.65 0 1 0 -3.3 0M506.6 38.6a1.65 1.65 0 1 0 3.3 0a1.65 1.65 0 1 0 -3.3 0M507 37.3a1.65 1.65 0 1 0 3.3 0a1.65 1.65 0 1 0 -3.3 0M507.5 36.8a1.65 1.65 0 1 0 3.3 0a1.65 1.65 0 1 0 -3.3 0M507.9 37.2a1.65 1.65 0 1 0 3.3 0a1.65 1.65 0 1 0 -3.3 0M508.4 36.3a1.65 1.65 0 1 0 3.3 0a1.65 1.65 0 1 0 -3.3 0M508.8 38.7a1.65 1.65 0 1 0 3.3 0a1.65 1.65 0 1 0 -3.3 0M509.3 40.2a1.65 1.65 0 1 0 3.3 0a1.65 1.65 0 1 0 -3.3 0M509.8 38.2a1.65 1.65 0 1 0 3.3 0a1.65 1.65 0 1 0 -3.3 0M510.2 36a1.65 1.65 0 1 0 3.3 0a1.65 1.65 0 1 0 -3.3 0M510.7 37.8a1.65 1.65 0 1 0 3.3 0a1.65 1.65 0 1 0 -3.3 0M511.1 37.1a1.65 1.65 0 1 0 3.3 0a1.65 1.65 0 1 0 -3.3 0M511.6 38.4a1.65 1.65 0 1 0 3.3 0a1.65 1.65 0 1 0 -3.3 0M512 37.2a1.65 1.65 0 1 0 3.3 0a1.65 1.65 0 1 0 -3.3 0M512.5 41.4a1.65 1.65 0 1 0 3.3 0a1.65 1.65 0 1 0 -3.3 0M513 38.8a1.65 1.65 0 1 0 3.3 0a1.65 1.65 0 1 0 -3.3 0M513.4 40a1.65 1.65 0 1 0 3.3 0a1.65 1.65 0 1 0 -3.3 0M513.9 40.2a1.65 1.65 0 1 0 3.3 0a1.65 1.65 0 1 0 -3.3 0M514.3 39.5a1.65 1.65 0 1 0 3.3 0a1.65 1.65 0 1 0 -3.3 0M514.8 40.9a1.65 1.65 0 1 0 3.3 0a1.65 1.65 0 1 0 -3.3 0M515.2 39.5a1.65 1.65 0 1 0 3.3 0a1.65 1.65 0 1 0 -3.3 0M515.7 38.4a1.65 1.65 0 1 0 3.3 0a1.65 1.65 0 1 0 -3.3 0M516.1 39.3a1.65 1.65 0 1 0 3.3 0a1.65 1.65 0 1 0 -3.3 0M516.6 38.3a1.65 1.65 0 1 0 3.3 0a1.65 1.65 0 1 0 -3.3 0M517.1 40.7a1.65 1.65 0 1 0 3.3 0a1.65 1.65 0 1 0 -3.3 0M517.5 40.1a1.65 1.65 0 1 0 3.3 0a1.65 1.65 0 1 0 -3.3 0M518 38.7a1.65 1.65 0 1 0 3.3 0a1.65 1.65 0 1 0 -3.3 0M518.4 40.8a1.65 1.65 0 1 0 3.3 0a1.65 1.65 0 1 0 -3.3 0M518.9 41a1.65 1.65 0 1 0 3.3 0a1.65 1.65 0 1 0 -3.3 0M519.3 40.6a1.65 1.65 0 1 0 3.3 0a1.65 1.65 0 1 0 -3.3 0M519.8 40.9a1.65 1.65 0 1 0 3.3 0a1.65 1.65 0 1 0 -3.3 0M520.3 40.8a1.65 1.65 0 1 0 3.3 0a1.65 1.65 0 1 0 -3.3 0M520.7 41.1a1.65 1.65 0 1 0 3.3 0a1.65 1.65 0 1 0 -3.3 0M521.2 39.9a1.65 1.65 0 1 0 3.3 0a1.65 1.65 0 1 0 -3.3 0M521.6 40.3a1.65 1.65 0 1 0 3.3 0a1.65 1.65 0 1 0 -3.3 0M522.1 40.6a1.65 1.65 0 1 0 3.3 0a1.65 1.65 0 1 0 -3.3 0M522.5 38.7a1.65 1.65 0 1 0 3.3 0a1.65 1.65 0 1 0 -3.3 0M523 41.2a1.65 1.65 0 1 0 3.3 0a1.65 1.65 0 1 0 -3.3 0M523.5 41.8a1.65 1.65 0 1 0 3.3 0a1.65 1.65 0 1 0 -3.3 0M523.9 42.2a1.65 1.65 0 1 0 3.3 0a1.65 1.65 0 1 0 -3.3 0M524.4 43.4a1.65 1.65 0 1 0 3.3 0a1.65 1.65 0 1 0 -3.3 0M524.8 41.2a1.65 1.65 0 1 0 3.3 0a1.65 1.65 0 1 0 -3.3 0M525.3 39.4a1.65 1.65 0 1 0 3.3 0a1.65 1.65 0 1 0 -3.3 0M525.7 41.1a1.65 1.65 0 1 0 3.3 0a1.65 1.65 0 1 0 -3.3 0M526.2 41.7a1.65 1.65 0 1 0 3.3 0a1.65 1.65 0 1 0 -3.3 0M526.6 41.8a1.65 1.65 0 1 0 3.3 0a1.65 1.65 0 1 0 -3.3 0M527.1 41.9a1.65 1.65 0 1 0 3.3 0a1.65 1.65 0 1 0 -3.3 0M527.6 42.6a1.65 1.65 0 1 0 3.3 0a1.65 1.65 0 1 0 -3.3 0M528 41.2a1.65 1.65 0 1 0 3.3 0a1.65 1.65 0 1 0 -3.3 0M528.5 42.8a1.65 1.65 0 1 0 3.3 0a1.65 1.65 0 1 0 -3.3 0M528.9 39.7a1.65 1.65 0 1 0 3.3 0a1.65 1.65 0 1 0 -3.3 0M529.4 40.8a1.65 1.65 0 1 0 3.3 0a1.65 1.65 0 1 0 -3.3 0M529.8 43.7a1.65 1.65 0 1 0 3.3 0a1.65 1.65 0 1 0 -3.3 0M530.3 42.1a1.65 1.65 0 1 0 3.3 0a1.65 1.65 0 1 0 -3.3 0M530.8 42a1.65 1.65 0 1 0 3.3 0a1.65 1.65 0 1 0 -3.3 0M531.2 40.3a1.65 1.65 0 1 0 3.3 0a1.65 1.65 0 1 0 -3.3 0M531.7 43.2a1.65 1.65 0 1 0 3.3 0a1.65 1.65 0 1 0 -3.3 0M532.1 40.7a1.65 1.65 0 1 0 3.3 0a1.65 1.65 0 1 0 -3.3 0M532.6 41.5a1.65 1.65 0 1 0 3.3 0a1.65 1.65 0 1 0 -3.3 0M533 42a1.65 1.65 0 1 0 3.3 0a1.65 1.65 0 1 0 -3.3 0M533.5 41.4a1.65 1.65 0 1 0 3.3 0a1.65 1.65 0 1 0 -3.3 0M534 40.5a1.65 1.65 0 1 0 3.3 0a1.65 1.65 0 1 0 -3.3 0M534.4 41.4a1.65 1.65 0 1 0 3.3 0a1.65 1.65 0 1 0 -3.3 0M534.9 43.4a1.65 1.65 0 1 0 3.3 0a1.65 1.65 0 1 0 -3.3 0M535.3 40.8a1.65 1.65 0 1 0 3.3 0a1.65 1.65 0 1 0 -3.3 0M535.8 41.8a1.65 1.65 0 1 0 3.3 0a1.65 1.65 0 1 0 -3.3 0M536.2 40.3a1.65 1.65 0 1 0 3.3 0a1.65 1.65 0 1 0 -3.3 0M536.7 42.5a1.65 1.65 0 1 0 3.3 0a1.65 1.65 0 1 0 -3.3 0M537.2 40.3a1.65 1.65 0 1 0 3.3 0a1.65 1.65 0 1 0 -3.3 0M537.6 43.3a1.65 1.65 0 1 0 3.3 0a1.65 1.65 0 1 0 -3.3 0M538.1 41.9a1.65 1.65 0 1 0 3.3 0a1.65 1.65 0 1 0 -3.3 0M538.5 42.2a1.65 1.65 0 1 0 3.3 0a1.65 1.65 0 1 0 -3.3 0M539 43.3a1.65 1.65 0 1 0 3.3 0a1.65 1.65 0 1 0 -3.3 0M539.4 42.7a1.65 1.65 0 1 0 3.3 0a1.65 1.65 0 1 0 -3.3 0M539.9 44a1.65 1.65 0 1 0 3.3 0a1.65 1.65 0 1 0 -3.3 0M540.4 42.5a1.65 1.65 0 1 0 3.3 0a1.65 1.65 0 1 0 -3.3 0M438 16.1a1.65 1.65 0 1 0 3.3 0a1.65 1.65 0 1 0 -3.3 0M449.2 18.5a1.65 1.65 0 1 0 3.3 0a1.65 1.65 0 1 0 -3.3 0M444.4 29.5a1.65 1.65 0 1 0 3.3 0a1.65 1.65 0 1 0 -3.3 0M441.4 31a1.65 1.65 0 1 0 3.3 0a1.65 1.65 0 1 0 -3.3 0" fill="none" stroke="#ff0000" stroke-width="0.8"/>
<path d="M411.9 70.8 430.4 70.3 431.3 64.6 432.2 55.6 433.1 45.6 433.6 42 434.3 23.7 435.9 21.8 439.3 20.3 441.3 23.2 442.8 22.6 445 23.3 448.6 23.7 452.2 24.2 455.8 25.6 461 28.3 470.8 31.1 477.7 32.8 484.6 34.4 491.6 35.8 498.5 37.6 502.9 38.9 509.9 40.7 516.8 42.1 523.7 43.5 530.6 44.4 537.6 45.3 542 45.8" fill="none" stroke="#0000ff" stroke-width="1.2" stroke-opacity="0.88" stroke-linejoin="round" stroke-linecap="round"/>
<path d="M39.9 174.4a1.65 1.65 0 1 0 3.3 0a1.65 1.65 0 1 0 -3.3 0M40.3 174.4a1.65 1.65 0 1 0 3.3 0a1.65 1.65 0 1 0 -3.3 0M40.8 174.4a1.65 1.65 0 1 0 3.3 0a1.65 1.65 0 1 0 -3.3 0M41.2 174.4a1.65 1.65 0 1 0 3.3 0a1.65 1.65 0 1 0 -3.3 0M41.7 174.4a1.65 1.65 0 1 0 3.3 0a1.65 1.65 0 1 0 -3.3 0M42.1 174.4a1.65 1.65 0 1 0 3.3 0a1.65 1.65 0 1 0 -3.3 0M42.6 174.4a1.65 1.65 0 1 0 3.3 0a1.65 1.65 0 1 0 -3.3 0M43 174.4a1.65 1.65 0 1 0 3.3 0a1.65 1.65 0 1 0 -3.3 0M43.5 174.4a1.65 1.65 0 1 0 3.3 0a1.65 1.65 0 1 0 -3.3 0M44 174.4a1.65 1.65 0 1 0 3.3 0a1.65 1.65 0 1 0 -3.3 0M44.4 174.4a1.65 1.65 0 1 0 3.3 0a1.65 1.65 0 1 0 -3.3 0M44.9 174.4a1.65 1.65 0 1 0 3.3 0a1.65 1.65 0 1 0 -3.3 0M45.3 174.4a1.65 1.65 0 1 0 3.3 0a1.65 1.65 0 1 0 -3.3 0M45.8 174.4a1.65 1.65 0 1 0 3.3 0a1.65 1.65 0 1 0 -3.3 0M46.2 174.4a1.65 1.65 0 1 0 3.3 0a1.65 1.65 0 1 0 -3.3 0M46.7 174.4a1.65 1.65 0 1 0 3.3 0a1.65 1.65 0 1 0 -3.3 0M47.2 174.4a1.65 1.65 0 1 0 3.3 0a1.65 1.65 0 1 0 -3.3 0M47.6 174.4a1.65 1.65 0 1 0 3.3 0a1.65 1.65 0 1 0 -3.3 0M48.1 174.4a1.65 1.65 0 1 0 3.3 0a1.65 1.65 0 1 0 -3.3 0M48.5 174.4a1.65 1.65 0 1 0 3.3 0a1.65 1.65 0 1 0 -3.3 0M49 174.4a1.65 1.65 0 1 0 3.3 0a1.65 1.65 0 1 0 -3.3 0M49.4 174.4a1.65 1.65 0 1 0 3.3 0a1.65 1.65 0 1 0 -3.3 0M49.9 174.4a1.65 1.65 0 1 0 3.3 0a1.65 1.65 0 1 0 -3.3 0M50.4 174.4a1.65 1.65 0 1 0 3.3 0a1.65 1.65 0 1 0 -3.3 0M50.8 174.4a1.65 1.65 0 1 0 3.3 0a1.65 1.65 0 1 0 -3.3 0M51.3 174.4a1.65 1.65 0 1 0 3.3 0a1.65 1.65 0 1 0 -3.3 0M51.7 174.4a1.65 1.65 0 1 0 3.3 0a1.65 1.65 0 1 0 -3.3 0M52.2 174.4a1.65 1.65 0 1 0 3.3 0a1.65 1.65 0 1 0 -3.3 0M52.6 174.4a1.65 1.65 0 1 0 3.3 0a1.65 1.65 0 1 0 -3.3 0M53.1 174.4a1.65 1.65 0 1 0 3.3 0a1.65 1.65 0 1 0 -3.3 0M53.6 174.4a1.65 1.65 0 1 0 3.3 0a1.65 1.65 0 1 0 -3.3 0M54 174.4a1.65 1.65 0 1 0 3.3 0a1.65 1.65 0 1 0 -3.3 0M54.5 174.4a1.65 1.65 0 1 0 3.3 0a1.65 1.65 0 1 0 -3.3 0M54.9 174.4a1.65 1.65 0 1 0 3.3 0a1.65 1.65 0 1 0 -3.3 0M55.4 174.4a1.65 1.65 0 1 0 3.3 0a1.65 1.65 0 1 0 -3.3 0M55.8 174.4a1.65 1.65 0 1 0 3.3 0a1.65 1.65 0 1 0 -3.3 0M56.3 174.4a1.65 1.65 0 1 0 3.3 0a1.65 1.65 0 1 0 -3.3 0M56.7 174.4a1.65 1.65 0 1 0 3.3 0a1.65 1.65 0 1 0 -3.3 0M57.2 174.4a1.65 1.65 0 1 0 3.3 0a1.65 1.65 0 1 0 -3.3 0M57.7 174.4a1.65 1.65 0 1 0 3.3 0a1.65 1.65 0 1 0 -3.3 0M58.1 174.4a1.65 1.65 0 1 0 3.3 0a1.65 1.65 0 1 0 -3.3 0M58.6 174.4a1.65 1.65 0 1 0 3.3 0a1.65 1.65 0 1 0 -3.3 0M59 174.4a1.65 1.65 0 1 0 3.3 0a1.65 1.65 0 1 0 -3.3 0M59.5 174.4a1.65 1.65 0 1 0 3.3 0a1.65 1.65 0 1 0 -3.3 0M59.9 174.4a1.65 1.65 0 1 0 3.3 0a1.65 1.65 0 1 0 -3.3 0M60.4 174.4a1.65 1.65 0 1 0 3.3 0a1.65 1.65 0 1 0 -3.3 0M60.9 174.4a1.65 1.65 0 1 0 3.3 0a1.65 1.65 0 1 0 -3.3 0M61.3 174.4a1.65 1.65 0 1 0 3.3 0a1.65 1.65 0 1 0 -3.3 0M61.8 174.4a1.65 1.65 0 1 0 3.3 0a1.65 1.65 0 1 0 -3.3 0M62.2 174.4a1.65 1.65 0 1 0 3.3 0a1.65 1.65 0 1 0 -3.3 0M62.7 174.4a1.65 1.65 0 1 0 3.3 0a1.65 1.65 0 1 0 -3.3 0M63.1 174.4a1.65 1.65 0 1 0 3.3 0a1.65 1.65 0 1 0 -3.3 0M63.6 174.4a1.65 1.65 0 1 0 3.3 0a1.65 1.65 0 1 0 -3.3 0M64.1 174.4a1.65 1.65 0 1 0 3.3 0a1.65 1.65 0 1 0 -3.3 0M64.5 174.4a1.65 1.65 0 1 0 3.3 0a1.65 1.65 0 1 0 -3.3 0M65 174.4a1.65 1.65 0 1 0 3.3 0a1.65 1.65 0 1 0 -3.3 0M65.4 174.4a1.65 1.65 0 1 0 3.3 0a1.65 1.65 0 1 0 -3.3 0M65.9 174.4a1.65 1.65 0 1 0 3.3 0a1.65 1.65 0 1 0 -3.3 0M66.3 174.4a1.65 1.65 0 1 0 3.3 0a1.65 1.65 0 1 0 -3.3 0M66.8 174.4a1.65 1.65 0 1 0 3.3 0a1.65 1.65 0 1 0 -3.3 0M67.2 174.4a1.65 1.65 0 1 0 3.3 0a1.65 1.65 0 1 0 -3.3 0M67.7 174.4a1.65 1.65 0 1 0 3.3 0a1.65 1.65 0 1 0 -3.3 0M68.2 166.6a1.65 1.65 0 1 0 3.3 0a1.65 1.65 0 1 0 -3.3 0M68.6 164a1.65 1.65 0 1 0 3.3 0a1.65 1.65 0 1 0 -3.3 0M69.1 161.2a1.65 1.65 0 1 0 3.3 0a1.65 1.65 0 1 0 -3.3 0M69.5 158.8a1.65 1.65 0 1 0 3.3 0a1.65 1.65 0 1 0 -3.3 0M70 157.8a1.65 1.65 0 1 0 3.3 0a1.65 1.65 0 1 0 -3.3 0M70.4 157.3a1.65 1.65 0 1 0 3.3 0a1.65 1.65 0 1 0 -3.3 0M70.9 157a1.65 1.65 0 1 0 3.3 0a1.65 1.65 0 1 0 -3.3 0M71.4 156.4a1.65 1.65 0 1 0 3.3 0a1.65 1.65 0 1 0 -3.3 0M71.8 156.8a1.65 1.65 0 1 0 3.3 0a1.65 1.65 0 1 0 -3.3 0M72.3 155.4a1.65 1.65 0 1 0 3.3 0a1.65 1.65 0 1 0 -3.3 0M72.7 156.3a1.65 1.65 0 1 0 3.3 0a1.65 1.65 0 1 0 -3.3 0M73.2 154.2a1.65 1.65 0 1 0 3.3 0a1.65 1.65 0 1 0 -3.3 0M73.6 158.4a1.65 1.65 0 1 0 3.3 0a1.65 1.65 0 1 0 -3.3 0M74.1 156.6a1.65 1.65 0 1 0 3.3 0a1.65 1.65 0 1 0 -3.3 0M74.6 155.2a1.65 1.65 0 1 0 3.3 0a1.65 1.65 0 1 0 -3.3 0M75 156.3a1.65 1.65 0 1 0 3.3 0a1.65 1.65 0 1 0 -3.3 0M75.5 155.1a1.65 1.65 0 1 0 3.3 0a1.65 1.65 0 1 0 -3.3 0M75.9 156a1.65 1.65 0 1 0 3.3 0a1.65 1.65 0 1 0 -3.3 0M76.4 157a1.65 1.65 0 1 0 3.3 0a1.65 1.65 0 1 0 -3.3 0M76.8 155.7a1.65 1.65 0 1 0 3.3 0a1.65 1.65 0 1 0 -3.3 0M77.3 157.2a1.65 1.65 0 1 0 3.3 0a1.65 1.65 0 1 0 -3.3 0M77.8 155.1a1.65 1.65 0 1 0 3.3 0a1.65 1.65 0 1 0 -3.3 0M78.2 156.9a1.65 1.65 0 1 0 3.3 0a1.65 1.65 0 1 0 -3.3 0M78.7 155.8a1.65 1.65 0 1 0 3.3 0a1.65 1.65 0 1 0 -3.3 0M79.1 155.3a1.65 1.65 0 1 0 3.3 0a1.65 1.65 0 1 0 -3.3 0M79.6 156.2a1.65 1.65 0 1 0 3.3 0a1.65 1.65 0 1 0 -3.3 0M80 154.9a1.65 1.65 0 1 0 3.3 0a1.65 1.65 0 1 0 -3.3 0M80.5 156.4a1.65 1.65 0 1 0 3.3 0a1.65 1.65 0 1 0 -3.3 0M80.9 155.7a1.65 1.65 0 1 0 3.3 0a1.65 1.65 0 1 0 -3.3 0M81.4 155.7a1.65 1.65 0 1 0 3.3 0a1.65 1.65 0 1 0 -3.3 0M81.9 156.2a1.65 1.65 0 1 0 3.3 0a1.65 1.65 0 1 0 -3.3 0M82.3 154.9a1.65 1.65 0 1 0 3.3 0a1.65 1.65 0 1 0 -3.3 0M82.8 156.1a1.65 1.65 0 1 0 3.3 0a1.65 1.65 0 1 0 -3.3 0M83.2 156a1.65 1.65 0 1 0 3.3 0a1.65 1.65 0 1 0 -3.3 0M83.7 156.5a1.65 1.65 0 1 0 3.3 0a1.65 1.65 0 1 0 -3.3 0M84.1 154.2a1.65 1.65 0 1 0 3.3 0a1.65 1.65 0 1 0 -3.3 0M84.6 155.9a1.65 1.65 0 1 0 3.3 0a1.65 1.65 0 1 0 -3.3 0M85.1 155.2a1.65 1.65 0 1 0 3.3 0a1.65 1.65 0 1 0 -3.3 0M85.5 156.7a1.65 1.65 0 1 0 3.3 0a1.65 1.65 0 1 0 -3.3 0M86 157.1a1.65 1.65 0 1 0 3.3 0a1.65 1.65 0 1 0 -3.3 0M86.4 155.8a1.65 1.65 0 1 0 3.3 0a1.65 1.65 0 1 0 -3.3 0M86.9 154.3a1.65 1.65 0 1 0 3.3 0a1.65 1.65 0 1 0 -3.3 0M87.3 156.3a1.65 1.65 0 1 0 3.3 0a1.65 1.65 0 1 0 -3.3 0M87.8 155.5a1.65 1.65 0 1 0 3.3 0a1.65 1.65 0 1 0 -3.3 0M88.3 155.3a1.65 1.65 0 1 0 3.3 0a1.65 1.65 0 1 0 -3.3 0M88.7 155.3a1.65 1.65 0 1 0 3.3 0a1.65 1.65 0 1 0 -3.3 0M89.2 156.2a1.65 1.65 0 1 0 3.3 0a1.65 1.65 0 1 0 -3.3 0M89.6 154.2a1.65 1.65 0 1 0 3.3 0a1.65 1.65 0 1 0 -3.3 0M90.1 155.1a1.65 1.65 0 1 0 3.3 0a1.65 1.65 0 1 0 -3.3 0M90.5 155.6a1.65 1.65 0 1 0 3.3 0a1.65 1.65 0 1 0 -3.3 0M91 156.5a1.65 1.65 0 1 0 3.3 0a1.65 1.65 0 1 0 -3.3 0M91.5 156.6a1.65 1.65 0 1 0 3.3 0a1.65 1.65 0 1 0 -3.3 0M91.9 156a1.65 1.65 0 1 0 3.3 0a1.65 1.65 0 1 0 -3.3 0M92.4 155.8a1.65 1.65 0 1 0 3.3 0a1.65 1.65 0 1 0 -3.3 0M92.8 157.2a1.65 1.65 0 1 0 3.3 0a1.65 1.65 0 1 0 -3.3 0M93.3 154.8a1.65 1.65 0 1 0 3.3 0a1.65 1.65 0 1 0 -3.3 0M93.7 156.9a1.65 1.65 0 1 0 3.3 0a1.65 1.65 0 1 0 -3.3 0M94.2 156.5a1.65 1.65 0 1 0 3.3 0a1.65 1.65 0 1 0 -3.3 0M94.7 155.9a1.65 1.65 0 1 0 3.3 0a1.65 1.65 0 1 0 -3.3 0M95.1 155.9a1.65 1.65 0 1 0 3.3 0a1.65 1.65 0 1 0 -3.3 0M95.6 156.2a1.65 1.65 0 1 0 3.3 0a1.65 1.65 0 1 0 -3.3 0M96 155.9a1.65 1.65 0 1 0 3.3 0a1.65 1.65 0 1 0 -3.3 0M96.5 155.2a1.65 1.65 0 1 0 3.3 0a1.65 1.65 0 1 0 -3.3 0M96.9 155.9a1.65 1.65 0 1 0 3.3 0a1.65 1.65 0 1 0 -3.3 0M97.4 154.7a1.65 1.65 0 1 0 3.3 0a1.65 1.65 0 1 0 -3.3 0M97.8 154.5a1.65 1.65 0 1 0 3.3 0a1.65 1.65 0 1 0 -3.3 0M98.3 156.1a1.65 1.65 0 1 0 3.3 0a1.65 1.65 0 1 0 -3.3 0M98.8 156.8a1.65 1.65 0 1 0 3.3 0a1.65 1.65 0 1 0 -3.3 0M99.2 156.2a1.65 1.65 0 1 0 3.3 0a1.65 1.65 0 1 0 -3.3 0M99.7 155.7a1.65 1.65 0 1 0 3.3 0a1.65 1.65 0 1 0 -3.3 0M100.1 155a1.65 1.65 0 1 0 3.3 0a1.65 1.65 0 1 0 -3.3 0M100.6 155a1.65 1.65 0 1 0 3.3 0a1.65 1.65 0 1 0 -3.3 0M101 156.5a1.65 1.65 0 1 0 3.3 0a1.65 1.65 0 1 0 -3.3 0M101.5 155.6a1.65 1.65 0 1 0 3.3 0a1.65 1.65 0 1 0 -3.3 0M102 155.9a1.65 1.65 0 1 0 3.3 0a1.65 1.65 0 1 0 -3.3 0M102.4 156a1.65 1.65 0 1 0 3.3 0a1.65 1.65 0 1 0 -3.3 0M102.9 156.4a1.65 1.65 0 1 0 3.3 0a1.65 1.65 0 1 0 -3.3 0M103.3 156.8a1.65 1.65 0 1 0 3.3 0a1.65 1.65 0 1 0 -3.3 0M103.8 155.1a1.65 1.65 0 1 0 3.3 0a1.65 1.65 0 1 0 -3.3 0M104.2 155.7a1.65 1.65 0 1 0 3.3 0a1.65 1.65 0 1 0 -3.3 0M104.7 156.9a1.65 1.65 0 1 0 3.3 0a1.65 1.65 0 1 0 -3.3 0M105.2 156.3a1.65 1.65 0 1 0 3.3 0a1.65 1.65 0 1 0 -3.3 0M105.6 157.5a1.65 1.65 0 1 0 3.3 0a1.65 1.65 0 1 0 -3.3 0M106.1 155.7a1.65 1.65 0 1 0 3.3 0a1.65 1.65 0 1 0 -3.3 0M106.5 156.6a1.65 1.65 0 1 0 3.3 0a1.65 1.65 0 1 0 -3.3 0M107 157.8a1.65 1.65 0 1 0 3.3 0a1.65 1.65 0 1 0 -3.3 0M107.4 157.3a1.65 1.65 0 1 0 3.3 0a1.65 1.65 0 1 0 -3.3 0M107.9 154.3a1.65 1.65 0 1 0 3.3 0a1.65 1.65 0 1 0 -3.3 0M108.3 156.6a1.65 1.65 0 1 0 3.3 0a1.65 1.65 0 1 0 -3.3 0M108.8 156.4a1.65 1.65 0 1 0 3.3 0a1.65 1.65 0 1 0 -3.3 0M109.3 156.5a1.65 1.65 0 1 0 3.3 0a1.65 1.65 0 1 0 -3.3 0M109.7 156a1.65 1.65 0 1 0 3.3 0a1.65 1.65 0 1 0 -3.3 0M110.2 157.2a1.65 1.65 0 1 0 3.3 0a1.65 1.65 0 1 0 -3.3 0M110.6 157.2a1.65 1.65 0 1 0 3.3 0a1.65 1.65 0 1 0 -3.3 0M111.1 155.3a1.65 1.65 0 1 0 3.3 0a1.65 1.65 0 1 0 -3.3 0M111.5 157.9a1.65 1.65 0 1 0 3.3 0a1.65 1.65 0 1 0 -3.3 0M112 156.4a1.65 1.65 0 1 0 3.3 0a1.65 1.65 0 1 0 -3.3 0M112.5 157.1a1.65 1.65 0 1 0 3.3 0a1.65 1.65 0 1 0 -3.3 0M112.9 156.6a1.65 1.65 0 1 0 3.3 0a1.65 1.65 0 1 0 -3.3 0M113.4 155.3a1.65 1.65 0 1 0 3.3 0a1.65 1.65 0 1 0 -3.3 0M113.8 158.3a1.65 1.65 0 1 0 3.3 0a1.65 1.65 0 1 0 -3.3 0M114.3 155.4a1.65 1.65 0 1 0 3.3 0a1.65 1.65 0 1 0 -3.3 0M114.7 156.8a1.65 1.65 0 1 0 3.3 0a1.65 1.65 0 1 0 -3.3 0M115.2 157.9a1.65 1.65 0 1 0 3.3 0a1.65 1.65 0 1 0 -3.3 0M115.7 156a1.65 1.65 0 1 0 3.3 0a1.65 1.65 0 1 0 -3.3 0M116.1 155.9a1.65 1.65 0 1 0 3.3 0a1.65 1.65 0 1 0 -3.3 0M116.6 157.2a1.65 1.65 0 1 0 3.3 0a1.65 1.65 0 1 0 -3.3 0M117 157.8a1.65 1.65 0 1 0 3.3 0a1.65 1.65 0 1 0 -3.3 0M117.5 156.5a1.65 1.65 0 1 0 3.3 0a1.65 1.65 0 1 0 -3.3 0M117.9 155.9a1.65 1.65 0 1 0 3.3 0a1.65 1.65 0 1 0 -3.3 0M118.4 156.6a1.65 1.65 0 1 0 3.3 0a1.65 1.65 0 1 0 -3.3 0M118.9 156.9a1.65 1.65 0 1 0 3.3 0a1.65 1.65 0 1 0 -3.3 0M119.3 156.4a1.65 1.65 0 1 0 3.3 0a1.65 1.65 0 1 0 -3.3 0M119.8 157.5a1.65 1.65 0 1 0 3.3 0a1.65 1.65 0 1 0 -3.3 0M120.2 156a1.65 1.65 0 1 0 3.3 0a1.65 1.65 0 1 0 -3.3 0M120.7 156.2a1.65 1.65 0 1 0 3.3 0a1.65 1.65 0 1 0 -3.3 0M121.1 155a1.65 1.65 0 1 0 3.3 0a1.65 1.65 0 1 0 -3.3 0M121.6 157.1a1.65 1.65 0 1 0 3.3 0a1.65 1.65 0 1 0 -3.3 0M122 156.4a1.65 1.65 0 1 0 3.3 0a1.65 1.65 0 1 0 -3.3 0M122.5 158.6a1.65 1.65 0 1 0 3.3 0a1.65 1.65 0 1 0 -3.3 0M123 156.2a1.65 1.65 0 1 0 3.3 0a1.65 1.65 0 1 0 -3.3 0M123.4 157.3a1.65 1.65 0 1 0 3.3 0a1.65 1.65 0 1 0 -3.3 0M123.9 157.5a1.65 1.65 0 1 0 3.3 0a1.65 1.65 0 1 0 -3.3 0M124.3 156.1a1.65 1.65 0 1 0 3.3 0a1.65 1.65 0 1 0 -3.3 0M124.8 155.8a1.65 1.65 0 1 0 3.3 0a1.65 1.65 0 1 0 -3.3 0M125.2 158.5a1.65 1.65 0 1 0 3.3 0a1.65 1.65 0 1 0 -3.3 0M125.7 157.6a1.65 1.65 0 1 0 3.3 0a1.65 1.65 0 1 0 -3.3 0M126.2 155.7a1.65 1.65 0 1 0 3.3 0a1.65 1.65 0 1 0 -3.3 0M126.6 156.5a1.65 1.65 0 1 0 3.3 0a1.65 1.65 0 1 0 -3.3 0M127.1 154.8a1.65 1.65 0 1 0 3.3 0a1.65 1.65 0 1 0 -3.3 0M127.5 156.3a1.65 1.65 0 1 0 3.3 0a1.65 1.65 0 1 0 -3.3 0M128 155.7a1.65 1.65 0 1 0 3.3 0a1.65 1.65 0 1 0 -3.3 0M128.4 157a1.65 1.65 0 1 0 3.3 0a1.65 1.65 0 1 0 -3.3 0M128.9 157.2a1.65 1.65 0 1 0 3.3 0a1.65 1.65 0 1 0 -3.3 0M129.4 155.7a1.65 1.65 0 1 0 3.3 0a1.65 1.65 0 1 0 -3.3 0M129.8 155.9a1.65 1.65 0 1 0 3.3 0a1.65 1.65 0 1 0 -3.3 0M130.3 158.1a1.65 1.65 0 1 0 3.3 0a1.65 1.65 0 1 0 -3.3 0M130.7 158.9a1.65 1.65 0 1 0 3.3 0a1.65 1.65 0 1 0 -3.3 0M131.2 156.7a1.65 1.65 0 1 0 3.3 0a1.65 1.65 0 1 0 -3.3 0M131.6 155.1a1.65 1.65 0 1 0 3.3 0a1.65 1.65 0 1 0 -3.3 0M132.1 157.9a1.65 1.65 0 1 0 3.3 0a1.65 1.65 0 1 0 -3.3 0M132.6 158.1a1.65 1.65 0 1 0 3.3 0a1.65 1.65 0 1 0 -3.3 0M133 156.7a1.65 1.65 0 1 0 3.3 0a1.65 1.65 0 1 0 -3.3 0M133.5 157.8a1.65 1.65 0 1 0 3.3 0a1.65 1.65 0 1 0 -3.3 0M133.9 156.9a1.65 1.65 0 1 0 3.3 0a1.65 1.65 0 1 0 -3.3 0M134.4 157.7a1.65 1.65 0 1 0 3.3 0a1.65 1.65 0 1 0 -3.3 0M134.8 158.6a1.65 1.65 0 1 0 3.3 0a1.65 1.65 0 1 0 -3.3 0M135.3 157.3a1.65 1.65 0 1 0 3.3 0a1.65 1.65 0 1 0 -3.3 0M135.7 158.1a1.65 1.65 0 1 0 3.3 0a1.65 1.65 0 1 0 -3.3 0M136.2 157a1.65 1.65 0 1 0 3.3 0a1.65 1.65 0 1 0 -3.3 0M136.7 159a1.65 1.65 0 1 0 3.3 0a1.65 1.65 0 1 0 -3.3 0M137.1 158a1.65 1.65 0 1 0 3.3 0a1.65 1.65 0 1 0 -3.3 0M137.6 158.9a1.65 1.65 0 1 0 3.3 0a1.65 1.65 0 1 0 -3.3 0M138 158.7a1.65 1.65 0 1 0 3.3 0a1.65 1.65 0 1 0 -3.3 0M138.5 158.7a1.65 1.65 0 1 0 3.3 0a1.65 1.65 0 1 0 -3.3 0M138.9 156.8a1.65 1.65 0 1 0 3.3 0a1.65 1.65 0 1 0 -3.3 0M139.4 158.5a1.65 1.65 0 1 0 3.3 0a1.65 1.65 0 1 0 -3.3 0M139.9 159.8a1.65 1.65 0 1 0 3.3 0a1.65 1.65 0 1 0 -3.3 0M140.3 157.5a1.65 1.65 0 1 0 3.3 0a1.65 1.65 0 1 0 -3.3 0M140.8 158a1.65 1.65 0 1 0 3.3 0a1.65 1.65 0 1 0 -3.3 0M141.2 156.6a1.65 1.65 0 1 0 3.3 0a1.65 1.65 0 1 0 -3.3 0M141.7 157.2a1.65 1.65 0 1 0 3.3 0a1.65 1.65 0 1 0 -3.3 0M142.1 157.4a1.65 1.65 0 1 0 3.3 0a1.65 1.65 0 1 0 -3.3 0M142.6 158.3a1.65 1.65 0 1 0 3.3 0a1.65 1.65 0 1 0 -3.3 0M143.1 158a1.65 1.65 0 1 0 3.3 0a1.65 1.65 0 1 0 -3.3 0M143.5 157.9a1.65 1.65 0 1 0 3.3 0a1.65 1.65 0 1 0 -3.3 0M144 159.2a1.65 1.65 0 1 0 3.3 0a1.65 1.65 0 1 0 -3.3 0M144.4 159.1a1.65 1.65 0 1 0 3.3 0a1.65 1.65 0 1 0 -3.3 0M144.9 157.7a1.65 1.65 0 1 0 3.3 0a1.65 1.65 0 1 0 -3.3 0M145.3 158a1.65 1.65 0 1 0 3.3 0a1.65 1.65 0 1 0 -3.3 0M145.8 158.3a1.65 1.65 0 1 0 3.3 0a1.65 1.65 0 1 0 -3.3 0M146.3 157.4a1.65 1.65 0 1 0 3.3 0a1.65 1.65 0 1 0 -3.3 0M146.7 157.8a1.65 1.65 0 1 0 3.3 0a1.65 1.65 0 1 0 -3.3 0M147.2 158.3a1.65 1.65 0 1 0 3.3 0a1.65 1.65 0 1 0 -3.3 0M147.6 156.8a1.65 1.65 0 1 0 3.3 0a1.65 1.65 0 1 0 -3.3 0M148.1 158.7a1.65 1.65 0 1 0 3.3 0a1.65 1.65 0 1 0 -3.3 0M148.5 160a1.65 1.65 0 1 0 3.3 0a1.65 1.65 0 1 0 -3.3 0M149 158.6a1.65 1.65 0 1 0 3.3 0a1.65 1.65 0 1 0 -3.3 0M149.5 159.1a1.65 1.65 0 1 0 3.3 0a1.65 1.65 0 1 0 -3.3 0M149.9 158.9a1.65 1.65 0 1 0 3.3 0a1.65 1.65 0 1 0 -3.3 0M150.4 159.7a1.65 1.65 0 1 0 3.3 0a1.65 1.65 0 1 0 -3.3 0M150.8 159.7a1.65 1.65 0 1 0 3.3 0a1.65 1.65 0 1 0 -3.3 0M151.3 158.9a1.65 1.65 0 1 0 3.3 0a1.65 1.65 0 1 0 -3.3 0M151.7 159.9a1.65 1.65 0 1 0 3.3 0a1.65 1.65 0 1 0 -3.3 0M152.2 159.8a1.65 1.65 0 1 0 3.3 0a1.65 1.65 0 1 0 -3.3 0M152.6 157.3a1.65 1.65 0 1 0 3.3 0a1.65 1.65 0 1 0 -3.3 0M153.1 158.1a1.65 1.65 0 1 0 3.3 0a1.65 1.65 0 1 0 -3.3 0M153.6 159.7a1.65 1.65 0 1 0 3.3 0a1.65 1.65 0 1 0 -3.3 0M154 158.9a1.65 1.65 0 1 0 3.3 0a1.65 1.65 0 1 0 -3.3 0M154.5 158.2a1.65 1.65 0 1 0 3.3 0a1.65 1.65 0 1 0 -3.3 0M154.9 159.6a1.65 1.65 0 1 0 3.3 0a1.65 1.65 0 1 0 -3.3 0M155.4 158.6a1.65 1.65 0 1 0 3.3 0a1.65 1.65 0 1 0 -3.3 0M155.8 160.2a1.65 1.65 0 1 0 3.3 0a1.65 1.65 0 1 0 -3.3 0M156.3 160.1a1.65 1.65 0 1 0 3.3 0a1.65 1.65 0 1 0 -3.3 0M156.8 157.7a1.65 1.65 0 1 0 3.3 0a1.65 1.65 0 1 0 -3.3 0M157.2 159.3a1.65 1.65 0 1 0 3.3 0a1.65 1.65 0 1 0 -3.3 0M157.7 158.2a1.65 1.65 0 1 0 3.3 0a1.65 1.65 0 1 0 -3.3 0M158.1 159.6a1.65 1.65 0 1 0 3.3 0a1.65 1.65 0 1 0 -3.3 0M158.6 158.3a1.65 1.65 0 1 0 3.3 0a1.65 1.65 0 1 0 -3.3 0M159 158.9a1.65 1.65 0 1 0 3.3 0a1.65 1.65 0 1 0 -3.3 0M159.5 160.7a1.65 1.65 0 1 0 3.3 0a1.65 1.65 0 1 0 -3.3 0M160 158.8a1.65 1.65 0 1 0 3.3 0a1.65 1.65 0 1 0 -3.3 0M160.4 159.4a1.65 1.65 0 1 0 3.3 0a1.65 1.65 0 1 0 -3.3 0M160.9 159.8a1.65 1.65 0 1 0 3.3 0a1.65 1.65 0 1 0 -3.3 0M161.3 159.3a1.65 1.65 0 1 0 3.3 0a1.65 1.65 0 1 0 -3.3 0M161.8 160a1.65 1.65 0 1 0 3.3 0a1.65 1.65 0 1 0 -3.3 0M162.2 159.9a1.65 1.65 0 1 0 3.3 0a1.65 1.65 0 1 0 -3.3 0M162.7 160a1.65 1.65 0 1 0 3.3 0a1.65 1.65 0 1 0 -3.3 0M163.2 161a1.65 1.65 0 1 0 3.3 0a1.65 1.65 0 1 0 -3.3 0M163.6 158.3a1.65 1.65 0 1 0 3.3 0a1.65 1.65 0 1 0 -3.3 0M164.1 159.7a1.65 1.65 0 1 0 3.3 0a1.65 1.65 0 1 0 -3.3 0M164.5 159.8a1.65 1.65 0 1 0 3.3 0a1.65 1.65 0 1 0 -3.3 0M165 159.4a1.65 1.65 0 1 0 3.3 0a1.65 1.65 0 1 0 -3.3 0M165.4 160.1a1.65 1.65 0 1 0 3.3 0a1.65 1.65 0 1 0 -3.3 0M165.9 158.6a1.65 1.65 0 1 0 3.3 0a1.65 1.65 0 1 0 -3.3 0M166.3 159.6a1.65 1.65 0 1 0 3.3 0a1.65 1.65 0 1 0 -3.3 0M166.8 158.9a1.65 1.65 0 1 0 3.3 0a1.65 1.65 0 1 0 -3.3 0M167.3 158.9a1.65 1.65 0 1 0 3.3 0a1.65 1.65 0 1 0 -3.3 0M167.7 159.8a1.65 1.65 0 1 0 3.3 0a1.65 1.65 0 1 0 -3.3 0M168.2 160.4a1.65 1.65 0 1 0 3.3 0a1.65 1.65 0 1 0 -3.3 0M168.6 159a1.65 1.65 0 1 0 3.3 0a1.65 1.65 0 1 0 -3.3 0M169.1 160.8a1.65 1.65 0 1 0 3.3 0a1.65 1.65 0 1 0 -3.3 0M169.5 159.1a1.65 1.65 0 1 0 3.3 0a1.65 1.65 0 1 0 -3.3 0M170 158.9a1.65 1.65 0 1 0 3.3 0a1.65 1.65 0 1 0 -3.3 0M170.5 157.7a1.65 1.65 0 1 0 3.3 0a1.65 1.65 0 1 0 -3.3 0M170.9 158.8a1.65 1.65 0 1 0 3.3 0a1.65 1.65 0 1 0 -3.3 0M171.4 159.7a1.65 1.65 0 1 0 3.3 0a1.65 1.65 0 1 0 -3.3 0M171.8 160.4a1.65 1.65 0 1 0 3.3 0a1.65 1.65 0 1 0 -3.3 0M172.3 158.9a1.65 1.65 0 1 0 3.3 0a1.65 1.65 0 1 0 -3.3 0M172.7 159.9a1.65 1.65 0 1 0 3.3 0a1.65 1.65 0 1 0 -3.3 0M173.2 160.4a1.65 1.65 0 1 0 3.3 0a1.65 1.65 0 1 0 -3.3 0M173.7 159.9a1.65 1.65 0 1 0 3.3 0a1.65 1.65 0 1 0 -3.3 0M174.1 159.3a1.65 1.65 0 1 0 3.3 0a1.65 1.65 0 1 0 -3.3 0M174.6 158.3a1.65 1.65 0 1 0 3.3 0a1.65 1.65 0 1 0 -3.3 0M175 160.1a1.65 1.65 0 1 0 3.3 0a1.65 1.65 0 1 0 -3.3 0M175.5 160.1a1.65 1.65 0 1 0 3.3 0a1.65 1.65 0 1 0 -3.3 0M175.9 158.2a1.65 1.65 0 1 0 3.3 0a1.65 1.65 0 1 0 -3.3 0M176.4 158.9a1.65 1.65 0 1 0 3.3 0a1.65 1.65 0 1 0 -3.3 0M176.8 160a1.65 1.65 0 1 0 3.3 0a1.65 1.65 0 1 0 -3.3 0" fill="none" stroke="#ff0000" stroke-width="0.8"/>
<path d="M48.4 174.3 67.6 174.1 69 166 71.1 154.9 73.1 145.2 74.5 141.1 75.9 139.4 79.4 139 81.4 139.4 84.2 141.1 87.7 140.8 90 141 92.9 141.5 99.9 143.3 106.8 145.1 113.7 146.5 120.6 147.9 127.6 149.3 134.5 150.7 145.9 152.3 159.7 154.4 173.5 156.5 178.4 157.1" fill="none" stroke="#0000ff" stroke-width="1.2" stroke-opacity="0.88" stroke-linejoin="round" stroke-linecap="round"/>
<path d="M221.8 174.4a1.65 1.65 0 1 0 3.3 0a1.65 1.65 0 1 0 -3.3 0M222.3 174.4a1.65 1.65 0 1 0 3.3 0a1.65 1.65 0 1 0 -3.3 0M222.7 174.4a1.65 1.65 0 1 0 3.3 0a1.65 1.65 0 1 0 -3.3 0M223.2 174.4a1.65 1.65 0 1 0 3.3 0a1.65 1.65 0 1 0 -3.3 0M223.6 174.4a1.65 1.65 0 1 0 3.3 0a1.65 1.65 0 1 0 -3.3 0M224.1 174.4a1.65 1.65 0 1 0 3.3 0a1.65 1.65 0 1 0 -3.3 0M224.5 174.4a1.65 1.65 0 1 0 3.3 0a1.65 1.65 0 1 0 -3.3 0M225 174.4a1.65 1.65 0 1 0 3.3 0a1.65 1.65 0 1 0 -3.3 0M225.5 174.4a1.65 1.65 0 1 0 3.3 0a1.65 1.65 0 1 0 -3.3 0M225.9 174.4a1.65 1.65 0 1 0 3.3 0a1.65 1.65 0 1 0 -3.3 0M226.4 174.4a1.65 1.65 0 1 0 3.3 0a1.65 1.65 0 1 0 -3.3 0M226.8 174.4a1.65 1.65 0 1 0 3.3 0a1.65 1.65 0 1 0 -3.3 0M227.3 174.4a1.65 1.65 0 1 0 3.3 0a1.65 1.65 0 1 0 -3.3 0M227.7 174.4a1.65 1.65 0 1 0 3.3 0a1.65 1.65 0 1 0 -3.3 0M228.2 174.4a1.65 1.65 0 1 0 3.3 0a1.65 1.65 0 1 0 -3.3 0M228.6 174.4a1.65 1.65 0 1 0 3.3 0a1.65 1.65 0 1 0 -3.3 0M229.1 174.4a1.65 1.65 0 1 0 3.3 0a1.65 1.65 0 1 0 -3.3 0M229.6 174.4a1.65 1.65 0 1 0 3.3 0a1.65 1.65 0 1 0 -3.3 0M230 174.4a1.65 1.65 0 1 0 3.3 0a1.65 1.65 0 1 0 -3.3 0M230.5 174.4a1.65 1.65 0 1 0 3.3 0a1.65 1.65 0 1 0 -3.3 0M230.9 174.4a1.65 1.65 0 1 0 3.3 0a1.65 1.65 0 1 0 -3.3 0M231.4 174.4a1.65 1.65 0 1 0 3.3 0a1.65 1.65 0 1 0 -3.3 0M231.8 174.4a1.65 1.65 0 1 0 3.3 0a1.65 1.65 0 1 0 -3.3 0M232.3 174.4a1.65 1.65 0 1 0 3.3 0a1.65 1.65 0 1 0 -3.3 0M232.8 174.4a1.65 1.65 0 1 0 3.3 0a1.65 1.65 0 1 0 -3.3 0M233.2 174.4a1.65 1.65 0 1 0 3.3 0a1.65 1.65 0 1 0 -3.3 0M233.7 174.4a1.65 1.65 0 1 0 3.3 0a1.65 1.65 0 1 0 -3.3 0M234.1 174.4a1.65 1.65 0 1 0 3.3 0a1.65 1.65 0 1 0 -3.3 0M234.6 174.4a1.65 1.65 0 1 0 3.3 0a1.65 1.65 0 1 0 -3.3 0M235 174.4a1.65 1.65 0 1 0 3.3 0a1.65 1.65 0 1 0 -3.3 0M235.5 174.4a1.65 1.65 0 1 0 3.3 0a1.65 1.65 0 1 0 -3.3 0M236 174.4a1.65 1.65 0 1 0 3.3 0a1.65 1.65 0 1 0 -3.3 0M236.4 174.4a1.65 1.65 0 1 0 3.3 0a1.65 1.65 0 1 0 -3.3 0M236.9 174.4a1.65 1.65 0 1 0 3.3 0a1.65 1.65 0 1 0 -3.3 0M237.3 174.4a1.65 1.65 0 1 0 3.3 0a1.65 1.65 0 1 0 -3.3 0M237.8 174.4a1.65 1.65 0 1 0 3.3 0a1.65 1.65 0 1 0 -3.3 0M238.2 174.4a1.65 1.65 0 1 0 3.3 0a1.65 1.65 0 1 0 -3.3 0M238.7 174.4a1.65 1.65 0 1 0 3.3 0a1.65 1.65 0 1 0 -3.3 0M239.2 174.4a1.65 1.65 0 1 0 3.3 0a1.65 1.65 0 1 0 -3.3 0M239.6 174.4a1.65 1.65 0 1 0 3.3 0a1.65 1.65 0 1 0 -3.3 0M240.1 174.4a1.65 1.65 0 1 0 3.3 0a1.65 1.65 0 1 0 -3.3 0M240.5 174.4a1.65 1.65 0 1 0 3.3 0a1.65 1.65 0 1 0 -3.3 0M241 174.4a1.65 1.65 0 1 0 3.3 0a1.65 1.65 0 1 0 -3.3 0M241.4 174.4a1.65 1.65 0 1 0 3.3 0a1.65 1.65 0 1 0 -3.3 0M241.9 174.4a1.65 1.65 0 1 0 3.3 0a1.65 1.65 0 1 0 -3.3 0M242.3 174.4a1.65 1.65 0 1 0 3.3 0a1.65 1.65 0 1 0 -3.3 0M242.8 174.4a1.65 1.65 0 1 0 3.3 0a1.65 1.65 0 1 0 -3.3 0M243.3 174.4a1.65 1.65 0 1 0 3.3 0a1.65 1.65 0 1 0 -3.3 0M243.7 174.4a1.65 1.65 0 1 0 3.3 0a1.65 1.65 0 1 0 -3.3 0M244.2 174.4a1.65 1.65 0 1 0 3.3 0a1.65 1.65 0 1 0 -3.3 0M244.6 174.4a1.65 1.65 0 1 0 3.3 0a1.65 1.65 0 1 0 -3.3 0M245.1 174.4a1.65 1.65 0 1 0 3.3 0a1.65 1.65 0 1 0 -3.3 0M245.5 174.4a1.65 1.65 0 1 0 3.3 0a1.65 1.65 0 1 0 -3.3 0M246 174.4a1.65 1.65 0 1 0 3.3 0a1.65 1.65 0 1 0 -3.3 0M246.5 174.4a1.65 1.65 0 1 0 3.3 0a1.65 1.65 0 1 0 -3.3 0M246.9 174.4a1.65 1.65 0 1 0 3.3 0a1.65 1.65 0 1 0 -3.3 0M247.4 174.4a1.65 1.65 0 1 0 3.3 0a1.65 1.65 0 1 0 -3.3 0M247.8 174.4a1.65 1.65 0 1 0 3.3 0a1.65 1.65 0 1 0 -3.3 0M248.3 174.4a1.65 1.65 0 1 0 3.3 0a1.65 1.65 0 1 0 -3.3 0M248.7 174.4a1.65 1.65 0 1 0 3.3 0a1.65 1.65 0 1 0 -3.3 0M249.2 174.4a1.65 1.65 0 1 0 3.3 0a1.65 1.65 0 1 0 -3.3 0M249.7 174.4a1.65 1.65 0 1 0 3.3 0a1.65 1.65 0 1 0 -3.3 0M250.1 174.4a1.65 1.65 0 1 0 3.3 0a1.65 1.65 0 1 0 -3.3 0M250.6 174.4a1.65 1.65 0 1 0 3.3 0a1.65 1.65 0 1 0 -3.3 0M251 174.4a1.65 1.65 0 1 0 3.3 0a1.65 1.65 0 1 0 -3.3 0M251.5 174.4a1.65 1.65 0 1 0 3.3 0a1.65 1.65 0 1 0 -3.3 0M251.9 174.4a1.65 1.65 0 1 0 3.3 0a1.65 1.65 0 1 0 -3.3 0M252.4 169.7a1.65 1.65 0 1 0 3.3 0a1.65 1.65 0 1 0 -3.3 0M252.9 166.6a1.65 1.65 0 1 0 3.3 0a1.65 1.65 0 1 0 -3.3 0M253.3 163.4a1.65 1.65 0 1 0 3.3 0a1.65 1.65 0 1 0 -3.3 0M253.8 160.5a1.65 1.65 0 1 0 3.3 0a1.65 1.65 0 1 0 -3.3 0M254.2 157.5a1.65 1.65 0 1 0 3.3 0a1.65 1.65 0 1 0 -3.3 0M254.7 156.9a1.65 1.65 0 1 0 3.3 0a1.65 1.65 0 1 0 -3.3 0M255.1 153.5a1.65 1.65 0 1 0 3.3 0a1.65 1.65 0 1 0 -3.3 0M255.6 154.8a1.65 1.65 0 1 0 3.3 0a1.65 1.65 0 1 0 -3.3 0M256.1 153.9a1.65 1.65 0 1 0 3.3 0a1.65 1.65 0 1 0 -3.3 0M256.5 149.5a1.65 1.65 0 1 0 3.3 0a1.65 1.65 0 1 0 -3.3 0M257 152.9a1.65 1.65 0 1 0 3.3 0a1.65 1.65 0 1 0 -3.3 0M257.4 150.1a1.65 1.65 0 1 0 3.3 0a1.65 1.65 0 1 0 -3.3 0M257.9 147.8a1.65 1.65 0 1 0 3.3 0a1.65 1.65 0 1 0 -3.3 0M258.3 150.3a1.65 1.65 0 1 0 3.3 0a1.65 1.65 0 1 0 -3.3 0M258.8 152.8a1.65 1.65 0 1 0 3.3 0a1.65 1.65 0 1 0 -3.3 0M259.2 151.7a1.65 1.65 0 1 0 3.3 0a1.65 1.65 0 1 0 -3.3 0M259.7 147a1.65 1.65 0 1 0 3.3 0a1.65 1.65 0 1 0 -3.3 0M260.2 151.3a1.65 1.65 0 1 0 3.3 0a1.65 1.65 0 1 0 -3.3 0M260.6 148.7a1.65 1.65 0 1 0 3.3 0a1.65 1.65 0 1 0 -3.3 0M261.1 148a1.65 1.65 0 1 0 3.3 0a1.65 1.65 0 1 0 -3.3 0M261.5 150.5a1.65 1.65 0 1 0 3.3 0a1.65 1.65 0 1 0 -3.3 0M262 151.3a1.65 1.65 0 1 0 3.3 0a1.65 1.65 0 1 0 -3.3 0M262.4 146.6a1.65 1.65 0 1 0 3.3 0a1.65 1.65 0 1 0 -3.3 0M262.9 147.9a1.65 1.65 0 1 0 3.3 0a1.65 1.65 0 1 0 -3.3 0M263.4 145.4a1.65 1.65 0 1 0 3.3 0a1.65 1.65 0 1 0 -3.3 0M263.8 151.9a1.65 1.65 0 1 0 3.3 0a1.65 1.65 0 1 0 -3.3 0M264.3 147.6a1.65 1.65 0 1 0 3.3 0a1.65 1.65 0 1 0 -3.3 0M264.7 149.4a1.65 1.65 0 1 0 3.3 0a1.65 1.65 0 1 0 -3.3 0M265.2 151.1a1.65 1.65 0 1 0 3.3 0a1.65 1.65 0 1 0 -3.3 0M265.6 149.4a1.65 1.65 0 1 0 3.3 0a1.65 1.65 0 1 0 -3.3 0M266.1 154.3a1.65 1.65 0 1 0 3.3 0a1.65 1.65 0 1 0 -3.3 0M266.6 146.5a1.65 1.65 0 1 0 3.3 0a1.65 1.65 0 1 0 -3.3 0M267 154.3a1.65 1.65 0 1 0 3.3 0a1.65 1.65 0 1 0 -3.3 0M267.5 148.8a1.65 1.65 0 1 0 3.3 0a1.65 1.65 0 1 0 -3.3 0M267.9 150.8a1.65 1.65 0 1 0 3.3 0a1.65 1.65 0 1 0 -3.3 0M268.4 152.1a1.65 1.65 0 1 0 3.3 0a1.65 1.65 0 1 0 -3.3 0M268.8 148.3a1.65 1.65 0 1 0 3.3 0a1.65 1.65 0 1 0 -3.3 0M269.3 152.2a1.65 1.65 0 1 0 3.3 0a1.65 1.65 0 1 0 -3.3 0M269.8 150.8a1.65 1.65 0 1 0 3.3 0a1.65 1.65 0 1 0 -3.3 0M270.2 148.1a1.65 1.65 0 1 0 3.3 0a1.65 1.65 0 1 0 -3.3 0M270.7 151.6a1.65 1.65 0 1 0 3.3 0a1.65 1.65 0 1 0 -3.3 0M271.1 149.3a1.65 1.65 0 1 0 3.3 0a1.65 1.65 0 1 0 -3.3 0M271.6 149.5a1.65 1.65 0 1 0 3.3 0a1.65 1.65 0 1 0 -3.3 0M272 150a1.65 1.65 0 1 0 3.3 0a1.65 1.65 0 1 0 -3.3 0M272.5 151.9a1.65 1.65 0 1 0 3.3 0a1.65 1.65 0 1 0 -3.3 0M272.9 152.7a1.65 1.65 0 1 0 3.3 0a1.65 1.65 0 1 0 -3.3 0M273.4 149.8a1.65 1.65 0 1 0 3.3 0a1.65 1.65 0 1 0 -3.3 0M273.9 150.2a1.65 1.65 0 1 0 3.3 0a1.65 1.65 0 1 0 -3.3 0M274.3 151.7a1.65 1.65 0 1 0 3.3 0a1.65 1.65 0 1 0 -3.3 0M274.8 147.7a1.65 1.65 0 1 0 3.3 0a1.65 1.65 0 1 0 -3.3 0M275.2 148.2a1.65 1.65 0 1 0 3.3 0a1.65 1.65 0 1 0 -3.3 0M275.7 149.9a1.65 1.65 0 1 0 3.3 0a1.65 1.65 0 1 0 -3.3 0M276.1 152.2a1.65 1.65 0 1 0 3.3 0a1.65 1.65 0 1 0 -3.3 0M276.6 151.5a1.65 1.65 0 1 0 3.3 0a1.65 1.65 0 1 0 -3.3 0M277.1 147.9a1.65 1.65 0 1 0 3.3 0a1.65 1.65 0 1 0 -3.3 0M277.5 151.3a1.65 1.65 0 1 0 3.3 0a1.65 1.65 0 1 0 -3.3 0M278 153.6a1.65 1.65 0 1 0 3.3 0a1.65 1.65 0 1 0 -3.3 0M278.4 150.3a1.65 1.65 0 1 0 3.3 0a1.65 1.65 0 1 0 -3.3 0M278.9 151.3a1.65 1.65 0 1 0 3.3 0a1.65 1.65 0 1 0 -3.3 0M279.3 154.7a1.65 1.65 0 1 0 3.3 0a1.65 1.65 0 1 0 -3.3 0M279.8 152.9a1.65 1.65 0 1 0 3.3 0a1.65 1.65 0 1 0 -3.3 0M280.3 147a1.65 1.65 0 1 0 3.3 0a1.65 1.65 0 1 0 -3.3 0M280.7 149.6a1.65 1.65 0 1 0 3.3 0a1.65 1.65 0 1 0 -3.3 0M281.2 154.9a1.65 1.65 0 1 0 3.3 0a1.65 1.65 0 1 0 -3.3 0M281.6 148.9a1.65 1.65 0 1 0 3.3 0a1.65 1.65 0 1 0 -3.3 0M282.1 148.1a1.65 1.65 0 1 0 3.3 0a1.65 1.65 0 1 0 -3.3 0M282.5 147.5a1.65 1.65 0 1 0 3.3 0a1.65 1.65 0 1 0 -3.3 0M283 153.6a1.65 1.65 0 1 0 3.3 0a1.65 1.65 0 1 0 -3.3 0M283.4 154.6a1.65 1.65 0 1 0 3.3 0a1.65 1.65 0 1 0 -3.3 0M283.9 150a1.65 1.65 0 1 0 3.3 0a1.65 1.65 0 1 0 -3.3 0M284.4 148.2a1.65 1.65 0 1 0 3.3 0a1.65 1.65 0 1 0 -3.3 0M284.8 150.5a1.65 1.65 0 1 0 3.3 0a1.65 1.65 0 1 0 -3.3 0M285.3 155.2a1.65 1.65 0 1 0 3.3 0a1.65 1.65 0 1 0 -3.3 0M285.7 152.3a1.65 1.65 0 1 0 3.3 0a1.65 1.65 0 1 0 -3.3 0M286.2 154.6a1.65 1.65 0 1 0 3.3 0a1.65 1.65 0 1 0 -3.3 0M286.6 154.4a1.65 1.65 0 1 0 3.3 0a1.65 1.65 0 1 0 -3.3 0M287.1 147.7a1.65 1.65 0 1 0 3.3 0a1.65 1.65 0 1 0 -3.3 0M287.6 153.2a1.65 1.65 0 1 0 3.3 0a1.65 1.65 0 1 0 -3.3 0M288 156.6a1.65 1.65 0 1 0 3.3 0a1.65 1.65 0 1 0 -3.3 0M288.5 153.4a1.65 1.65 0 1 0 3.3 0a1.65 1.65 0 1 0 -3.3 0M288.9 153.4a1.65 1.65 0 1 0 3.3 0a1.65 1.65 0 1 0 -3.3 0M289.4 153.5a1.65 1.65 0 1 0 3.3 0a1.65 1.65 0 1 0 -3.3 0M289.8 156.2a1.65 1.65 0 1 0 3.3 0a1.65 1.65 0 1 0 -3.3 0M290.3 153.5a1.65 1.65 0 1 0 3.3 0a1.65 1.65 0 1 0 -3.3 0M290.8 152.2a1.65 1.65 0 1 0 3.3 0a1.65 1.65 0 1 0 -3.3 0M291.2 155.8a1.65 1.65 0 1 0 3.3 0a1.65 1.65 0 1 0 -3.3 0M291.7 151.8a1.65 1.65 0 1 0 3.3 0a1.65 1.65 0 1 0 -3.3 0M292.1 157.2a1.65 1.65 0 1 0 3.3 0a1.65 1.65 0 1 0 -3.3 0M292.6 153.2a1.65 1.65 0 1 0 3.3 0a1.65 1.65 0 1 0 -3.3 0M293 150.8a1.65 1.65 0 1 0 3.3 0a1.65 1.65 0 1 0 -3.3 0M293.5 153.8a1.65 1.65 0 1 0 3.3 0a1.65 1.65 0 1 0 -3.3 0M294 154.4a1.65 1.65 0 1 0 3.3 0a1.65 1.65 0 1 0 -3.3 0M294.4 153.7a1.65 1.65 0 1 0 3.3 0a1.65 1.65 0 1 0 -3.3 0M294.9 151.9a1.65 1.65 0 1 0 3.3 0a1.65 1.65 0 1 0 -3.3 0M295.3 153.3a1.65 1.65 0 1 0 3.3 0a1.65 1.65 0 1 0 -3.3 0M295.8 150.6a1.65 1.65 0 1 0 3.3 0a1.65 1.65 0 1 0 -3.3 0M296.2 157.2a1.65 1.65 0 1 0 3.3 0a1.65 1.65 0 1 0 -3.3 0M296.7 150.8a1.65 1.65 0 1 0 3.3 0a1.65 1.65 0 1 0 -3.3 0M297.2 151.3a1.65 1.65 0 1 0 3.3 0a1.65 1.65 0 1 0 -3.3 0M297.6 154.2a1.65 1.65 0 1 0 3.3 0a1.65 1.65 0 1 0 -3.3 0M298.1 153.1a1.65 1.65 0 1 0 3.3 0a1.65 1.65 0 1 0 -3.3 0M298.5 152.1a1.65 1.65 0 1 0 3.3 0a1.65 1.65 0 1 0 -3.3 0M299 153.4a1.65 1.65 0 1 0 3.3 0a1.65 1.65 0 1 0 -3.3 0M299.4 155.2a1.65 1.65 0 1 0 3.3 0a1.65 1.65 0 1 0 -3.3 0M299.9 153.9a1.65 1.65 0 1 0 3.3 0a1.65 1.65 0 1 0 -3.3 0M300.3 154.4a1.65 1.65 0 1 0 3.3 0a1.65 1.65 0 1 0 -3.3 0M300.8 154.9a1.65 1.65 0 1 0 3.3 0a1.65 1.65 0 1 0 -3.3 0M301.3 150.9a1.65 1.65 0 1 0 3.3 0a1.65 1.65 0 1 0 -3.3 0M301.7 156.2a1.65 1.65 0 1 0 3.3 0a1.65 1.65 0 1 0 -3.3 0M302.2 152.2a1.65 1.65 0 1 0 3.3 0a1.65 1.65 0 1 0 -3.3 0M302.6 155.1a1.65 1.65 0 1 0 3.3 0a1.65 1.65 0 1 0 -3.3 0M303.1 154.3a1.65 1.65 0 1 0 3.3 0a1.65 1.65 0 1 0 -3.3 0M303.5 157a1.65 1.65 0 1 0 3.3 0a1.65 1.65 0 1 0 -3.3 0M304 154.3a1.65 1.65 0 1 0 3.3 0a1.65 1.65 0 1 0 -3.3 0M304.5 154.1a1.65 1.65 0 1 0 3.3 0a1.65 1.65 0 1 0 -3.3 0M304.9 152.2a1.65 1.65 0 1 0 3.3 0a1.65 1.65 0 1 0 -3.3 0M305.4 154.5a1.65 1.65 0 1 0 3.3 0a1.65 1.65 0 1 0 -3.3 0M305.8 156.4a1.65 1.65 0 1 0 3.3 0a1.65 1.65 0 1 0 -3.3 0M306.3 157.8a1.65 1.65 0 1 0 3.3 0a1.65 1.65 0 1 0 -3.3 0M306.7 153.5a1.65 1.65 0 1 0 3.3 0a1.65 1.65 0 1 0 -3.3 0M307.2 153.6a1.65 1.65 0 1 0 3.3 0a1.65 1.65 0 1 0 -3.3 0M307.7 153.8a1.65 1.65 0 1 0 3.3 0a1.65 1.65 0 1 0 -3.3 0M308.1 156.5a1.65 1.65 0 1 0 3.3 0a1.65 1.65 0 1 0 -3.3 0M308.6 154.9a1.65 1.65 0 1 0 3.3 0a1.65 1.65 0 1 0 -3.3 0M309 153.6a1.65 1.65 0 1 0 3.3 0a1.65 1.65 0 1 0 -3.3 0M309.5 154.6a1.65 1.65 0 1 0 3.3 0a1.65 1.65 0 1 0 -3.3 0M309.9 151.8a1.65 1.65 0 1 0 3.3 0a1.65 1.65 0 1 0 -3.3 0M310.4 153.2a1.65 1.65 0 1 0 3.3 0a1.65 1.65 0 1 0 -3.3 0M310.9 154.3a1.65 1.65 0 1 0 3.3 0a1.65 1.65 0 1 0 -3.3 0M311.3 158.1a1.65 1.65 0 1 0 3.3 0a1.65 1.65 0 1 0 -3.3 0M311.8 152.5a1.65 1.65 0 1 0 3.3 0a1.65 1.65 0 1 0 -3.3 0M312.2 152.5a1.65 1.65 0 1 0 3.3 0a1.65 1.65 0 1 0 -3.3 0M312.7 154.2a1.65 1.65 0 1 0 3.3 0a1.65 1.65 0 1 0 -3.3 0M313.1 155.9a1.65 1.65 0 1 0 3.3 0a1.65 1.65 0 1 0 -3.3 0M313.6 156.2a1.65 1.65 0 1 0 3.3 0a1.65 1.65 0 1 0 -3.3 0M314 155.9a1.65 1.65 0 1 0 3.3 0a1.65 1.65 0 1 0 -3.3 0M314.5 156.4a1.65 1.65 0 1 0 3.3 0a1.65 1.65 0 1 0 -3.3 0M315 157.8a1.65 1.65 0 1 0 3.3 0a1.65 1.65 0 1 0 -3.3 0M315.4 152a1.65 1.65 0 1 0 3.3 0a1.65 1.65 0 1 0 -3.3 0M315.9 154.9a1.65 1.65 0 1 0 3.3 0a1.65 1.65 0 1 0 -3.3 0M316.3 157.4a1.65 1.65 0 1 0 3.3 0a1.65 1.65 0 1 0 -3.3 0M316.8 155.5a1.65 1.65 0 1 0 3.3 0a1.65 1.65 0 1 0 -3.3 0M317.2 156.8a1.65 1.65 0 1 0 3.3 0a1.65 1.65 0 1 0 -3.3 0M317.7 154.9a1.65 1.65 0 1 0 3.3 0a1.65 1.65 0 1 0 -3.3 0M318.2 158.8a1.65 1.65 0 1 0 3.3 0a1.65 1.65 0 1 0 -3.3 0M318.6 155.8a1.65 1.65 0 1 0 3.3 0a1.65 1.65 0 1 0 -3.3 0M319.1 156.7a1.65 1.65 0 1 0 3.3 0a1.65 1.65 0 1 0 -3.3 0M319.5 154.1a1.65 1.65 0 1 0 3.3 0a1.65 1.65 0 1 0 -3.3 0M320 155.6a1.65 1.65 0 1 0 3.3 0a1.65 1.65 0 1 0 -3.3 0M320.4 154a1.65 1.65 0 1 0 3.3 0a1.65 1.65 0 1 0 -3.3 0M320.9 157.4a1.65 1.65 0 1 0 3.3 0a1.65 1.65 0 1 0 -3.3 0M321.4 153.6a1.65 1.65 0 1 0 3.3 0a1.65 1.65 0 1 0 -3.3 0M321.8 156.3a1.65 1.65 0 1 0 3.3 0a1.65 1.65 0 1 0 -3.3 0M322.3 156.7a1.65 1.65 0 1 0 3.3 0a1.65 1.65 0 1 0 -3.3 0M322.7 157.3a1.65 1.65 0 1 0 3.3 0a1.65 1.65 0 1 0 -3.3 0M323.2 159.1a1.65 1.65 0 1 0 3.3 0a1.65 1.65 0 1 0 -3.3 0M323.6 159a1.65 1.65 0 1 0 3.3 0a1.65 1.65 0 1 0 -3.3 0M324.1 158.3a1.65 1.65 0 1 0 3.3 0a1.65 1.65 0 1 0 -3.3 0M324.6 156.8a1.65 1.65 0 1 0 3.3 0a1.65 1.65 0 1 0 -3.3 0M325 160.2a1.65 1.65 0 1 0 3.3 0a1.65 1.65 0 1 0 -3.3 0M325.5 159.5a1.65 1.65 0 1 0 3.3 0a1.65 1.65 0 1 0 -3.3 0M325.9 154.9a1.65 1.65 0 1 0 3.3 0a1.65 1.65 0 1 0 -3.3 0M326.4 159.6a1.65 1.65 0 1 0 3.3 0a1.65 1.65 0 1 0 -3.3 0M326.8 159.3a1.65 1.65 0 1 0 3.3 0a1.65 1.65 0 1 0 -3.3 0M327.3 154.4a1.65 1.65 0 1 0 3.3 0a1.65 1.65 0 1 0 -3.3 0M327.7 160a1.65 1.65 0 1 0 3.3 0a1.65 1.65 0 1 0 -3.3 0M328.2 158a1.65 1.65 0 1 0 3.3 0a1.65 1.65 0 1 0 -3.3 0M328.7 157.6a1.65 1.65 0 1 0 3.3 0a1.65 1.65 0 1 0 -3.3 0M329.1 159.2a1.65 1.65 0 1 0 3.3 0a1.65 1.65 0 1 0 -3.3 0M329.6 156.1a1.65 1.65 0 1 0 3.3 0a1.65 1.65 0 1 0 -3.3 0M330 160.3a1.65 1.65 0 1 0 3.3 0a1.65 1.65 0 1 0 -3.3 0M330.5 163.1a1.65 1.65 0 1 0 3.3 0a1.65 1.65 0 1 0 -3.3 0M330.9 157.2a1.65 1.65 0 1 0 3.3 0a1.65 1.65 0 1 0 -3.3 0M331.4 160.2a1.65 1.65 0 1 0 3.3 0a1.65 1.65 0 1 0 -3.3 0M331.9 159.9a1.65 1.65 0 1 0 3.3 0a1.65 1.65 0 1 0 -3.3 0M332.3 159.2a1.65 1.65 0 1 0 3.3 0a1.65 1.65 0 1 0 -3.3 0M332.8 159.8a1.65 1.65 0 1 0 3.3 0a1.65 1.65 0 1 0 -3.3 0M333.2 160.1a1.65 1.65 0 1 0 3.3 0a1.65 1.65 0 1 0 -3.3 0M333.7 158.4a1.65 1.65 0 1 0 3.3 0a1.65 1.65 0 1 0 -3.3 0M334.1 160.4a1.65 1.65 0 1 0 3.3 0a1.65 1.65 0 1 0 -3.3 0M334.6 159.3a1.65 1.65 0 1 0 3.3 0a1.65 1.65 0 1 0 -3.3 0M335.1 157.8a1.65 1.65 0 1 0 3.3 0a1.65 1.65 0 1 0 -3.3 0M335.5 157.8a1.65 1.65 0 1 0 3.3 0a1.65 1.65 0 1 0 -3.3 0M336 158a1.65 1.65 0 1 0 3.3 0a1.65 1.65 0 1 0 -3.3 0M336.4 160.6a1.65 1.65 0 1 0 3.3 0a1.65 1.65 0 1 0 -3.3 0M336.9 160.3a1.65 1.65 0 1 0 3.3 0a1.65 1.65 0 1 0 -3.3 0M337.3 159.8a1.65 1.65 0 1 0 3.3 0a1.65 1.65 0 1 0 -3.3 0M337.8 162.5a1.65 1.65 0 1 0 3.3 0a1.65 1.65 0 1 0 -3.3 0M338.2 160.8a1.65 1.65 0 1 0 3.3 0a1.65 1.65 0 1 0 -3.3 0M338.7 160.5a1.65 1.65 0 1 0 3.3 0a1.65 1.65 0 1 0 -3.3 0M339.2 156a1.65 1.65 0 1 0 3.3 0a1.65 1.65 0 1 0 -3.3 0M339.6 162.3a1.65 1.65 0 1 0 3.3 0a1.65 1.65 0 1 0 -3.3 0M340.1 162.4a1.65 1.65 0 1 0 3.3 0a1.65 1.65 0 1 0 -3.3 0M340.5 162.8a1.65 1.65 0 1 0 3.3 0a1.65 1.65 0 1 0 -3.3 0M341 162.9a1.65 1.65 0 1 0 3.3 0a1.65 1.65 0 1 0 -3.3 0M341.4 160.3a1.65 1.65 0 1 0 3.3 0a1.65 1.65 0 1 0 -3.3 0M341.9 160.6a1.65 1.65 0 1 0 3.3 0a1.65 1.65 0 1 0 -3.3 0M342.4 159.7a1.65 1.65 0 1 0 3.3 0a1.65 1.65 0 1 0 -3.3 0M342.8 161.1a1.65 1.65 0 1 0 3.3 0a1.65 1.65 0 1 0 -3.3 0M343.3 162.9a1.65 1.65 0 1 0 3.3 0a1.65 1.65 0 1 0 -3.3 0M343.7 162.4a1.65 1.65 0 1 0 3.3 0a1.65 1.65 0 1 0 -3.3 0M344.2 161.8a1.65 1.65 0 1 0 3.3 0a1.65 1.65 0 1 0 -3.3 0M344.6 160.9a1.65 1.65 0 1 0 3.3 0a1.65 1.65 0 1 0 -3.3 0M345.1 162.2a1.65 1.65 0 1 0 3.3 0a1.65 1.65 0 1 0 -3.3 0M345.6 162.1a1.65 1.65 0 1 0 3.3 0a1.65 1.65 0 1 0 -3.3 0M346 158.2a1.65 1.65 0 1 0 3.3 0a1.65 1.65 0 1 0 -3.3 0M346.5 162.9a1.65 1.65 0 1 0 3.3 0a1.65 1.65 0 1 0 -3.3 0M346.9 161.5a1.65 1.65 0 1 0 3.3 0a1.65 1.65 0 1 0 -3.3 0M347.4 162.6a1.65 1.65 0 1 0 3.3 0a1.65 1.65 0 1 0 -3.3 0M347.8 159.7a1.65 1.65 0 1 0 3.3 0a1.65 1.65 0 1 0 -3.3 0M348.3 162.1a1.65 1.65 0 1 0 3.3 0a1.65 1.65 0 1 0 -3.3 0M348.8 160.2a1.65 1.65 0 1 0 3.3 0a1.65 1.65 0 1 0 -3.3 0M349.2 160.4a1.65 1.65 0 1 0 3.3 0a1.65 1.65 0 1 0 -3.3 0M349.7 159.4a1.65 1.65 0 1 0 3.3 0a1.65 1.65 0 1 0 -3.3 0M350.1 163.3a1.65 1.65 0 1 0 3.3 0a1.65 1.65 0 1 0 -3.3 0M350.6 161a1.65 1.65 0 1 0 3.3 0a1.65 1.65 0 1 0 -3.3 0M351 160.3a1.65 1.65 0 1 0 3.3 0a1.65 1.65 0 1 0 -3.3 0M351.5 164.8a1.65 1.65 0 1 0 3.3 0a1.65 1.65 0 1 0 -3.3 0M352 160.3a1.65 1.65 0 1 0 3.3 0a1.65 1.65 0 1 0 -3.3 0M352.4 162a1.65 1.65 0 1 0 3.3 0a1.65 1.65 0 1 0 -3.3 0M352.9 160.2a1.65 1.65 0 1 0 3.3 0a1.65 1.65 0 1 0 -3.3 0M353.3 162.5a1.65 1.65 0 1 0 3.3 0a1.65 1.65 0 1 0 -3.3 0M353.8 162.7a1.65 1.65 0 1 0 3.3 0a1.65 1.65 0 1 0 -3.3 0M354.2 161.6a1.65 1.65 0 1 0 3.3 0a1.65 1.65 0 1 0 -3.3 0M354.7 162.3a1.65 1.65 0 1 0 3.3 0a1.65 1.65 0 1 0 -3.3 0M355.1 162.2a1.65 1.65 0 1 0 3.3 0a1.65 1.65 0 1 0 -3.3 0M355.6 160.4a1.65 1.65 0 1 0 3.3 0a1.65 1.65 0 1 0 -3.3 0M356.1 162.9a1.65 1.65 0 1 0 3.3 0a1.65 1.65 0 1 0 -3.3 0M356.5 164.6a1.65 1.65 0 1 0 3.3 0a1.65 1.65 0 1 0 -3.3 0M357 159.9a1.65 1.65 0 1 0 3.3 0a1.65 1.65 0 1 0 -3.3 0M357.4 160.3a1.65 1.65 0 1 0 3.3 0a1.65 1.65 0 1 0 -3.3 0M357.9 163.4a1.65 1.65 0 1 0 3.3 0a1.65 1.65 0 1 0 -3.3 0M358.3 160.1a1.65 1.65 0 1 0 3.3 0a1.65 1.65 0 1 0 -3.3 0M358.8 163.6a1.65 1.65 0 1 0 3.3 0a1.65 1.65 0 1 0 -3.3 0M264.4 143.1a1.65 1.65 0 1 0 3.3 0a1.65 1.65 0 1 0 -3.3 0M334.2 152.9a1.65 1.65 0 1 0 3.3 0a1.65 1.65 0 1 0 -3.3 0M340.4 155.6a1.65 1.65 0 1 0 3.3 0a1.65 1.65 0 1 0 -3.3 0M310.6 149.5a1.65 1.65 0 1 0 3.3 0a1.65 1.65 0 1 0 -3.3 0" fill="none" stroke="#ff0000" stroke-width="0.8"/>
<path d="M230.3 174.3 251.6 174.1 252.3 168.7 253 160.4 254.4 152.1 255.8 148 257.8 144.9 260.6 144.1 264.7 143.8 268.9 144.1 274 144.1 283.9 145.5 297.7 148 311.6 150.8 319.9 152.9 328.9 154.7 342.7 157 356.5 158.8 360.5 159.4" fill="none" stroke="#0000ff" stroke-width="1.2" stroke-opacity="0.88" stroke-linejoin="round" stroke-linecap="round"/>
<path d="M403.4 174.4a1.65 1.65 0 1 0 3.3 0a1.65 1.65 0 1 0 -3.3 0M403.8 174.4a1.65 1.65 0 1 0 3.3 0a1.65 1.65 0 1 0 -3.3 0M404.3 174.4a1.65 1.65 0 1 0 3.3 0a1.65 1.65 0 1 0 -3.3 0M404.7 174.4a1.65 1.65 0 1 0 3.3 0a1.65 1.65 0 1 0 -3.3 0M405.2 174.4a1.65 1.65 0 1 0 3.3 0a1.65 1.65 0 1 0 -3.3 0M405.6 174.4a1.65 1.65 0 1 0 3.3 0a1.65 1.65 0 1 0 -3.3 0M406.1 174.4a1.65 1.65 0 1 0 3.3 0a1.65 1.65 0 1 0 -3.3 0M406.5 174.4a1.65 1.65 0 1 0 3.3 0a1.65 1.65 0 1 0 -3.3 0M407 174.4a1.65 1.65 0 1 0 3.3 0a1.65 1.65 0 1 0 -3.3 0M407.5 174.4a1.65 1.65 0 1 0 3.3 0a1.65 1.65 0 1 0 -3.3 0M407.9 174.4a1.65 1.65 0 1 0 3.3 0a1.65 1.65 0 1 0 -3.3 0M408.4 174.4a1.65 1.65 0 1 0 3.3 0a1.65 1.65 0 1 0 -3.3 0M408.8 174.4a1.65 1.65 0 1 0 3.3 0a1.65 1.65 0 1 0 -3.3 0M409.3 174.4a1.65 1.65 0 1 0 3.3 0a1.65 1.65 0 1 0 -3.3 0M409.7 174.4a1.65 1.65 0 1 0 3.3 0a1.65 1.65 0 1 0 -3.3 0M410.2 174.4a1.65 1.65 0 1 0 3.3 0a1.65 1.65 0 1 0 -3.3 0M410.7 174.4a1.65 1.65 0 1 0 3.3 0a1.65 1.65 0 1 0 -3.3 0M411.1 174.4a1.65 1.65 0 1 0 3.3 0a1.65 1.65 0 1 0 -3.3 0M411.6 174.4a1.65 1.65 0 1 0 3.3 0a1.65 1.65 0 1 0 -3.3 0M412 174.4a1.65 1.65 0 1 0 3.3 0a1.65 1.65 0 1 0 -3.3 0M412.5 174.4a1.65 1.65 0 1 0 3.3 0a1.65 1.65 0 1 0 -3.3 0M412.9 174.4a1.65 1.65 0 1 0 3.3 0a1.65 1.65 0 1 0 -3.3 0M413.4 174.4a1.65 1.65 0 1 0 3.3 0a1.65 1.65 0 1 0 -3.3 0M413.9 174.4a1.65 1.65 0 1 0 3.3 0a1.65 1.65 0 1 0 -3.3 0M414.3 174.4a1.65 1.65 0 1 0 3.3 0a1.65 1.65 0 1 0 -3.3 0M414.8 174.4a1.65 1.65 0 1 0 3.3 0a1.65 1.65 0 1 0 -3.3 0M415.2 174.4a1.65 1.65 0 1 0 3.3 0a1.65 1.65 0 1 0 -3.3 0M415.7 174.4a1.65 1.65 0 1 0 3.3 0a1.65 1.65 0 1 0 -3.3 0M416.1 174.4a1.65 1.65 0 1 0 3.3 0a1.65 1.65 0 1 0 -3.3 0M416.6 174.4a1.65 1.65 0 1 0 3.3 0a1.65 1.65 0 1 0 -3.3 0M417.1 174.4a1.65 1.65 0 1 0 3.3 0a1.65 1.65 0 1 0 -3.3 0M417.5 174.4a1.65 1.65 0 1 0 3.3 0a1.65 1.65 0 1 0 -3.3 0M418 174.4a1.65 1.65 0 1 0 3.3 0a1.65 1.65 0 1 0 -3.3 0M418.4 174.4a1.65 1.65 0 1 0 3.3 0a1.65 1.65 0 1 0 -3.3 0M418.9 174.4a1.65 1.65 0 1 0 3.3 0a1.65 1.65 0 1 0 -3.3 0M419.3 174.4a1.65 1.65 0 1 0 3.3 0a1.65 1.65 0 1 0 -3.3 0M419.8 174.4a1.65 1.65 0 1 0 3.3 0a1.65 1.65 0 1 0 -3.3 0M420.2 174.4a1.65 1.65 0 1 0 3.3 0a1.65 1.65 0 1 0 -3.3 0M420.7 174.4a1.65 1.65 0 1 0 3.3 0a1.65 1.65 0 1 0 -3.3 0M421.2 174.4a1.65 1.65 0 1 0 3.3 0a1.65 1.65 0 1 0 -3.3 0M421.6 174.4a1.65 1.65 0 1 0 3.3 0a1.65 1.65 0 1 0 -3.3 0M422.1 174.4a1.65 1.65 0 1 0 3.3 0a1.65 1.65 0 1 0 -3.3 0M422.5 174.4a1.65 1.65 0 1 0 3.3 0a1.65 1.65 0 1 0 -3.3 0M423 174.4a1.65 1.65 0 1 0 3.3 0a1.65 1.65 0 1 0 -3.3 0M423.4 174.4a1.65 1.65 0 1 0 3.3 0a1.65 1.65 0 1 0 -3.3 0M423.9 174.4a1.65 1.65 0 1 0 3.3 0a1.65 1.65 0 1 0 -3.3 0M424.4 174.4a1.65 1.65 0 1 0 3.3 0a1.65 1.65 0 1 0 -3.3 0M424.8 174.4a1.65 1.65 0 1 0 3.3 0a1.65 1.65 0 1 0 -3.3 0M425.3 174.4a1.65 1.65 0 1 0 3.3 0a1.65 1.65 0 1 0 -3.3 0M425.7 174.4a1.65 1.65 0 1 0 3.3 0a1.65 1.65 0 1 0 -3.3 0M426.2 174.4a1.65 1.65 0 1 0 3.3 0a1.65 1.65 0 1 0 -3.3 0M426.6 174.4a1.65 1.65 0 1 0 3.3 0a1.65 1.65 0 1 0 -3.3 0M427.1 174.4a1.65 1.65 0 1 0 3.3 0a1.65 1.65 0 1 0 -3.3 0M427.6 174.4a1.65 1.65 0 1 0 3.3 0a1.65 1.65 0 1 0 -3.3 0M428 174.4a1.65 1.65 0 1 0 3.3 0a1.65 1.65 0 1 0 -3.3 0M428.5 174.4a1.65 1.65 0 1 0 3.3 0a1.65 1.65 0 1 0 -3.3 0M428.9 174.4a1.65 1.65 0 1 0 3.3 0a1.65 1.65 0 1 0 -3.3 0M429.4 174.4a1.65 1.65 0 1 0 3.3 0a1.65 1.65 0 1 0 -3.3 0M429.8 174.4a1.65 1.65 0 1 0 3.3 0a1.65 1.65 0 1 0 -3.3 0M430.3 174.4a1.65 1.65 0 1 0 3.3 0a1.65 1.65 0 1 0 -3.3 0M430.8 174.4a1.65 1.65 0 1 0 3.3 0a1.65 1.65 0 1 0 -3.3 0M431.2 174.4a1.65 1.65 0 1 0 3.3 0a1.65 1.65 0 1 0 -3.3 0M431.7 174.4a1.65 1.65 0 1 0 3.3 0a1.65 1.65 0 1 0 -3.3 0M432.1 174.4a1.65 1.65 0 1 0 3.3 0a1.65 1.65 0 1 0 -3.3 0M432.6 174.4a1.65 1.65 0 1 0 3.3 0a1.65 1.65 0 1 0 -3.3 0M433 174.4a1.65 1.65 0 1 0 3.3 0a1.65 1.65 0 1 0 -3.3 0M433.5 174.4a1.65 1.65 0 1 0 3.3 0a1.65 1.65 0 1 0 -3.3 0M433.9 172.3a1.65 1.65 0 1 0 3.3 0a1.65 1.65 0 1 0 -3.3 0M434.4 168.3a1.65 1.65 0 1 0 3.3 0a1.65 1.65 0 1 0 -3.3 0M434.9 166.1a1.65 1.65 0 1 0 3.3 0a1.65 1.65 0 1 0 -3.3 0M435.3 163.8a1.65 1.65 0 1 0 3.3 0a1.65 1.65 0 1 0 -3.3 0M435.8 162a1.65 1.65 0 1 0 3.3 0a1.65 1.65 0 1 0 -3.3 0M436.2 160.1a1.65 1.65 0 1 0 3.3 0a1.65 1.65 0 1 0 -3.3 0M436.7 158.2a1.65 1.65 0 1 0 3.3 0a1.65 1.65 0 1 0 -3.3 0M437.1 156.8a1.65 1.65 0 1 0 3.3 0a1.65 1.65 0 1 0 -3.3 0M437.6 154.2a1.65 1.65 0 1 0 3.3 0a1.65 1.65 0 1 0 -3.3 0M438.1 154.6a1.65 1.65 0 1 0 3.3 0a1.65 1.65 0 1 0 -3.3 0M438.5 153.5a1.65 1.65 0 1 0 3.3 0a1.65 1.65 0 1 0 -3.3 0M439 154.4a1.65 1.65 0 1 0 3.3 0a1.65 1.65 0 1 0 -3.3 0M439.4 154.2a1.65 1.65 0 1 0 3.3 0a1.65 1.65 0 1 0 -3.3 0M439.9 153.3a1.65 1.65 0 1 0 3.3 0a1.65 1.65 0 1 0 -3.3 0M440.3 155.4a1.65 1.65 0 1 0 3.3 0a1.65 1.65 0 1 0 -3.3 0M440.8 152.6a1.65 1.65 0 1 0 3.3 0a1.65 1.65 0 1 0 -3.3 0M441.3 153.1a1.65 1.65 0 1 0 3.3 0a1.65 1.65 0 1 0 -3.3 0M441.7 149.8a1.65 1.65 0 1 0 3.3 0a1.65 1.65 0 1 0 -3.3 0M442.2 151.6a1.65 1.65 0 1 0 3.3 0a1.65 1.65 0 1 0 -3.3 0M442.6 150.4a1.65 1.65 0 1 0 3.3 0a1.65 1.65 0 1 0 -3.3 0M443.1 150.7a1.65 1.65 0 1 0 3.3 0a1.65 1.65 0 1 0 -3.3 0M443.5 150.4a1.65 1.65 0 1 0 3.3 0a1.65 1.65 0 1 0 -3.3 0M444 148.1a1.65 1.65 0 1 0 3.3 0a1.65 1.65 0 1 0 -3.3 0M444.5 151.2a1.65 1.65 0 1 0 3.3 0a1.65 1.65 0 1 0 -3.3 0M444.9 148.4a1.65 1.65 0 1 0 3.3 0a1.65 1.65 0 1 0 -3.3 0M445.4 151.9a1.65 1.65 0 1 0 3.3 0a1.65 1.65 0 1 0 -3.3 0M445.8 151.1a1.65 1.65 0 1 0 3.3 0a1.65 1.65 0 1 0 -3.3 0M446.3 147.5a1.65 1.65 0 1 0 3.3 0a1.65 1.65 0 1 0 -3.3 0M446.7 149.5a1.65 1.65 0 1 0 3.3 0a1.65 1.65 0 1 0 -3.3 0M447.2 151.9a1.65 1.65 0 1 0 3.3 0a1.65 1.65 0 1 0 -3.3 0M447.6 147.8a1.65 1.65 0 1 0 3.3 0a1.65 1.65 0 1 0 -3.3 0M448.1 148.5a1.65 1.65 0 1 0 3.3 0a1.65 1.65 0 1 0 -3.3 0M448.6 148.1a1.65 1.65 0 1 0 3.3 0a1.65 1.65 0 1 0 -3.3 0M449 149.4a1.65 1.65 0 1 0 3.3 0a1.65 1.65 0 1 0 -3.3 0M449.5 149.7a1.65 1.65 0 1 0 3.3 0a1.65 1.65 0 1 0 -3.3 0M449.9 148.5a1.65 1.65 0 1 0 3.3 0a1.65 1.65 0 1 0 -3.3 0M450.4 150.5a1.65 1.65 0 1 0 3.3 0a1.65 1.65 0 1 0 -3.3 0M450.8 148.5a1.65 1.65 0 1 0 3.3 0a1.65 1.65 0 1 0 -3.3 0M451.3 151.1a1.65 1.65 0 1 0 3.3 0a1.65 1.65 0 1 0 -3.3 0M451.8 150.9a1.65 1.65 0 1 0 3.3 0a1.65 1.65 0 1 0 -3.3 0M452.2 148.6a1.65 1.65 0 1 0 3.3 0a1.65 1.65 0 1 0 -3.3 0M452.7 150.1a1.65 1.65 0 1 0 3.3 0a1.65 1.65 0 1 0 -3.3 0M453.1 149.8a1.65 1.65 0 1 0 3.3 0a1.65 1.65 0 1 0 -3.3 0M453.6 149a1.65 1.65 0 1 0 3.3 0a1.65 1.65 0 1 0 -3.3 0M454 147.6a1.65 1.65 0 1 0 3.3 0a1.65 1.65 0 1 0 -3.3 0M454.5 151.4a1.65 1.65 0 1 0 3.3 0a1.65 1.65 0 1 0 -3.3 0M455 149.2a1.65 1.65 0 1 0 3.3 0a1.65 1.65 0 1 0 -3.3 0M455.4 150a1.65 1.65 0 1 0 3.3 0a1.65 1.65 0 1 0 -3.3 0M455.9 152.5a1.65 1.65 0 1 0 3.3 0a1.65 1.65 0 1 0 -3.3 0M456.3 149.2a1.65 1.65 0 1 0 3.3 0a1.65 1.65 0 1 0 -3.3 0M456.8 150.6a1.65 1.65 0 1 0 3.3 0a1.65 1.65 0 1 0 -3.3 0M457.2 151a1.65 1.65 0 1 0 3.3 0a1.65 1.65 0 1 0 -3.3 0M457.7 152a1.65 1.65 0 1 0 3.3 0a1.65 1.65 0 1 0 -3.3 0M458.2 151.3a1.65 1.65 0 1 0 3.3 0a1.65 1.65 0 1 0 -3.3 0M458.6 153.3a1.65 1.65 0 1 0 3.3 0a1.65 1.65 0 1 0 -3.3 0M459.1 151.9a1.65 1.65 0 1 0 3.3 0a1.65 1.65 0 1 0 -3.3 0M459.5 149.8a1.65 1.65 0 1 0 3.3 0a1.65 1.65 0 1 0 -3.3 0M460 151.1a1.65 1.65 0 1 0 3.3 0a1.65 1.65 0 1 0 -3.3 0M460.4 149.9a1.65 1.65 0 1 0 3.3 0a1.65 1.65 0 1 0 -3.3 0M460.9 151.7a1.65 1.65 0 1 0 3.3 0a1.65 1.65 0 1 0 -3.3 0M461.3 150.5a1.65 1.65 0 1 0 3.3 0a1.65 1.65 0 1 0 -3.3 0M461.8 150.3a1.65 1.65 0 1 0 3.3 0a1.65 1.65 0 1 0 -3.3 0M462.3 149.4a1.65 1.65 0 1 0 3.3 0a1.65 1.65 0 1 0 -3.3 0M462.7 152.1a1.65 1.65 0 1 0 3.3 0a1.65 1.65 0 1 0 -3.3 0M463.2 152.1a1.65 1.65 0 1 0 3.3 0a1.65 1.65 0 1 0 -3.3 0M463.6 150.4a1.65 1.65 0 1 0 3.3 0a1.65 1.65 0 1 0 -3.3 0M464.1 150.9a1.65 1.65 0 1 0 3.3 0a1.65 1.65 0 1 0 -3.3 0M464.5 150.5a1.65 1.65 0 1 0 3.3 0a1.65 1.65 0 1 0 -3.3 0M465 148.1a1.65 1.65 0 1 0 3.3 0a1.65 1.65 0 1 0 -3.3 0M465.5 151.7a1.65 1.65 0 1 0 3.3 0a1.65 1.65 0 1 0 -3.3 0M465.9 151.4a1.65 1.65 0 1 0 3.3 0a1.65 1.65 0 1 0 -3.3 0M466.4 150.4a1.65 1.65 0 1 0 3.3 0a1.65 1.65 0 1 0 -3.3 0M466.8 150.5a1.65 1.65 0 1 0 3.3 0a1.65 1.65 0 1 0 -3.3 0M467.3 151.6a1.65 1.65 0 1 0 3.3 0a1.65 1.65 0 1 0 -3.3 0M467.7 152.9a1.65 1.65 0 1 0 3.3 0a1.65 1.65 0 1 0 -3.3 0M468.2 151.7a1.65 1.65 0 1 0 3.3 0a1.65 1.65 0 1 0 -3.3 0M468.7 150.2a1.65 1.65 0 1 0 3.3 0a1.65 1.65 0 1 0 -3.3 0M469.1 151.3a1.65 1.65 0 1 0 3.3 0a1.65 1.65 0 1 0 -3.3 0M469.6 150.5a1.65 1.65 0 1 0 3.3 0a1.65 1.65 0 1 0 -3.3 0M470 151.5a1.65 1.65 0 1 0 3.3 0a1.65 1.65 0 1 0 -3.3 0M470.5 152.2a1.65 1.65 0 1 0 3.3 0a1.65 1.65 0 1 0 -3.3 0M470.9 152.8a1.65 1.65 0 1 0 3.3 0a1.65 1.65 0 1 0 -3.3 0M471.4 150.1a1.65 1.65 0 1 0 3.3 0a1.65 1.65 0 1 0 -3.3 0M471.9 151.9a1.65 1.65 0 1 0 3.3 0a1.65 1.65 0 1 0 -3.3 0M472.3 152.3a1.65 1.65 0 1 0 3.3 0a1.65 1.65 0 1 0 -3.3 0M472.8 152.9a1.65 1.65 0 1 0 3.3 0a1.65 1.65 0 1 0 -3.3 0M473.2 152.3a1.65 1.65 0 1 0 3.3 0a1.65 1.65 0 1 0 -3.3 0M473.7 150.9a1.65 1.65 0 1 0 3.3 0a1.65 1.65 0 1 0 -3.3 0M474.1 151.7a1.65 1.65 0 1 0 3.3 0a1.65 1.65 0 1 0 -3.3 0M474.6 153.6a1.65 1.65 0 1 0 3.3 0a1.65 1.65 0 1 0 -3.3 0M475 152.8a1.65 1.65 0 1 0 3.3 0a1.65 1.65 0 1 0 -3.3 0M475.5 151.3a1.65 1.65 0 1 0 3.3 0a1.65 1.65 0 1 0 -3.3 0M476 152a1.65 1.65 0 1 0 3.3 0a1.65 1.65 0 1 0 -3.3 0M476.4 152.4a1.65 1.65 0 1 0 3.3 0a1.65 1.65 0 1 0 -3.3 0M476.9 151.7a1.65 1.65 0 1 0 3.3 0a1.65 1.65 0 1 0 -3.3 0M477.3 151.6a1.65 1.65 0 1 0 3.3 0a1.65 1.65 0 1 0 -3.3 0M477.8 153.1a1.65 1.65 0 1 0 3.3 0a1.65 1.65 0 1 0 -3.3 0M478.2 150.8a1.65 1.65 0 1 0 3.3 0a1.65 1.65 0 1 0 -3.3 0M478.7 153a1.65 1.65 0 1 0 3.3 0a1.65 1.65 0 1 0 -3.3 0M479.2 153.6a1.65 1.65 0 1 0 3.3 0a1.65 1.65 0 1 0 -3.3 0M479.6 151.7a1.65 1.65 0 1 0 3.3 0a1.65 1.65 0 1 0 -3.3 0M480.1 151.7a1.65 1.65 0 1 0 3.3 0a1.65 1.65 0 1 0 -3.3 0M480.5 151.4a1.65 1.65 0 1 0 3.3 0a1.65 1.65 0 1 0 -3.3 0M481 153.3a1.65 1.65 0 1 0 3.3 0a1.65 1.65 0 1 0 -3.3 0M481.4 155.3a1.65 1.65 0 1 0 3.3 0a1.65 1.65 0 1 0 -3.3 0M481.9 151.1a1.65 1.65 0 1 0 3.3 0a1.65 1.65 0 1 0 -3.3 0M482.4 153.4a1.65 1.65 0 1 0 3.3 0a1.65 1.65 0 1 0 -3.3 0M482.8 153.8a1.65 1.65 0 1 0 3.3 0a1.65 1.65 0 1 0 -3.3 0M483.3 151.3a1.65 1.65 0 1 0 3.3 0a1.65 1.65 0 1 0 -3.3 0M483.7 152.8a1.65 1.65 0 1 0 3.3 0a1.65 1.65 0 1 0 -3.3 0M484.2 153.8a1.65 1.65 0 1 0 3.3 0a1.65 1.65 0 1 0 -3.3 0M484.6 151.5a1.65 1.65 0 1 0 3.3 0a1.65 1.65 0 1 0 -3.3 0M485.1 153.2a1.65 1.65 0 1 0 3.3 0a1.65 1.65 0 1 0 -3.3 0M485.6 154a1.65 1.65 0 1 0 3.3 0a1.65 1.65 0 1 0 -3.3 0M486 152.5a1.65 1.65 0 1 0 3.3 0a1.65 1.65 0 1 0 -3.3 0M486.5 152.3a1.65 1.65 0 1 0 3.3 0a1.65 1.65 0 1 0 -3.3 0M486.9 155a1.65 1.65 0 1 0 3.3 0a1.65 1.65 0 1 0 -3.3 0M487.4 152.9a1.65 1.65 0 1 0 3.3 0a1.65 1.65 0 1 0 -3.3 0M487.8 154.1a1.65 1.65 0 1 0 3.3 0a1.65 1.65 0 1 0 -3.3 0M488.3 152.8a1.65 1.65 0 1 0 3.3 0a1.65 1.65 0 1 0 -3.3 0M488.7 151.4a1.65 1.65 0 1 0 3.3 0a1.65 1.65 0 1 0 -3.3 0M489.2 153.7a1.65 1.65 0 1 0 3.3 0a1.65 1.65 0 1 0 -3.3 0M489.7 155.8a1.65 1.65 0 1 0 3.3 0a1.65 1.65 0 1 0 -3.3 0M490.1 153.4a1.65 1.65 0 1 0 3.3 0a1.65 1.65 0 1 0 -3.3 0M490.6 154.9a1.65 1.65 0 1 0 3.3 0a1.65 1.65 0 1 0 -3.3 0M491 151.1a1.65 1.65 0 1 0 3.3 0a1.65 1.65 0 1 0 -3.3 0M491.5 153.5a1.65 1.65 0 1 0 3.3 0a1.65 1.65 0 1 0 -3.3 0M491.9 152.8a1.65 1.65 0 1 0 3.3 0a1.65 1.65 0 1 0 -3.3 0M492.4 153.9a1.65 1.65 0 1 0 3.3 0a1.65 1.65 0 1 0 -3.3 0M492.9 151.6a1.65 1.65 0 1 0 3.3 0a1.65 1.65 0 1 0 -3.3 0M493.3 152.9a1.65 1.65 0 1 0 3.3 0a1.65 1.65 0 1 0 -3.3 0M493.8 152.9a1.65 1.65 0 1 0 3.3 0a1.65 1.65 0 1 0 -3.3 0M494.2 153.8a1.65 1.65 0 1 0 3.3 0a1.65 1.65 0 1 0 -3.3 0M494.7 154.1a1.65 1.65 0 1 0 3.3 0a1.65 1.65 0 1 0 -3.3 0M495.1 151.7a1.65 1.65 0 1 0 3.3 0a1.65 1.65 0 1 0 -3.3 0M495.6 154.2a1.65 1.65 0 1 0 3.3 0a1.65 1.65 0 1 0 -3.3 0M496.1 156.4a1.65 1.65 0 1 0 3.3 0a1.65 1.65 0 1 0 -3.3 0M496.5 155a1.65 1.65 0 1 0 3.3 0a1.65 1.65 0 1 0 -3.3 0M497 154a1.65 1.65 0 1 0 3.3 0a1.65 1.65 0 1 0 -3.3 0M497.4 156.5a1.65 1.65 0 1 0 3.3 0a1.65 1.65 0 1 0 -3.3 0M497.9 153.7a1.65 1.65 0 1 0 3.3 0a1.65 1.65 0 1 0 -3.3 0M498.3 154.8a1.65 1.65 0 1 0 3.3 0a1.65 1.65 0 1 0 -3.3 0M498.8 154.4a1.65 1.65 0 1 0 3.3 0a1.65 1.65 0 1 0 -3.3 0M499.2 155.3a1.65 1.65 0 1 0 3.3 0a1.65 1.65 0 1 0 -3.3 0M499.7 156.2a1.65 1.65 0 1 0 3.3 0a1.65 1.65 0 1 0 -3.3 0M500.2 154.9a1.65 1.65 0 1 0 3.3 0a1.65 1.65 0 1 0 -3.3 0M500.6 156.6a1.65 1.65 0 1 0 3.3 0a1.65 1.65 0 1 0 -3.3 0M501.1 154.8a1.65 1.65 0 1 0 3.3 0a1.65 1.65 0 1 0 -3.3 0M501.5 153.7a1.65 1.65 0 1 0 3.3 0a1.65 1.65 0 1 0 -3.3 0M502 153.3a1.65 1.65 0 1 0 3.3 0a1.65 1.65 0 1 0 -3.3 0M502.4 152.6a1.65 1.65 0 1 0 3.3 0a1.65 1.65 0 1 0 -3.3 0M502.9 154.3a1.65 1.65 0 1 0 3.3 0a1.65 1.65 0 1 0 -3.3 0M503.4 154.6a1.65 1.65 0 1 0 3.3 0a1.65 1.65 0 1 0 -3.3 0M503.8 154.6a1.65 1.65 0 1 0 3.3 0a1.65 1.65 0 1 0 -3.3 0M504.3 156.1a1.65 1.65 0 1 0 3.3 0a1.65 1.65 0 1 0 -3.3 0M504.7 155a1.65 1.65 0 1 0 3.3 0a1.65 1.65 0 1 0 -3.3 0M505.2 156.7a1.65 1.65 0 1 0 3.3 0a1.65 1.65 0 1 0 -3.3 0M505.6 155.4a1.65 1.65 0 1 0 3.3 0a1.65 1.65 0 1 0 -3.3 0M506.1 154.6a1.65 1.65 0 1 0 3.3 0a1.65 1.65 0 1 0 -3.3 0M506.6 157a1.65 1.65 0 1 0 3.3 0a1.65 1.65 0 1 0 -3.3 0M507 157a1.65 1.65 0 1 0 3.3 0a1.65 1.65 0 1 0 -3.3 0M507.5 153.8a1.65 1.65 0 1 0 3.3 0a1.65 1.65 0 1 0 -3.3 0M507.9 156.7a1.65 1.65 0 1 0 3.3 0a1.65 1.65 0 1 0 -3.3 0M508.4 158.1a1.65 1.65 0 1 0 3.3 0a1.65 1.65 0 1 0 -3.3 0M508.8 155.9a1.65 1.65 0 1 0 3.3 0a1.65 1.65 0 1 0 -3.3 0M509.3 156.6a1.65 1.65 0 1 0 3.3 0a1.65 1.65 0 1 0 -3.3 0M509.8 155.8a1.65 1.65 0 1 0 3.3 0a1.65 1.65 0 1 0 -3.3 0M510.2 155.8a1.65 1.65 0 1 0 3.3 0a1.65 1.65 0 1 0 -3.3 0M510.7 155.2a1.65 1.65 0 1 0 3.3 0a1.65 1.65 0 1 0 -3.3 0M511.1 157.1a1.65 1.65 0 1 0 3.3 0a1.65 1.65 0 1 0 -3.3 0M511.6 156.7a1.65 1.65 0 1 0 3.3 0a1.65 1.65 0 1 0 -3.3 0M512 156a1.65 1.65 0 1 0 3.3 0a1.65 1.65 0 1 0 -3.3 0M512.5 157.4a1.65 1.65 0 1 0 3.3 0a1.65 1.65 0 1 0 -3.3 0M513 156.4a1.65 1.65 0 1 0 3.3 0a1.65 1.65 0 1 0 -3.3 0M513.4 156.5a1.65 1.65 0 1 0 3.3 0a1.65 1.65 0 1 0 -3.3 0M513.9 156.6a1.65 1.65 0 1 0 3.3 0a1.65 1.65 0 1 0 -3.3 0M514.3 154.4a1.65 1.65 0 1 0 3.3 0a1.65 1.65 0 1 0 -3.3 0M514.8 156.9a1.65 1.65 0 1 0 3.3 0a1.65 1.65 0 1 0 -3.3 0M515.2 157.2a1.65 1.65 0 1 0 3.3 0a1.65 1.65 0 1 0 -3.3 0M515.7 158.8a1.65 1.65 0 1 0 3.3 0a1.65 1.65 0 1 0 -3.3 0M516.1 156.9a1.65 1.65 0 1 0 3.3 0a1.65 1.65 0 1 0 -3.3 0M516.6 156.7a1.65 1.65 0 1 0 3.3 0a1.65 1.65 0 1 0 -3.3 0M517.1 156.1a1.65 1.65 0 1 0 3.3 0a1.65 1.65 0 1 0 -3.3 0M517.5 159a1.65 1.65 0 1 0 3.3 0a1.65 1.65 0 1 0 -3.3 0M518 156.7a1.65 1.65 0 1 0 3.3 0a1.65 1.65 0 1 0 -3.3 0M518.4 157.1a1.65 1.65 0 1 0 3.3 0a1.65 1.65 0 1 0 -3.3 0M518.9 157.5a1.65 1.65 0 1 0 3.3 0a1.65 1.65 0 1 0 -3.3 0M519.3 158.2a1.65 1.65 0 1 0 3.3 0a1.65 1.65 0 1 0 -3.3 0M519.8 157.7a1.65 1.65 0 1 0 3.3 0a1.65 1.65 0 1 0 -3.3 0M520.3 158.4a1.65 1.65 0 1 0 3.3 0a1.65 1.65 0 1 0 -3.3 0M520.7 158.4a1.65 1.65 0 1 0 3.3 0a1.65 1.65 0 1 0 -3.3 0M521.2 157.5a1.65 1.65 0 1 0 3.3 0a1.65 1.65 0 1 0 -3.3 0M521.6 158.5a1.65 1.65 0 1 0 3.3 0a1.65 1.65 0 1 0 -3.3 0M522.1 156.8a1.65 1.65 0 1 0 3.3 0a1.65 1.65 0 1 0 -3.3 0M522.5 159.3a1.65 1.65 0 1 0 3.3 0a1.65 1.65 0 1 0 -3.3 0M523 157.4a1.65 1.65 0 1 0 3.3 0a1.65 1.65 0 1 0 -3.3 0M523.5 158.8a1.65 1.65 0 1 0 3.3 0a1.65 1.65 0 1 0 -3.3 0M523.9 157.8a1.65 1.65 0 1 0 3.3 0a1.65 1.65 0 1 0 -3.3 0M524.4 158.1a1.65 1.65 0 1 0 3.3 0a1.65 1.65 0 1 0 -3.3 0M524.8 157.2a1.65 1.65 0 1 0 3.3 0a1.65 1.65 0 1 0 -3.3 0M525.3 158.6a1.65 1.65 0 1 0 3.3 0a1.65 1.65 0 1 0 -3.3 0M525.7 158.4a1.65 1.65 0 1 0 3.3 0a1.65 1.65 0 1 0 -3.3 0M526.2 159.8a1.65 1.65 0 1 0 3.3 0a1.65 1.65 0 1 0 -3.3 0M526.6 158.4a1.65 1.65 0 1 0 3.3 0a1.65 1.65 0 1 0 -3.3 0M527.1 159.6a1.65 1.65 0 1 0 3.3 0a1.65 1.65 0 1 0 -3.3 0M527.6 158.8a1.65 1.65 0 1 0 3.3 0a1.65 1.65 0 1 0 -3.3 0M528 158.9a1.65 1.65 0 1 0 3.3 0a1.65 1.65 0 1 0 -3.3 0M528.5 158.2a1.65 1.65 0 1 0 3.3 0a1.65 1.65 0 1 0 -3.3 0M528.9 159.4a1.65 1.65 0 1 0 3.3 0a1.65 1.65 0 1 0 -3.3 0M529.4 157.1a1.65 1.65 0 1 0 3.3 0a1.65 1.65 0 1 0 -3.3 0M529.8 159.1a1.65 1.65 0 1 0 3.3 0a1.65 1.65 0 1 0 -3.3 0M530.3 158.2a1.65 1.65 0 1 0 3.3 0a1.65 1.65 0 1 0 -3.3 0M530.8 157.2a1.65 1.65 0 1 0 3.3 0a1.65 1.65 0 1 0 -3.3 0M531.2 158.2a1.65 1.65 0 1 0 3.3 0a1.65 1.65 0 1 0 -3.3 0M531.7 159.6a1.65 1.65 0 1 0 3.3 0a1.65 1.65 0 1 0 -3.3 0M532.1 158.5a1.65 1.65 0 1 0 3.3 0a1.65 1.65 0 1 0 -3.3 0M532.6 159.5a1.65 1.65 0 1 0 3.3 0a1.65 1.65 0 1 0 -3.3 0M533 160.3a1.65 1.65 0 1 0 3.3 0a1.65 1.65 0 1 0 -3.3 0M533.5 161.1a1.65 1.65 0 1 0 3.3 0a1.65 1.65 0 1 0 -3.3 0M534 159.5a1.65 1.65 0 1 0 3.3 0a1.65 1.65 0 1 0 -3.3 0M534.4 159.2a1.65 1.65 0 1 0 3.3 0a1.65 1.65 0 1 0 -3.3 0M534.9 160.2a1.65 1.65 0 1 0 3.3 0a1.65 1.65 0 1 0 -3.3 0M535.3 159.9a1.65 1.65 0 1 0 3.3 0a1.65 1.65 0 1 0 -3.3 0M535.8 160.3a1.65 1.65 0 1 0 3.3 0a1.65 1.65 0 1 0 -3.3 0M536.2 160.2a1.65 1.65 0 1 0 3.3 0a1.65 1.65 0 1 0 -3.3 0M536.7 161a1.65 1.65 0 1 0 3.3 0a1.65 1.65 0 1 0 -3.3 0M537.2 160.3a1.65 1.65 0 1 0 3.3 0a1.65 1.65 0 1 0 -3.3 0M537.6 161.2a1.65 1.65 0 1 0 3.3 0a1.65 1.65 0 1 0 -3.3 0M538.1 160.5a1.65 1.65 0 1 0 3.3 0a1.65 1.65 0 1 0 -3.3 0M538.5 160.2a1.65 1.65 0 1 0 3.3 0a1.65 1.65 0 1 0 -3.3 0M539 158.5a1.65 1.65 0 1 0 3.3 0a1.65 1.65 0 1 0 -3.3 0M539.4 161.8a1.65 1.65 0 1 0 3.3 0a1.65 1.65 0 1 0 -3.3 0M539.9 160.9a1.65 1.65 0 1 0 3.3 0a1.65 1.65 0 1 0 -3.3 0M540.4 158.9a1.65 1.65 0 1 0 3.3 0a1.65 1.65 0 1 0 -3.3 0M512.6 151.5a1.65 1.65 0 1 0 3.3 0a1.65 1.65 0 1 0 -3.3 0M445.9 145.3a1.65 1.65 0 1 0 3.3 0a1.65 1.65 0 1 0 -3.3 0M448.9 145.5a1.65 1.65 0 1 0 3.3 0a1.65 1.65 0 1 0 -3.3 0" fill="none" stroke="#ff0000" stroke-width="0.8"/>
<path d="M411.9 174.3 432.9 174.1 434.3 167.3 435.7 157.7 437.1 152.1 438.4 148.7 440.5 146.9 443.3 146.6 446.7 147.7 452 147.7 465.9 148.3 479.7 150.5 493.6 153.3 497 154.7 510.9 157 524.7 159.1 538.5 160.7 542 161.6" fill="none" stroke="#0000ff" stroke-width="1.2" stroke-opacity="0.88" stroke-linejoin="round" stroke-linecap="round"/>
<path d="M39.9 277.9a1.65 1.65 0 1 0 3.3 0a1.65 1.65 0 1 0 -3.3 0M40.3 277.9a1.65 1.65 0 1 0 3.3 0a1.65 1.65 0 1 0 -3.3 0M40.8 277.9a1.65 1.65 0 1 0 3.3 0a1.65 1.65 0 1 0 -3.3 0M41.2 277.9a1.65 1.65 0 1 0 3.3 0a1.65 1.65 0 1 0 -3.3 0M41.7 277.9a1.65 1.65 0 1 0 3.3 0a1.65 1.65 0 1 0 -3.3 0M42.1 277.9a1.65 1.65 0 1 0 3.3 0a1.65 1.65 0 1 0 -3.3 0M42.6 277.9a1.65 1.65 0 1 0 3.3 0a1.65 1.65 0 1 0 -3.3 0M43 277.9a1.65 1.65 0 1 0 3.3 0a1.65 1.65 0 1 0 -3.3 0M43.5 277.9a1.65 1.65 0 1 0 3.3 0a1.65 1.65 0 1 0 -3.3 0M44 277.9a1.65 1.65 0 1 0 3.3 0a1.65 1.65 0 1 0 -3.3 0M44.4 277.9a1.65 1.65 0 1 0 3.3 0a1.65 1.65 0 1 0 -3.3 0M44.9 277.9a1.65 1.65 0 1 0 3.3 0a1.65 1.65 0 1 0 -3.3 0M45.3 277.9a1.65 1.65 0 1 0 3.3 0a1.65 1.65 0 1 0 -3.3 0M45.8 277.9a1.65 1.65 0 1 0 3.3 0a1.65 1.65 0 1 0 -3.3 0M46.2 277.9a1.65 1.65 0 1 0 3.3 0a1.65 1.65 0 1 0 -3.3 0M46.7 277.9a1.65 1.65 0 1 0 3.3 0a1.65 1.65 0 1 0 -3.3 0M47.2 277.9a1.65 1.65 0 1 0 3.3 0a1.65 1.65 0 1 0 -3.3 0M47.6 277.9a1.65 1.65 0 1 0 3.3 0a1.65 1.65 0 1 0 -3.3 0M48.1 277.9a1.65 1.65 0 1 0 3.3 0a1.65 1.65 0 1 0 -3.3 0M48.5 277.9a1.65 1.65 0 1 0 3.3 0a1.65 1.65 0 1 0 -3.3 0M49 277.9a1.65 1.65 0 1 0 3.3 0a1.65 1.65 0 1 0 -3.3 0M49.4 277.9a1.65 1.65 0 1 0 3.3 0a1.65 1.65 0 1 0 -3.3 0M49.9 277.9a1.65 1.65 0 1 0 3.3 0a1.65 1.65 0 1 0 -3.3 0M50.4 277.9a1.65 1.65 0 1 0 3.3 0a1.65 1.65 0 1 0 -3.3 0M50.8 277.9a1.65 1.65 0 1 0 3.3 0a1.65 1.65 0 1 0 -3.3 0M51.3 277.9a1.65 1.65 0 1 0 3.3 0a1.65 1.65 0 1 0 -3.3 0M51.7 277.9a1.65 1.65 0 1 0 3.3 0a1.65 1.65 0 1 0 -3.3 0M52.2 277.9a1.65 1.65 0 1 0 3.3 0a1.65 1.65 0 1 0 -3.3 0M52.6 277.9a1.65 1.65 0 1 0 3.3 0a1.65 1.65 0 1 0 -3.3 0M53.1 277.9a1.65 1.65 0 1 0 3.3 0a1.65 1.65 0 1 0 -3.3 0M53.6 277.9a1.65 1.65 0 1 0 3.3 0a1.65 1.65 0 1 0 -3.3 0M54 277.9a1.65 1.65 0 1 0 3.3 0a1.65 1.65 0 1 0 -3.3 0M54.5 277.9a1.65 1.65 0 1 0 3.3 0a1.65 1.65 0 1 0 -3.3 0M54.9 277.9a1.65 1.65 0 1 0 3.3 0a1.65 1.65 0 1 0 -3.3 0M55.4 277.9a1.65 1.65 0 1 0 3.3 0a1.65 1.65 0 1 0 -3.3 0M55.8 277.9a1.65 1.65 0 1 0 3.3 0a1.65 1.65 0 1 0 -3.3 0M56.3 277.9a1.65 1.65 0 1 0 3.3 0a1.65 1.65 0 1 0 -3.3 0M56.7 277.9a1.65 1.65 0 1 0 3.3 0a1.65 1.65 0 1 0 -3.3 0M57.2 277.9a1.65 1.65 0 1 0 3.3 0a1.65 1.65 0 1 0 -3.3 0M57.7 277.9a1.65 1.65 0 1 0 3.3 0a1.65 1.65 0 1 0 -3.3 0M58.1 277.9a1.65 1.65 0 1 0 3.3 0a1.65 1.65 0 1 0 -3.3 0M58.6 277.9a1.65 1.65 0 1 0 3.3 0a1.65 1.65 0 1 0 -3.3 0M59 277.9a1.65 1.65 0 1 0 3.3 0a1.65 1.65 0 1 0 -3.3 0M59.5 277.9a1.65 1.65 0 1 0 3.3 0a1.65 1.65 0 1 0 -3.3 0M59.9 277.9a1.65 1.65 0 1 0 3.3 0a1.65 1.65 0 1 0 -3.3 0M60.4 277.9a1.65 1.65 0 1 0 3.3 0a1.65 1.65 0 1 0 -3.3 0M60.9 277.9a1.65 1.65 0 1 0 3.3 0a1.65 1.65 0 1 0 -3.3 0M61.3 277.9a1.65 1.65 0 1 0 3.3 0a1.65 1.65 0 1 0 -3.3 0M61.8 277.9a1.65 1.65 0 1 0 3.3 0a1.65 1.65 0 1 0 -3.3 0M62.2 277.9a1.65 1.65 0 1 0 3.3 0a1.65 1.65 0 1 0 -3.3 0M62.7 277.9a1.65 1.65 0 1 0 3.3 0a1.65 1.65 0 1 0 -3.3 0M63.1 277.9a1.65 1.65 0 1 0 3.3 0a1.65 1.65 0 1 0 -3.3 0M63.6 277.9a1.65 1.65 0 1 0 3.3 0a1.65 1.65 0 1 0 -3.3 0M64.1 277.9a1.65 1.65 0 1 0 3.3 0a1.65 1.65 0 1 0 -3.3 0M64.5 277.9a1.65 1.65 0 1 0 3.3 0a1.65 1.65 0 1 0 -3.3 0M65 277.9a1.65 1.65 0 1 0 3.3 0a1.65 1.65 0 1 0 -3.3 0M65.4 277.9a1.65 1.65 0 1 0 3.3 0a1.65 1.65 0 1 0 -3.3 0M65.9 277.9a1.65 1.65 0 1 0 3.3 0a1.65 1.65 0 1 0 -3.3 0M66.3 277.9a1.65 1.65 0 1 0 3.3 0a1.65 1.65 0 1 0 -3.3 0M66.8 277.9a1.65 1.65 0 1 0 3.3 0a1.65 1.65 0 1 0 -3.3 0M67.2 277.9a1.65 1.65 0 1 0 3.3 0a1.65 1.65 0 1 0 -3.3 0M67.7 277.9a1.65 1.65 0 1 0 3.3 0a1.65 1.65 0 1 0 -3.3 0M68.2 277.9a1.65 1.65 0 1 0 3.3 0a1.65 1.65 0 1 0 -3.3 0M68.6 277.9a1.65 1.65 0 1 0 3.3 0a1.65 1.65 0 1 0 -3.3 0M69.1 277.9a1.65 1.65 0 1 0 3.3 0a1.65 1.65 0 1 0 -3.3 0M69.5 273.1a1.65 1.65 0 1 0 3.3 0a1.65 1.65 0 1 0 -3.3 0M70 269.1a1.65 1.65 0 1 0 3.3 0a1.65 1.65 0 1 0 -3.3 0M70.4 268a1.65 1.65 0 1 0 3.3 0a1.65 1.65 0 1 0 -3.3 0M70.9 266.8a1.65 1.65 0 1 0 3.3 0a1.65 1.65 0 1 0 -3.3 0M71.4 265.7a1.65 1.65 0 1 0 3.3 0a1.65 1.65 0 1 0 -3.3 0M71.8 264.5a1.65 1.65 0 1 0 3.3 0a1.65 1.65 0 1 0 -3.3 0M72.3 263.4a1.65 1.65 0 1 0 3.3 0a1.65 1.65 0 1 0 -3.3 0M72.7 261.8a1.65 1.65 0 1 0 3.3 0a1.65 1.65 0 1 0 -3.3 0M73.2 258.4a1.65 1.65 0 1 0 3.3 0a1.65 1.65 0 1 0 -3.3 0M73.6 256.1a1.65 1.65 0 1 0 3.3 0a1.65 1.65 0 1 0 -3.3 0M74.1 255.4a1.65 1.65 0 1 0 3.3 0a1.65 1.65 0 1 0 -3.3 0M74.6 254.5a1.65 1.65 0 1 0 3.3 0a1.65 1.65 0 1 0 -3.3 0M75 253.2a1.65 1.65 0 1 0 3.3 0a1.65 1.65 0 1 0 -3.3 0M75.5 250.6a1.65 1.65 0 1 0 3.3 0a1.65 1.65 0 1 0 -3.3 0M75.9 251.1a1.65 1.65 0 1 0 3.3 0a1.65 1.65 0 1 0 -3.3 0M76.4 248.3a1.65 1.65 0 1 0 3.3 0a1.65 1.65 0 1 0 -3.3 0M76.8 249.9a1.65 1.65 0 1 0 3.3 0a1.65 1.65 0 1 0 -3.3 0M77.3 249.6a1.65 1.65 0 1 0 3.3 0a1.65 1.65 0 1 0 -3.3 0M77.8 247.4a1.65 1.65 0 1 0 3.3 0a1.65 1.65 0 1 0 -3.3 0M78.2 250a1.65 1.65 0 1 0 3.3 0a1.65 1.65 0 1 0 -3.3 0M78.7 242.5a1.65 1.65 0 1 0 3.3 0a1.65 1.65 0 1 0 -3.3 0M79.1 242.7a1.65 1.65 0 1 0 3.3 0a1.65 1.65 0 1 0 -3.3 0M79.6 238a1.65 1.65 0 1 0 3.3 0a1.65 1.65 0 1 0 -3.3 0M80 245.1a1.65 1.65 0 1 0 3.3 0a1.65 1.65 0 1 0 -3.3 0M80.5 238.7a1.65 1.65 0 1 0 3.3 0a1.65 1.65 0 1 0 -3.3 0M80.9 239.8a1.65 1.65 0 1 0 3.3 0a1.65 1.65 0 1 0 -3.3 0M81.4 241.1a1.65 1.65 0 1 0 3.3 0a1.65 1.65 0 1 0 -3.3 0M81.9 247.2a1.65 1.65 0 1 0 3.3 0a1.65 1.65 0 1 0 -3.3 0M82.3 244.4a1.65 1.65 0 1 0 3.3 0a1.65 1.65 0 1 0 -3.3 0M82.8 239.5a1.65 1.65 0 1 0 3.3 0a1.65 1.65 0 1 0 -3.3 0M83.2 244.3a1.65 1.65 0 1 0 3.3 0a1.65 1.65 0 1 0 -3.3 0M83.7 239.1a1.65 1.65 0 1 0 3.3 0a1.65 1.65 0 1 0 -3.3 0M84.1 242.9a1.65 1.65 0 1 0 3.3 0a1.65 1.65 0 1 0 -3.3 0M84.6 234a1.65 1.65 0 1 0 3.3 0a1.65 1.65 0 1 0 -3.3 0M85.1 236.8a1.65 1.65 0 1 0 3.3 0a1.65 1.65 0 1 0 -3.3 0M85.5 242.8a1.65 1.65 0 1 0 3.3 0a1.65 1.65 0 1 0 -3.3 0M86 242.5a1.65 1.65 0 1 0 3.3 0a1.65 1.65 0 1 0 -3.3 0M86.4 244.6a1.65 1.65 0 1 0 3.3 0a1.65 1.65 0 1 0 -3.3 0M86.9 241.3a1.65 1.65 0 1 0 3.3 0a1.65 1.65 0 1 0 -3.3 0M87.3 242.8a1.65 1.65 0 1 0 3.3 0a1.65 1.65 0 1 0 -3.3 0M87.8 244.1a1.65 1.65 0 1 0 3.3 0a1.65 1.65 0 1 0 -3.3 0M88.3 241.9a1.65 1.65 0 1 0 3.3 0a1.65 1.65 0 1 0 -3.3 0M88.7 240.8a1.65 1.65 0 1 0 3.3 0a1.65 1.65 0 1 0 -3.3 0M89.2 241.9a1.65 1.65 0 1 0 3.3 0a1.65 1.65 0 1 0 -3.3 0M89.6 239.2a1.65 1.65 0 1 0 3.3 0a1.65 1.65 0 1 0 -3.3 0M90.1 247.2a1.65 1.65 0 1 0 3.3 0a1.65 1.65 0 1 0 -3.3 0M90.5 237.2a1.65 1.65 0 1 0 3.3 0a1.65 1.65 0 1 0 -3.3 0M91 236.8a1.65 1.65 0 1 0 3.3 0a1.65 1.65 0 1 0 -3.3 0M91.5 247.7a1.65 1.65 0 1 0 3.3 0a1.65 1.65 0 1 0 -3.3 0M91.9 247.1a1.65 1.65 0 1 0 3.3 0a1.65 1.65 0 1 0 -3.3 0M92.4 244a1.65 1.65 0 1 0 3.3 0a1.65 1.65 0 1 0 -3.3 0M92.8 240.6a1.65 1.65 0 1 0 3.3 0a1.65 1.65 0 1 0 -3.3 0M93.3 237.5a1.65 1.65 0 1 0 3.3 0a1.65 1.65 0 1 0 -3.3 0M93.7 242.5a1.65 1.65 0 1 0 3.3 0a1.65 1.65 0 1 0 -3.3 0M94.2 246.8a1.65 1.65 0 1 0 3.3 0a1.65 1.65 0 1 0 -3.3 0M94.7 246.1a1.65 1.65 0 1 0 3.3 0a1.65 1.65 0 1 0 -3.3 0M95.1 241.5a1.65 1.65 0 1 0 3.3 0a1.65 1.65 0 1 0 -3.3 0M95.6 244.7a1.65 1.65 0 1 0 3.3 0a1.65 1.65 0 1 0 -3.3 0M96 250.4a1.65 1.65 0 1 0 3.3 0a1.65 1.65 0 1 0 -3.3 0M96.5 241.9a1.65 1.65 0 1 0 3.3 0a1.65 1.65 0 1 0 -3.3 0M96.9 244.8a1.65 1.65 0 1 0 3.3 0a1.65 1.65 0 1 0 -3.3 0M97.4 251.1a1.65 1.65 0 1 0 3.3 0a1.65 1.65 0 1 0 -3.3 0M97.8 243.7a1.65 1.65 0 1 0 3.3 0a1.65 1.65 0 1 0 -3.3 0M98.3 247.6a1.65 1.65 0 1 0 3.3 0a1.65 1.65 0 1 0 -3.3 0M98.8 246.6a1.65 1.65 0 1 0 3.3 0a1.65 1.65 0 1 0 -3.3 0M99.2 245.5a1.65 1.65 0 1 0 3.3 0a1.65 1.65 0 1 0 -3.3 0M99.7 242.8a1.65 1.65 0 1 0 3.3 0a1.65 1.65 0 1 0 -3.3 0M100.1 245.5a1.65 1.65 0 1 0 3.3 0a1.65 1.65 0 1 0 -3.3 0M100.6 246.3a1.65 1.65 0 1 0 3.3 0a1.65 1.65 0 1 0 -3.3 0M101 246.3a1.65 1.65 0 1 0 3.3 0a1.65 1.65 0 1 0 -3.3 0M101.5 247.6a1.65 1.65 0 1 0 3.3 0a1.65 1.65 0 1 0 -3.3 0M102 243.9a1.65 1.65 0 1 0 3.3 0a1.65 1.65 0 1 0 -3.3 0M102.4 248.6a1.65 1.65 0 1 0 3.3 0a1.65 1.65 0 1 0 -3.3 0M102.9 249.4a1.65 1.65 0 1 0 3.3 0a1.65 1.65 0 1 0 -3.3 0M103.3 249.1a1.65 1.65 0 1 0 3.3 0a1.65 1.65 0 1 0 -3.3 0M103.8 250a1.65 1.65 0 1 0 3.3 0a1.65 1.65 0 1 0 -3.3 0M104.2 246.3a1.65 1.65 0 1 0 3.3 0a1.65 1.65 0 1 0 -3.3 0M104.7 246.2a1.65 1.65 0 1 0 3.3 0a1.65 1.65 0 1 0 -3.3 0M105.2 249.5a1.65 1.65 0 1 0 3.3 0a1.65 1.65 0 1 0 -3.3 0M105.6 245.4a1.65 1.65 0 1 0 3.3 0a1.65 1.65 0 1 0 -3.3 0M106.1 244.8a1.65 1.65 0 1 0 3.3 0a1.65 1.65 0 1 0 -3.3 0M106.5 251.3a1.65 1.65 0 1 0 3.3 0a1.65 1.65 0 1 0 -3.3 0M107 251.7a1.65 1.65 0 1 0 3.3 0a1.65 1.65 0 1 0 -3.3 0M107.4 251.6a1.65 1.65 0 1 0 3.3 0a1.65 1.65 0 1 0 -3.3 0M107.9 244.6a1.65 1.65 0 1 0 3.3 0a1.65 1.65 0 1 0 -3.3 0M108.3 242.5a1.65 1.65 0 1 0 3.3 0a1.65 1.65 0 1 0 -3.3 0M108.8 251.3a1.65 1.65 0 1 0 3.3 0a1.65 1.65 0 1 0 -3.3 0M109.3 247.6a1.65 1.65 0 1 0 3.3 0a1.65 1.65 0 1 0 -3.3 0M109.7 248.5a1.65 1.65 0 1 0 3.3 0a1.65 1.65 0 1 0 -3.3 0M110.2 248.4a1.65 1.65 0 1 0 3.3 0a1.65 1.65 0 1 0 -3.3 0M110.6 250.2a1.65 1.65 0 1 0 3.3 0a1.65 1.65 0 1 0 -3.3 0M111.1 248.6a1.65 1.65 0 1 0 3.3 0a1.65 1.65 0 1 0 -3.3 0M111.5 251.8a1.65 1.65 0 1 0 3.3 0a1.65 1.65 0 1 0 -3.3 0M112 245.9a1.65 1.65 0 1 0 3.3 0a1.65 1.65 0 1 0 -3.3 0M112.5 245.3a1.65 1.65 0 1 0 3.3 0a1.65 1.65 0 1 0 -3.3 0M112.9 251.2a1.65 1.65 0 1 0 3.3 0a1.65 1.65 0 1 0 -3.3 0M113.4 247.5a1.65 1.65 0 1 0 3.3 0a1.65 1.65 0 1 0 -3.3 0M113.8 250.6a1.65 1.65 0 1 0 3.3 0a1.65 1.65 0 1 0 -3.3 0M114.3 247.2a1.65 1.65 0 1 0 3.3 0a1.65 1.65 0 1 0 -3.3 0M114.7 249a1.65 1.65 0 1 0 3.3 0a1.65 1.65 0 1 0 -3.3 0M115.2 248.8a1.65 1.65 0 1 0 3.3 0a1.65 1.65 0 1 0 -3.3 0M115.7 245.1a1.65 1.65 0 1 0 3.3 0a1.65 1.65 0 1 0 -3.3 0M116.1 246.6a1.65 1.65 0 1 0 3.3 0a1.65 1.65 0 1 0 -3.3 0M116.6 253.4a1.65 1.65 0 1 0 3.3 0a1.65 1.65 0 1 0 -3.3 0M117 251.2a1.65 1.65 0 1 0 3.3 0a1.65 1.65 0 1 0 -3.3 0M117.5 244.9a1.65 1.65 0 1 0 3.3 0a1.65 1.65 0 1 0 -3.3 0M117.9 247.8a1.65 1.65 0 1 0 3.3 0a1.65 1.65 0 1 0 -3.3 0M118.4 250.7a1.65 1.65 0 1 0 3.3 0a1.65 1.65 0 1 0 -3.3 0M118.9 247a1.65 1.65 0 1 0 3.3 0a1.65 1.65 0 1 0 -3.3 0M119.3 247.6a1.65 1.65 0 1 0 3.3 0a1.65 1.65 0 1 0 -3.3 0M119.8 250.1a1.65 1.65 0 1 0 3.3 0a1.65 1.65 0 1 0 -3.3 0M120.2 246.7a1.65 1.65 0 1 0 3.3 0a1.65 1.65 0 1 0 -3.3 0M120.7 252.2a1.65 1.65 0 1 0 3.3 0a1.65 1.65 0 1 0 -3.3 0M121.1 246a1.65 1.65 0 1 0 3.3 0a1.65 1.65 0 1 0 -3.3 0M121.6 247.2a1.65 1.65 0 1 0 3.3 0a1.65 1.65 0 1 0 -3.3 0M122 246.9a1.65 1.65 0 1 0 3.3 0a1.65 1.65 0 1 0 -3.3 0M122.5 251.2a1.65 1.65 0 1 0 3.3 0a1.65 1.65 0 1 0 -3.3 0M123 249.2a1.65 1.65 0 1 0 3.3 0a1.65 1.65 0 1 0 -3.3 0M123.4 245.7a1.65 1.65 0 1 0 3.3 0a1.65 1.65 0 1 0 -3.3 0M123.9 247.2a1.65 1.65 0 1 0 3.3 0a1.65 1.65 0 1 0 -3.3 0M124.3 250.6a1.65 1.65 0 1 0 3.3 0a1.65 1.65 0 1 0 -3.3 0M124.8 249a1.65 1.65 0 1 0 3.3 0a1.65 1.65 0 1 0 -3.3 0M125.2 251.1a1.65 1.65 0 1 0 3.3 0a1.65 1.65 0 1 0 -3.3 0M125.7 248.9a1.65 1.65 0 1 0 3.3 0a1.65 1.65 0 1 0 -3.3 0M126.2 250a1.65 1.65 0 1 0 3.3 0a1.65 1.65 0 1 0 -3.3 0M126.6 247.6a1.65 1.65 0 1 0 3.3 0a1.65 1.65 0 1 0 -3.3 0M127.1 250.5a1.65 1.65 0 1 0 3.3 0a1.65 1.65 0 1 0 -3.3 0M127.5 251.3a1.65 1.65 0 1 0 3.3 0a1.65 1.65 0 1 0 -3.3 0M128 251.1a1.65 1.65 0 1 0 3.3 0a1.65 1.65 0 1 0 -3.3 0M128.4 253.8a1.65 1.65 0 1 0 3.3 0a1.65 1.65 0 1 0 -3.3 0M128.9 251.3a1.65 1.65 0 1 0 3.3 0a1.65 1.65 0 1 0 -3.3 0M129.4 246.2a1.65 1.65 0 1 0 3.3 0a1.65 1.65 0 1 0 -3.3 0M129.8 248.1a1.65 1.65 0 1 0 3.3 0a1.65 1.65 0 1 0 -3.3 0M130.3 248.1a1.65 1.65 0 1 0 3.3 0a1.65 1.65 0 1 0 -3.3 0M130.7 251.7a1.65 1.65 0 1 0 3.3 0a1.65 1.65 0 1 0 -3.3 0M131.2 254.3a1.65 1.65 0 1 0 3.3 0a1.65 1.65 0 1 0 -3.3 0M131.6 247.5a1.65 1.65 0 1 0 3.3 0a1.65 1.65 0 1 0 -3.3 0M132.1 251.3a1.65 1.65 0 1 0 3.3 0a1.65 1.65 0 1 0 -3.3 0M132.6 251.7a1.65 1.65 0 1 0 3.3 0a1.65 1.65 0 1 0 -3.3 0M133 253.6a1.65 1.65 0 1 0 3.3 0a1.65 1.65 0 1 0 -3.3 0M133.5 249.5a1.65 1.65 0 1 0 3.3 0a1.65 1.65 0 1 0 -3.3 0M133.9 248a1.65 1.65 0 1 0 3.3 0a1.65 1.65 0 1 0 -3.3 0M134.4 252.7a1.65 1.65 0 1 0 3.3 0a1.65 1.65 0 1 0 -3.3 0M134.8 249.7a1.65 1.65 0 1 0 3.3 0a1.65 1.65 0 1 0 -3.3 0M135.3 250.4a1.65 1.65 0 1 0 3.3 0a1.65 1.65 0 1 0 -3.3 0M135.7 247.7a1.65 1.65 0 1 0 3.3 0a1.65 1.65 0 1 0 -3.3 0M136.2 250.6a1.65 1.65 0 1 0 3.3 0a1.65 1.65 0 1 0 -3.3 0M136.7 251.6a1.65 1.65 0 1 0 3.3 0a1.65 1.65 0 1 0 -3.3 0M137.1 256.2a1.65 1.65 0 1 0 3.3 0a1.65 1.65 0 1 0 -3.3 0M137.6 250.6a1.65 1.65 0 1 0 3.3 0a1.65 1.65 0 1 0 -3.3 0M138 251.2a1.65 1.65 0 1 0 3.3 0a1.65 1.65 0 1 0 -3.3 0M138.5 251.8a1.65 1.65 0 1 0 3.3 0a1.65 1.65 0 1 0 -3.3 0M138.9 250.6a1.65 1.65 0 1 0 3.3 0a1.65 1.65 0 1 0 -3.3 0M139.4 246.4a1.65 1.65 0 1 0 3.3 0a1.65 1.65 0 1 0 -3.3 0M139.9 249.7a1.65 1.65 0 1 0 3.3 0a1.65 1.65 0 1 0 -3.3 0M140.3 252.6a1.65 1.65 0 1 0 3.3 0a1.65 1.65 0 1 0 -3.3 0M140.8 251.8a1.65 1.65 0 1 0 3.3 0a1.65 1.65 0 1 0 -3.3 0M141.2 252.7a1.65 1.65 0 1 0 3.3 0a1.65 1.65 0 1 0 -3.3 0M141.7 256a1.65 1.65 0 1 0 3.3 0a1.65 1.65 0 1 0 -3.3 0M142.1 249.8a1.65 1.65 0 1 0 3.3 0a1.65 1.65 0 1 0 -3.3 0M142.6 251a1.65 1.65 0 1 0 3.3 0a1.65 1.65 0 1 0 -3.3 0M143.1 252a1.65 1.65 0 1 0 3.3 0a1.65 1.65 0 1 0 -3.3 0M143.5 250.2a1.65 1.65 0 1 0 3.3 0a1.65 1.65 0 1 0 -3.3 0M144 250.1a1.65 1.65 0 1 0 3.3 0a1.65 1.65 0 1 0 -3.3 0M144.4 254.4a1.65 1.65 0 1 0 3.3 0a1.65 1.65 0 1 0 -3.3 0M144.9 248a1.65 1.65 0 1 0 3.3 0a1.65 1.65 0 1 0 -3.3 0M145.3 253a1.65 1.65 0 1 0 3.3 0a1.65 1.65 0 1 0 -3.3 0M145.8 254.1a1.65 1.65 0 1 0 3.3 0a1.65 1.65 0 1 0 -3.3 0M146.3 252.1a1.65 1.65 0 1 0 3.3 0a1.65 1.65 0 1 0 -3.3 0M146.7 254.7a1.65 1.65 0 1 0 3.3 0a1.65 1.65 0 1 0 -3.3 0M147.2 248.6a1.65 1.65 0 1 0 3.3 0a1.65 1.65 0 1 0 -3.3 0M147.6 255.6a1.65 1.65 0 1 0 3.3 0a1.65 1.65 0 1 0 -3.3 0M148.1 251.8a1.65 1.65 0 1 0 3.3 0a1.65 1.65 0 1 0 -3.3 0M148.5 251.7a1.65 1.65 0 1 0 3.3 0a1.65 1.65 0 1 0 -3.3 0M149 253.3a1.65 1.65 0 1 0 3.3 0a1.65 1.65 0 1 0 -3.3 0M149.5 252.2a1.65 1.65 0 1 0 3.3 0a1.65 1.65 0 1 0 -3.3 0M149.9 255.7a1.65 1.65 0 1 0 3.3 0a1.65 1.65 0 1 0 -3.3 0M150.4 252.4a1.65 1.65 0 1 0 3.3 0a1.65 1.65 0 1 0 -3.3 0M150.8 251.1a1.65 1.65 0 1 0 3.3 0a1.65 1.65 0 1 0 -3.3 0M151.3 249.1a1.65 1.65 0 1 0 3.3 0a1.65 1.65 0 1 0 -3.3 0M151.7 253.3a1.65 1.65 0 1 0 3.3 0a1.65 1.65 0 1 0 -3.3 0M152.2 256.7a1.65 1.65 0 1 0 3.3 0a1.65 1.65 0 1 0 -3.3 0M152.6 249.3a1.65 1.65 0 1 0 3.3 0a1.65 1.65 0 1 0 -3.3 0M153.1 254.9a1.65 1.65 0 1 0 3.3 0a1.65 1.65 0 1 0 -3.3 0M153.6 251.6a1.65 1.65 0 1 0 3.3 0a1.65 1.65 0 1 0 -3.3 0M154 253.7a1.65 1.65 0 1 0 3.3 0a1.65 1.65 0 1 0 -3.3 0M154.5 250.6a1.65 1.65 0 1 0 3.3 0a1.65 1.65 0 1 0 -3.3 0M154.9 252a1.65 1.65 0 1 0 3.3 0a1.65 1.65 0 1 0 -3.3 0M155.4 254.9a1.65 1.65 0 1 0 3.3 0a1.65 1.65 0 1 0 -3.3 0M155.8 254.3a1.65 1.65 0 1 0 3.3 0a1.65 1.65 0 1 0 -3.3 0M156.3 252.9a1.65 1.65 0 1 0 3.3 0a1.65 1.65 0 1 0 -3.3 0M156.8 257.2a1.65 1.65 0 1 0 3.3 0a1.65 1.65 0 1 0 -3.3 0M157.2 253.7a1.65 1.65 0 1 0 3.3 0a1.65 1.65 0 1 0 -3.3 0M157.7 252.1a1.65 1.65 0 1 0 3.3 0a1.65 1.65 0 1 0 -3.3 0M158.1 255.1a1.65 1.65 0 1 0 3.3 0a1.65 1.65 0 1 0 -3.3 0M158.6 254.7a1.65 1.65 0 1 0 3.3 0a1.65 1.65 0 1 0 -3.3 0M159 252.7a1.65 1.65 0 1 0 3.3 0a1.65 1.65 0 1 0 -3.3 0M159.5 252.2a1.65 1.65 0 1 0 3.3 0a1.65 1.65 0 1 0 -3.3 0M160 250.2a1.65 1.65 0 1 0 3.3 0a1.65 1.65 0 1 0 -3.3 0M160.4 253.1a1.65 1.65 0 1 0 3.3 0a1.65 1.65 0 1 0 -3.3 0M160.9 253.6a1.65 1.65 0 1 0 3.3 0a1.65 1.65 0 1 0 -3.3 0M161.3 252.6a1.65 1.65 0 1 0 3.3 0a1.65 1.65 0 1 0 -3.3 0M161.8 251.8a1.65 1.65 0 1 0 3.3 0a1.65 1.65 0 1 0 -3.3 0M162.2 254.8a1.65 1.65 0 1 0 3.3 0a1.65 1.65 0 1 0 -3.3 0M162.7 252a1.65 1.65 0 1 0 3.3 0a1.65 1.65 0 1 0 -3.3 0M163.2 251a1.65 1.65 0 1 0 3.3 0a1.65 1.65 0 1 0 -3.3 0M163.6 251.3a1.65 1.65 0 1 0 3.3 0a1.65 1.65 0 1 0 -3.3 0M164.1 252.6a1.65 1.65 0 1 0 3.3 0a1.65 1.65 0 1 0 -3.3 0M164.5 250.1a1.65 1.65 0 1 0 3.3 0a1.65 1.65 0 1 0 -3.3 0M165 254.9a1.65 1.65 0 1 0 3.3 0a1.65 1.65 0 1 0 -3.3 0M165.4 256.3a1.65 1.65 0 1 0 3.3 0a1.65 1.65 0 1 0 -3.3 0M165.9 255.5a1.65 1.65 0 1 0 3.3 0a1.65 1.65 0 1 0 -3.3 0M166.3 256a1.65 1.65 0 1 0 3.3 0a1.65 1.65 0 1 0 -3.3 0M166.8 254.4a1.65 1.65 0 1 0 3.3 0a1.65 1.65 0 1 0 -3.3 0M167.3 257.2a1.65 1.65 0 1 0 3.3 0a1.65 1.65 0 1 0 -3.3 0M167.7 250.8a1.65 1.65 0 1 0 3.3 0a1.65 1.65 0 1 0 -3.3 0M168.2 257.3a1.65 1.65 0 1 0 3.3 0a1.65 1.65 0 1 0 -3.3 0M168.6 255.4a1.65 1.65 0 1 0 3.3 0a1.65 1.65 0 1 0 -3.3 0M169.1 255.9a1.65 1.65 0 1 0 3.3 0a1.65 1.65 0 1 0 -3.3 0M169.5 254.7a1.65 1.65 0 1 0 3.3 0a1.65 1.65 0 1 0 -3.3 0M170 254.9a1.65 1.65 0 1 0 3.3 0a1.65 1.65 0 1 0 -3.3 0M170.5 254.2a1.65 1.65 0 1 0 3.3 0a1.65 1.65 0 1 0 -3.3 0M170.9 255.6a1.65 1.65 0 1 0 3.3 0a1.65 1.65 0 1 0 -3.3 0M171.4 254.3a1.65 1.65 0 1 0 3.3 0a1.65 1.65 0 1 0 -3.3 0M171.8 252.2a1.65 1.65 0 1 0 3.3 0a1.65 1.65 0 1 0 -3.3 0M172.3 252.5a1.65 1.65 0 1 0 3.3 0a1.65 1.65 0 1 0 -3.3 0M172.7 255.8a1.65 1.65 0 1 0 3.3 0a1.65 1.65 0 1 0 -3.3 0M173.2 257.1a1.65 1.65 0 1 0 3.3 0a1.65 1.65 0 1 0 -3.3 0M173.7 256a1.65 1.65 0 1 0 3.3 0a1.65 1.65 0 1 0 -3.3 0M174.1 255.9a1.65 1.65 0 1 0 3.3 0a1.65 1.65 0 1 0 -3.3 0M174.6 256.4a1.65 1.65 0 1 0 3.3 0a1.65 1.65 0 1 0 -3.3 0M175 255.8a1.65 1.65 0 1 0 3.3 0a1.65 1.65 0 1 0 -3.3 0M175.5 258.8a1.65 1.65 0 1 0 3.3 0a1.65 1.65 0 1 0 -3.3 0M175.9 253.5a1.65 1.65 0 1 0 3.3 0a1.65 1.65 0 1 0 -3.3 0M176.4 253.7a1.65 1.65 0 1 0 3.3 0a1.65 1.65 0 1 0 -3.3 0M176.8 255.7a1.65 1.65 0 1 0 3.3 0a1.65 1.65 0 1 0 -3.3 0" fill="none" stroke="#ff0000" stroke-width="0.8"/>
<path d="M48.4 277.8 69 277.6 69.8 273.7 70.9 266.2 72.1 260.2 73.6 254.1 75.1 250.4 77.3 248.9 82.6 248.9 87.1 248.9 90 249.2 99.9 249.9 113.7 251.8 127.6 254.6 135.9 256.4 145.9 257.4 159.7 259.6 173.5 261.2 178.4 261.9" fill="none" stroke="#0000ff" stroke-width="1.2" stroke-opacity="0.88" stroke-linejoin="round" stroke-linecap="round"/>
<path d="M221.8 277.9a1.65 1.65 0 1 0 3.3 0a1.65 1.65 0 1 0 -3.3 0M222.3 277.9a1.65 1.65 0 1 0 3.3 0a1.65 1.65 0 1 0 -3.3 0M222.7 277.9a1.65 1.65 0 1 0 3.3 0a1.65 1.65 0 1 0 -3.3 0M223.2 277.9a1.65 1.65 0 1 0 3.3 0a1.65 1.65 0 1 0 -3.3 0M223.6 277.9a1.65 1.65 0 1 0 3.3 0a1.65 1.65 0 1 0 -3.3 0M224.1 277.9a1.65 1.65 0 1 0 3.3 0a1.65 1.65 0 1 0 -3.3 0M224.5 277.9a1.65 1.65 0 1 0 3.3 0a1.65 1.65 0 1 0 -3.3 0M225 277.9a1.65 1.65 0 1 0 3.3 0a1.65 1.65 0 1 0 -3.3 0M225.5 277.9a1.65 1.65 0 1 0 3.3 0a1.65 1.65 0 1 0 -3.3 0M225.9 277.9a1.65 1.65 0 1 0 3.3 0a1.65 1.65 0 1 0 -3.3 0M226.4 277.9a1.65 1.65 0 1 0 3.3 0a1.65 1.65 0 1 0 -3.3 0M226.8 277.9a1.65 1.65 0 1 0 3.3 0a1.65 1.65 0 1 0 -3.3 0M227.3 277.9a1.65 1.65 0 1 0 3.3 0a1.65 1.65 0 1 0 -3.3 0M227.7 277.9a1.65 1.65 0 1 0 3.3 0a1.65 1.65 0 1 0 -3.3 0M228.2 277.9a1.65 1.65 0 1 0 3.3 0a1.65 1.65 0 1 0 -3.3 0M228.6 277.9a1.65 1.65 0 1 0 3.3 0a1.65 1.65 0 1 0 -3.3 0M229.1 277.9a1.65 1.65 0 1 0 3.3 0a1.65 1.65 0 1 0 -3.3 0M229.6 277.9a1.65 1.65 0 1 0 3.3 0a1.65 1.65 0 1 0 -3.3 0M230 277.9a1.65 1.65 0 1 0 3.3 0a1.65 1.65 0 1 0 -3.3 0M230.5 277.9a1.65 1.65 0 1 0 3.3 0a1.65 1.65 0 1 0 -3.3 0M230.9 277.9a1.65 1.65 0 1 0 3.3 0a1.65 1.65 0 1 0 -3.3 0M231.4 277.9a1.65 1.65 0 1 0 3.3 0a1.65 1.65 0 1 0 -3.3 0M231.8 277.9a1.65 1.65 0 1 0 3.3 0a1.65 1.65 0 1 0 -3.3 0M232.3 277.9a1.65 1.65 0 1 0 3.3 0a1.65 1.65 0 1 0 -3.3 0M232.8 277.9a1.65 1.65 0 1 0 3.3 0a1.65 1.65 0 1 0 -3.3 0M233.2 277.9a1.65 1.65 0 1 0 3.3 0a1.65 1.65 0 1 0 -3.3 0M233.7 277.9a1.65 1.65 0 1 0 3.3 0a1.65 1.65 0 1 0 -3.3 0M234.1 277.9a1.65 1.65 0 1 0 3.3 0a1.65 1.65 0 1 0 -3.3 0M234.6 277.9a1.65 1.65 0 1 0 3.3 0a1.65 1.65 0 1 0 -3.3 0M235 277.9a1.65 1.65 0 1 0 3.3 0a1.65 1.65 0 1 0 -3.3 0M235.5 277.9a1.65 1.65 0 1 0 3.3 0a1.65 1.65 0 1 0 -3.3 0M236 277.9a1.65 1.65 0 1 0 3.3 0a1.65 1.65 0 1 0 -3.3 0M236.4 277.9a1.65 1.65 0 1 0 3.3 0a1.65 1.65 0 1 0 -3.3 0M236.9 277.9a1.65 1.65 0 1 0 3.3 0a1.65 1.65 0 1 0 -3.3 0M237.3 277.9a1.65 1.65 0 1 0 3.3 0a1.65 1.65 0 1 0 -3.3 0M237.8 277.9a1.65 1.65 0 1 0 3.3 0a1.65 1.65 0 1 0 -3.3 0M238.2 277.9a1.65 1.65 0 1 0 3.3 0a1.65 1.65 0 1 0 -3.3 0M238.7 277.9a1.65 1.65 0 1 0 3.3 0a1.65 1.65 0 1 0 -3.3 0M239.2 277.9a1.65 1.65 0 1 0 3.3 0a1.65 1.65 0 1 0 -3.3 0M239.6 277.9a1.65 1.65 0 1 0 3.3 0a1.65 1.65 0 1 0 -3.3 0M240.1 277.9a1.65 1.65 0 1 0 3.3 0a1.65 1.65 0 1 0 -3.3 0M240.5 277.9a1.65 1.65 0 1 0 3.3 0a1.65 1.65 0 1 0 -3.3 0M241 277.9a1.65 1.65 0 1 0 3.3 0a1.65 1.65 0 1 0 -3.3 0M241.4 277.9a1.65 1.65 0 1 0 3.3 0a1.65 1.65 0 1 0 -3.3 0M241.9 277.9a1.65 1.65 0 1 0 3.3 0a1.65 1.65 0 1 0 -3.3 0M242.3 277.9a1.65 1.65 0 1 0 3.3 0a1.65 1.65 0 1 0 -3.3 0M242.8 277.9a1.65 1.65 0 1 0 3.3 0a1.65 1.65 0 1 0 -3.3 0M243.3 277.9a1.65 1.65 0 1 0 3.3 0a1.65 1.65 0 1 0 -3.3 0M243.7 277.9a1.65 1.65 0 1 0 3.3 0a1.65 1.65 0 1 0 -3.3 0M244.2 277.9a1.65 1.65 0 1 0 3.3 0a1.65 1.65 0 1 0 -3.3 0M244.6 277.9a1.65 1.65 0 1 0 3.3 0a1.65 1.65 0 1 0 -3.3 0M245.1 277.9a1.65 1.65 0 1 0 3.3 0a1.65 1.65 0 1 0 -3.3 0M245.5 277.9a1.65 1.65 0 1 0 3.3 0a1.65 1.65 0 1 0 -3.3 0M246 277.9a1.65 1.65 0 1 0 3.3 0a1.65 1.65 0 1 0 -3.3 0M246.5 277.9a1.65 1.65 0 1 0 3.3 0a1.65 1.65 0 1 0 -3.3 0M246.9 277.9a1.65 1.65 0 1 0 3.3 0a1.65 1.65 0 1 0 -3.3 0M247.4 277.9a1.65 1.65 0 1 0 3.3 0a1.65 1.65 0 1 0 -3.3 0M247.8 277.9a1.65 1.65 0 1 0 3.3 0a1.65 1.65 0 1 0 -3.3 0M248.3 277.9a1.65 1.65 0 1 0 3.3 0a1.65 1.65 0 1 0 -3.3 0M248.7 277.9a1.65 1.65 0 1 0 3.3 0a1.65 1.65 0 1 0 -3.3 0M249.2 277.9a1.65 1.65 0 1 0 3.3 0a1.65 1.65 0 1 0 -3.3 0M249.7 277.9a1.65 1.65 0 1 0 3.3 0a1.65 1.65 0 1 0 -3.3 0M250.1 277.9a1.65 1.65 0 1 0 3.3 0a1.65 1.65 0 1 0 -3.3 0M250.6 277.9a1.65 1.65 0 1 0 3.3 0a1.65 1.65 0 1 0 -3.3 0M251 277.9a1.65 1.65 0 1 0 3.3 0a1.65 1.65 0 1 0 -3.3 0M251.5 277.9a1.65 1.65 0 1 0 3.3 0a1.65 1.65 0 1 0 -3.3 0M251.9 277.9a1.65 1.65 0 1 0 3.3 0a1.65 1.65 0 1 0 -3.3 0M252.4 277.9a1.65 1.65 0 1 0 3.3 0a1.65 1.65 0 1 0 -3.3 0M252.9 277.9a1.65 1.65 0 1 0 3.3 0a1.65 1.65 0 1 0 -3.3 0M253.3 277.9a1.65 1.65 0 1 0 3.3 0a1.65 1.65 0 1 0 -3.3 0M253.8 272.8a1.65 1.65 0 1 0 3.3 0a1.65 1.65 0 1 0 -3.3 0M254.2 269.4a1.65 1.65 0 1 0 3.3 0a1.65 1.65 0 1 0 -3.3 0M254.7 266.9a1.65 1.65 0 1 0 3.3 0a1.65 1.65 0 1 0 -3.3 0M255.1 265.4a1.65 1.65 0 1 0 3.3 0a1.65 1.65 0 1 0 -3.3 0M255.6 264.7a1.65 1.65 0 1 0 3.3 0a1.65 1.65 0 1 0 -3.3 0M256.1 264.2a1.65 1.65 0 1 0 3.3 0a1.65 1.65 0 1 0 -3.3 0M256.5 262.6a1.65 1.65 0 1 0 3.3 0a1.65 1.65 0 1 0 -3.3 0M257 262.7a1.65 1.65 0 1 0 3.3 0a1.65 1.65 0 1 0 -3.3 0M257.4 260.2a1.65 1.65 0 1 0 3.3 0a1.65 1.65 0 1 0 -3.3 0M257.9 257.8a1.65 1.65 0 1 0 3.3 0a1.65 1.65 0 1 0 -3.3 0M258.3 258.6a1.65 1.65 0 1 0 3.3 0a1.65 1.65 0 1 0 -3.3 0M258.8 258.3a1.65 1.65 0 1 0 3.3 0a1.65 1.65 0 1 0 -3.3 0M259.2 256.5a1.65 1.65 0 1 0 3.3 0a1.65 1.65 0 1 0 -3.3 0M259.7 257.3a1.65 1.65 0 1 0 3.3 0a1.65 1.65 0 1 0 -3.3 0M260.2 258.1a1.65 1.65 0 1 0 3.3 0a1.65 1.65 0 1 0 -3.3 0M260.6 255.9a1.65 1.65 0 1 0 3.3 0a1.65 1.65 0 1 0 -3.3 0M261.1 256.1a1.65 1.65 0 1 0 3.3 0a1.65 1.65 0 1 0 -3.3 0M261.5 259.3a1.65 1.65 0 1 0 3.3 0a1.65 1.65 0 1 0 -3.3 0M262 255.8a1.65 1.65 0 1 0 3.3 0a1.65 1.65 0 1 0 -3.3 0M262.4 255.5a1.65 1.65 0 1 0 3.3 0a1.65 1.65 0 1 0 -3.3 0M262.9 256a1.65 1.65 0 1 0 3.3 0a1.65 1.65 0 1 0 -3.3 0M263.4 256a1.65 1.65 0 1 0 3.3 0a1.65 1.65 0 1 0 -3.3 0M263.8 253.7a1.65 1.65 0 1 0 3.3 0a1.65 1.65 0 1 0 -3.3 0M264.3 255.4a1.65 1.65 0 1 0 3.3 0a1.65 1.65 0 1 0 -3.3 0M264.7 255a1.65 1.65 0 1 0 3.3 0a1.65 1.65 0 1 0 -3.3 0M265.2 257.3a1.65 1.65 0 1 0 3.3 0a1.65 1.65 0 1 0 -3.3 0M265.6 254.8a1.65 1.65 0 1 0 3.3 0a1.65 1.65 0 1 0 -3.3 0M266.1 254.8a1.65 1.65 0 1 0 3.3 0a1.65 1.65 0 1 0 -3.3 0M266.6 252.7a1.65 1.65 0 1 0 3.3 0a1.65 1.65 0 1 0 -3.3 0M267 253.5a1.65 1.65 0 1 0 3.3 0a1.65 1.65 0 1 0 -3.3 0M267.5 254.9a1.65 1.65 0 1 0 3.3 0a1.65 1.65 0 1 0 -3.3 0M267.9 253a1.65 1.65 0 1 0 3.3 0a1.65 1.65 0 1 0 -3.3 0M268.4 255a1.65 1.65 0 1 0 3.3 0a1.65 1.65 0 1 0 -3.3 0M268.8 255.5a1.65 1.65 0 1 0 3.3 0a1.65 1.65 0 1 0 -3.3 0M269.3 252.8a1.65 1.65 0 1 0 3.3 0a1.65 1.65 0 1 0 -3.3 0M269.8 254.8a1.65 1.65 0 1 0 3.3 0a1.65 1.65 0 1 0 -3.3 0M270.2 251.9a1.65 1.65 0 1 0 3.3 0a1.65 1.65 0 1 0 -3.3 0M270.7 254.1a1.65 1.65 0 1 0 3.3 0a1.65 1.65 0 1 0 -3.3 0M271.1 255.6a1.65 1.65 0 1 0 3.3 0a1.65 1.65 0 1 0 -3.3 0M271.6 254.8a1.65 1.65 0 1 0 3.3 0a1.65 1.65 0 1 0 -3.3 0M272 255.3a1.65 1.65 0 1 0 3.3 0a1.65 1.65 0 1 0 -3.3 0M272.5 255.2a1.65 1.65 0 1 0 3.3 0a1.65 1.65 0 1 0 -3.3 0M272.9 251.3a1.65 1.65 0 1 0 3.3 0a1.65 1.65 0 1 0 -3.3 0M273.4 254.7a1.65 1.65 0 1 0 3.3 0a1.65 1.65 0 1 0 -3.3 0M273.9 253.2a1.65 1.65 0 1 0 3.3 0a1.65 1.65 0 1 0 -3.3 0M274.3 254.9a1.65 1.65 0 1 0 3.3 0a1.65 1.65 0 1 0 -3.3 0M274.8 256.1a1.65 1.65 0 1 0 3.3 0a1.65 1.65 0 1 0 -3.3 0M275.2 254.7a1.65 1.65 0 1 0 3.3 0a1.65 1.65 0 1 0 -3.3 0M275.7 255.7a1.65 1.65 0 1 0 3.3 0a1.65 1.65 0 1 0 -3.3 0M276.1 255.2a1.65 1.65 0 1 0 3.3 0a1.65 1.65 0 1 0 -3.3 0M276.6 255.2a1.65 1.65 0 1 0 3.3 0a1.65 1.65 0 1 0 -3.3 0M277.1 253.8a1.65 1.65 0 1 0 3.3 0a1.65 1.65 0 1 0 -3.3 0M277.5 254.3a1.65 1.65 0 1 0 3.3 0a1.65 1.65 0 1 0 -3.3 0M278 252.2a1.65 1.65 0 1 0 3.3 0a1.65 1.65 0 1 0 -3.3 0M278.4 253.9a1.65 1.65 0 1 0 3.3 0a1.65 1.65 0 1 0 -3.3 0M278.9 256.7a1.65 1.65 0 1 0 3.3 0a1.65 1.65 0 1 0 -3.3 0M279.3 255.1a1.65 1.65 0 1 0 3.3 0a1.65 1.65 0 1 0 -3.3 0M279.8 254.7a1.65 1.65 0 1 0 3.3 0a1.65 1.65 0 1 0 -3.3 0M280.3 255.2a1.65 1.65 0 1 0 3.3 0a1.65 1.65 0 1 0 -3.3 0M280.7 253.3a1.65 1.65 0 1 0 3.3 0a1.65 1.65 0 1 0 -3.3 0M281.2 251.7a1.65 1.65 0 1 0 3.3 0a1.65 1.65 0 1 0 -3.3 0M281.6 253.4a1.65 1.65 0 1 0 3.3 0a1.65 1.65 0 1 0 -3.3 0M282.1 258.2a1.65 1.65 0 1 0 3.3 0a1.65 1.65 0 1 0 -3.3 0M282.5 255.8a1.65 1.65 0 1 0 3.3 0a1.65 1.65 0 1 0 -3.3 0M283 254.5a1.65 1.65 0 1 0 3.3 0a1.65 1.65 0 1 0 -3.3 0M283.4 253.8a1.65 1.65 0 1 0 3.3 0a1.65 1.65 0 1 0 -3.3 0M283.9 255.9a1.65 1.65 0 1 0 3.3 0a1.65 1.65 0 1 0 -3.3 0M284.4 255.8a1.65 1.65 0 1 0 3.3 0a1.65 1.65 0 1 0 -3.3 0M284.8 257.3a1.65 1.65 0 1 0 3.3 0a1.65 1.65 0 1 0 -3.3 0M285.3 254.8a1.65 1.65 0 1 0 3.3 0a1.65 1.65 0 1 0 -3.3 0M285.7 254.5a1.65 1.65 0 1 0 3.3 0a1.65 1.65 0 1 0 -3.3 0M286.2 254.7a1.65 1.65 0 1 0 3.3 0a1.65 1.65 0 1 0 -3.3 0M286.6 256.5a1.65 1.65 0 1 0 3.3 0a1.65 1.65 0 1 0 -3.3 0M287.1 255.9a1.65 1.65 0 1 0 3.3 0a1.65 1.65 0 1 0 -3.3 0M287.6 258a1.65 1.65 0 1 0 3.3 0a1.65 1.65 0 1 0 -3.3 0M288 256.6a1.65 1.65 0 1 0 3.3 0a1.65 1.65 0 1 0 -3.3 0M288.5 256.3a1.65 1.65 0 1 0 3.3 0a1.65 1.65 0 1 0 -3.3 0M288.9 255.9a1.65 1.65 0 1 0 3.3 0a1.65 1.65 0 1 0 -3.3 0M289.4 254.8a1.65 1.65 0 1 0 3.3 0a1.65 1.65 0 1 0 -3.3 0M289.8 258.1a1.65 1.65 0 1 0 3.3 0a1.65 1.65 0 1 0 -3.3 0M290.3 256.6a1.65 1.65 0 1 0 3.3 0a1.65 1.65 0 1 0 -3.3 0M290.8 258.6a1.65 1.65 0 1 0 3.3 0a1.65 1.65 0 1 0 -3.3 0M291.2 258.3a1.65 1.65 0 1 0 3.3 0a1.65 1.65 0 1 0 -3.3 0M291.7 255.9a1.65 1.65 0 1 0 3.3 0a1.65 1.65 0 1 0 -3.3 0M292.1 257.9a1.65 1.65 0 1 0 3.3 0a1.65 1.65 0 1 0 -3.3 0M292.6 257.2a1.65 1.65 0 1 0 3.3 0a1.65 1.65 0 1 0 -3.3 0M293 256.2a1.65 1.65 0 1 0 3.3 0a1.65 1.65 0 1 0 -3.3 0M293.5 255.4a1.65 1.65 0 1 0 3.3 0a1.65 1.65 0 1 0 -3.3 0M294 258.2a1.65 1.65 0 1 0 3.3 0a1.65 1.65 0 1 0 -3.3 0M294.4 258.6a1.65 1.65 0 1 0 3.3 0a1.65 1.65 0 1 0 -3.3 0M294.9 258.7a1.65 1.65 0 1 0 3.3 0a1.65 1.65 0 1 0 -3.3 0M295.3 258a1.65 1.65 0 1 0 3.3 0a1.65 1.65 0 1 0 -3.3 0M295.8 259.8a1.65 1.65 0 1 0 3.3 0a1.65 1.65 0 1 0 -3.3 0M296.2 254.7a1.65 1.65 0 1 0 3.3 0a1.65 1.65 0 1 0 -3.3 0M296.7 256a1.65 1.65 0 1 0 3.3 0a1.65 1.65 0 1 0 -3.3 0M297.2 255a1.65 1.65 0 1 0 3.3 0a1.65 1.65 0 1 0 -3.3 0M297.6 258.6a1.65 1.65 0 1 0 3.3 0a1.65 1.65 0 1 0 -3.3 0M298.1 258.1a1.65 1.65 0 1 0 3.3 0a1.65 1.65 0 1 0 -3.3 0M298.5 258.7a1.65 1.65 0 1 0 3.3 0a1.65 1.65 0 1 0 -3.3 0M299 259.6a1.65 1.65 0 1 0 3.3 0a1.65 1.65 0 1 0 -3.3 0M299.4 256.6a1.65 1.65 0 1 0 3.3 0a1.65 1.65 0 1 0 -3.3 0M299.9 256.8a1.65 1.65 0 1 0 3.3 0a1.65 1.65 0 1 0 -3.3 0M300.3 255.4a1.65 1.65 0 1 0 3.3 0a1.65 1.65 0 1 0 -3.3 0M300.8 255.6a1.65 1.65 0 1 0 3.3 0a1.65 1.65 0 1 0 -3.3 0M301.3 257.5a1.65 1.65 0 1 0 3.3 0a1.65 1.65 0 1 0 -3.3 0M301.7 257.1a1.65 1.65 0 1 0 3.3 0a1.65 1.65 0 1 0 -3.3 0M302.2 258.2a1.65 1.65 0 1 0 3.3 0a1.65 1.65 0 1 0 -3.3 0M302.6 257.7a1.65 1.65 0 1 0 3.3 0a1.65 1.65 0 1 0 -3.3 0M303.1 260.2a1.65 1.65 0 1 0 3.3 0a1.65 1.65 0 1 0 -3.3 0M303.5 255.8a1.65 1.65 0 1 0 3.3 0a1.65 1.65 0 1 0 -3.3 0M304 259.5a1.65 1.65 0 1 0 3.3 0a1.65 1.65 0 1 0 -3.3 0M304.5 258.9a1.65 1.65 0 1 0 3.3 0a1.65 1.65 0 1 0 -3.3 0M304.9 259.9a1.65 1.65 0 1 0 3.3 0a1.65 1.65 0 1 0 -3.3 0M305.4 259.4a1.65 1.65 0 1 0 3.3 0a1.65 1.65 0 1 0 -3.3 0M305.8 258.1a1.65 1.65 0 1 0 3.3 0a1.65 1.65 0 1 0 -3.3 0M306.3 257.5a1.65 1.65 0 1 0 3.3 0a1.65 1.65 0 1 0 -3.3 0M306.7 258.2a1.65 1.65 0 1 0 3.3 0a1.65 1.65 0 1 0 -3.3 0M307.2 258a1.65 1.65 0 1 0 3.3 0a1.65 1.65 0 1 0 -3.3 0M307.7 260a1.65 1.65 0 1 0 3.3 0a1.65 1.65 0 1 0 -3.3 0M308.1 260.1a1.65 1.65 0 1 0 3.3 0a1.65 1.65 0 1 0 -3.3 0M308.6 258.1a1.65 1.65 0 1 0 3.3 0a1.65 1.65 0 1 0 -3.3 0M309 256.6a1.65 1.65 0 1 0 3.3 0a1.65 1.65 0 1 0 -3.3 0M309.5 257.7a1.65 1.65 0 1 0 3.3 0a1.65 1.65 0 1 0 -3.3 0M309.9 259a1.65 1.65 0 1 0 3.3 0a1.65 1.65 0 1 0 -3.3 0M310.4 258.5a1.65 1.65 0 1 0 3.3 0a1.65 1.65 0 1 0 -3.3 0M310.9 257.3a1.65 1.65 0 1 0 3.3 0a1.65 1.65 0 1 0 -3.3 0M311.3 259.7a1.65 1.65 0 1 0 3.3 0a1.65 1.65 0 1 0 -3.3 0M311.8 261.1a1.65 1.65 0 1 0 3.3 0a1.65 1.65 0 1 0 -3.3 0M312.2 261.5a1.65 1.65 0 1 0 3.3 0a1.65 1.65 0 1 0 -3.3 0M312.7 258.1a1.65 1.65 0 1 0 3.3 0a1.65 1.65 0 1 0 -3.3 0M313.1 258.3a1.65 1.65 0 1 0 3.3 0a1.65 1.65 0 1 0 -3.3 0M313.6 259a1.65 1.65 0 1 0 3.3 0a1.65 1.65 0 1 0 -3.3 0M314 257.2a1.65 1.65 0 1 0 3.3 0a1.65 1.65 0 1 0 -3.3 0M314.5 256.3a1.65 1.65 0 1 0 3.3 0a1.65 1.65 0 1 0 -3.3 0M315 258.7a1.65 1.65 0 1 0 3.3 0a1.65 1.65 0 1 0 -3.3 0M315.4 260.8a1.65 1.65 0 1 0 3.3 0a1.65 1.65 0 1 0 -3.3 0M315.9 259.8a1.65 1.65 0 1 0 3.3 0a1.65 1.65 0 1 0 -3.3 0M316.3 262.7a1.65 1.65 0 1 0 3.3 0a1.65 1.65 0 1 0 -3.3 0M316.8 260.7a1.65 1.65 0 1 0 3.3 0a1.65 1.65 0 1 0 -3.3 0M317.2 259.9a1.65 1.65 0 1 0 3.3 0a1.65 1.65 0 1 0 -3.3 0M317.7 260a1.65 1.65 0 1 0 3.3 0a1.65 1.65 0 1 0 -3.3 0M318.2 259.1a1.65 1.65 0 1 0 3.3 0a1.65 1.65 0 1 0 -3.3 0M318.6 261.4a1.65 1.65 0 1 0 3.3 0a1.65 1.65 0 1 0 -3.3 0M319.1 259.3a1.65 1.65 0 1 0 3.3 0a1.65 1.65 0 1 0 -3.3 0M319.5 260.2a1.65 1.65 0 1 0 3.3 0a1.65 1.65 0 1 0 -3.3 0M320 257.7a1.65 1.65 0 1 0 3.3 0a1.65 1.65 0 1 0 -3.3 0M320.4 260a1.65 1.65 0 1 0 3.3 0a1.65 1.65 0 1 0 -3.3 0M320.9 260.7a1.65 1.65 0 1 0 3.3 0a1.65 1.65 0 1 0 -3.3 0M321.4 260.4a1.65 1.65 0 1 0 3.3 0a1.65 1.65 0 1 0 -3.3 0M321.8 260.8a1.65 1.65 0 1 0 3.3 0a1.65 1.65 0 1 0 -3.3 0M322.3 260.6a1.65 1.65 0 1 0 3.3 0a1.65 1.65 0 1 0 -3.3 0M322.7 261.3a1.65 1.65 0 1 0 3.3 0a1.65 1.65 0 1 0 -3.3 0M323.2 260.4a1.65 1.65 0 1 0 3.3 0a1.65 1.65 0 1 0 -3.3 0M323.6 260.7a1.65 1.65 0 1 0 3.3 0a1.65 1.65 0 1 0 -3.3 0M324.1 261.8a1.65 1.65 0 1 0 3.3 0a1.65 1.65 0 1 0 -3.3 0M324.6 261.2a1.65 1.65 0 1 0 3.3 0a1.65 1.65 0 1 0 -3.3 0M325 258.9a1.65 1.65 0 1 0 3.3 0a1.65 1.65 0 1 0 -3.3 0M325.5 263.6a1.65 1.65 0 1 0 3.3 0a1.65 1.65 0 1 0 -3.3 0M325.9 262.2a1.65 1.65 0 1 0 3.3 0a1.65 1.65 0 1 0 -3.3 0M326.4 259.8a1.65 1.65 0 1 0 3.3 0a1.65 1.65 0 1 0 -3.3 0M326.8 260.1a1.65 1.65 0 1 0 3.3 0a1.65 1.65 0 1 0 -3.3 0M327.3 260.5a1.65 1.65 0 1 0 3.3 0a1.65 1.65 0 1 0 -3.3 0M327.7 261.5a1.65 1.65 0 1 0 3.3 0a1.65 1.65 0 1 0 -3.3 0M328.2 262.3a1.65 1.65 0 1 0 3.3 0a1.65 1.65 0 1 0 -3.3 0M328.7 258.5a1.65 1.65 0 1 0 3.3 0a1.65 1.65 0 1 0 -3.3 0M329.1 261.2a1.65 1.65 0 1 0 3.3 0a1.65 1.65 0 1 0 -3.3 0M329.6 262.6a1.65 1.65 0 1 0 3.3 0a1.65 1.65 0 1 0 -3.3 0M330 264a1.65 1.65 0 1 0 3.3 0a1.65 1.65 0 1 0 -3.3 0M330.5 259.4a1.65 1.65 0 1 0 3.3 0a1.65 1.65 0 1 0 -3.3 0M330.9 262.3a1.65 1.65 0 1 0 3.3 0a1.65 1.65 0 1 0 -3.3 0M331.4 260.8a1.65 1.65 0 1 0 3.3 0a1.65 1.65 0 1 0 -3.3 0M331.9 261.1a1.65 1.65 0 1 0 3.3 0a1.65 1.65 0 1 0 -3.3 0M332.3 263.3a1.65 1.65 0 1 0 3.3 0a1.65 1.65 0 1 0 -3.3 0M332.8 259.6a1.65 1.65 0 1 0 3.3 0a1.65 1.65 0 1 0 -3.3 0M333.2 261.4a1.65 1.65 0 1 0 3.3 0a1.65 1.65 0 1 0 -3.3 0M333.7 261.5a1.65 1.65 0 1 0 3.3 0a1.65 1.65 0 1 0 -3.3 0M334.1 263.9a1.65 1.65 0 1 0 3.3 0a1.65 1.65 0 1 0 -3.3 0M334.6 262.8a1.65 1.65 0 1 0 3.3 0a1.65 1.65 0 1 0 -3.3 0M335.1 261.9a1.65 1.65 0 1 0 3.3 0a1.65 1.65 0 1 0 -3.3 0M335.5 261.7a1.65 1.65 0 1 0 3.3 0a1.65 1.65 0 1 0 -3.3 0M336 263.1a1.65 1.65 0 1 0 3.3 0a1.65 1.65 0 1 0 -3.3 0M336.4 262.9a1.65 1.65 0 1 0 3.3 0a1.65 1.65 0 1 0 -3.3 0M336.9 264.1a1.65 1.65 0 1 0 3.3 0a1.65 1.65 0 1 0 -3.3 0M337.3 262.3a1.65 1.65 0 1 0 3.3 0a1.65 1.65 0 1 0 -3.3 0M337.8 261.9a1.65 1.65 0 1 0 3.3 0a1.65 1.65 0 1 0 -3.3 0M338.2 261.1a1.65 1.65 0 1 0 3.3 0a1.65 1.65 0 1 0 -3.3 0M338.7 262.5a1.65 1.65 0 1 0 3.3 0a1.65 1.65 0 1 0 -3.3 0M339.2 262.7a1.65 1.65 0 1 0 3.3 0a1.65 1.65 0 1 0 -3.3 0M339.6 263.5a1.65 1.65 0 1 0 3.3 0a1.65 1.65 0 1 0 -3.3 0M340.1 263.2a1.65 1.65 0 1 0 3.3 0a1.65 1.65 0 1 0 -3.3 0M340.5 262.7a1.65 1.65 0 1 0 3.3 0a1.65 1.65 0 1 0 -3.3 0M341 263.6a1.65 1.65 0 1 0 3.3 0a1.65 1.65 0 1 0 -3.3 0M341.4 264.1a1.65 1.65 0 1 0 3.3 0a1.65 1.65 0 1 0 -3.3 0M341.9 263.4a1.65 1.65 0 1 0 3.3 0a1.65 1.65 0 1 0 -3.3 0M342.4 262.7a1.65 1.65 0 1 0 3.3 0a1.65 1.65 0 1 0 -3.3 0M342.8 263.8a1.65 1.65 0 1 0 3.3 0a1.65 1.65 0 1 0 -3.3 0M343.3 262.9a1.65 1.65 0 1 0 3.3 0a1.65 1.65 0 1 0 -3.3 0M343.7 264a1.65 1.65 0 1 0 3.3 0a1.65 1.65 0 1 0 -3.3 0M344.2 263.9a1.65 1.65 0 1 0 3.3 0a1.65 1.65 0 1 0 -3.3 0M344.6 263.1a1.65 1.65 0 1 0 3.3 0a1.65 1.65 0 1 0 -3.3 0M345.1 262.5a1.65 1.65 0 1 0 3.3 0a1.65 1.65 0 1 0 -3.3 0M345.6 262.2a1.65 1.65 0 1 0 3.3 0a1.65 1.65 0 1 0 -3.3 0M346 263.8a1.65 1.65 0 1 0 3.3 0a1.65 1.65 0 1 0 -3.3 0M346.5 263.7a1.65 1.65 0 1 0 3.3 0a1.65 1.65 0 1 0 -3.3 0M346.9 261.1a1.65 1.65 0 1 0 3.3 0a1.65 1.65 0 1 0 -3.3 0M347.4 265.1a1.65 1.65 0 1 0 3.3 0a1.65 1.65 0 1 0 -3.3 0M347.8 265.3a1.65 1.65 0 1 0 3.3 0a1.65 1.65 0 1 0 -3.3 0M348.3 264.6a1.65 1.65 0 1 0 3.3 0a1.65 1.65 0 1 0 -3.3 0M348.8 265.3a1.65 1.65 0 1 0 3.3 0a1.65 1.65 0 1 0 -3.3 0M349.2 263.2a1.65 1.65 0 1 0 3.3 0a1.65 1.65 0 1 0 -3.3 0M349.7 263.1a1.65 1.65 0 1 0 3.3 0a1.65 1.65 0 1 0 -3.3 0M350.1 264a1.65 1.65 0 1 0 3.3 0a1.65 1.65 0 1 0 -3.3 0M350.6 263.6a1.65 1.65 0 1 0 3.3 0a1.65 1.65 0 1 0 -3.3 0M351 265.6a1.65 1.65 0 1 0 3.3 0a1.65 1.65 0 1 0 -3.3 0M351.5 263.9a1.65 1.65 0 1 0 3.3 0a1.65 1.65 0 1 0 -3.3 0M352 264.3a1.65 1.65 0 1 0 3.3 0a1.65 1.65 0 1 0 -3.3 0M352.4 263.3a1.65 1.65 0 1 0 3.3 0a1.65 1.65 0 1 0 -3.3 0M352.9 263.3a1.65 1.65 0 1 0 3.3 0a1.65 1.65 0 1 0 -3.3 0M353.3 263.4a1.65 1.65 0 1 0 3.3 0a1.65 1.65 0 1 0 -3.3 0M353.8 264.7a1.65 1.65 0 1 0 3.3 0a1.65 1.65 0 1 0 -3.3 0M354.2 263.7a1.65 1.65 0 1 0 3.3 0a1.65 1.65 0 1 0 -3.3 0M354.7 264.7a1.65 1.65 0 1 0 3.3 0a1.65 1.65 0 1 0 -3.3 0M355.1 262.8a1.65 1.65 0 1 0 3.3 0a1.65 1.65 0 1 0 -3.3 0M355.6 264.6a1.65 1.65 0 1 0 3.3 0a1.65 1.65 0 1 0 -3.3 0M356.1 265.1a1.65 1.65 0 1 0 3.3 0a1.65 1.65 0 1 0 -3.3 0M356.5 264.7a1.65 1.65 0 1 0 3.3 0a1.65 1.65 0 1 0 -3.3 0M357 263.5a1.65 1.65 0 1 0 3.3 0a1.65 1.65 0 1 0 -3.3 0M357.4 263.1a1.65 1.65 0 1 0 3.3 0a1.65 1.65 0 1 0 -3.3 0M357.9 264.1a1.65 1.65 0 1 0 3.3 0a1.65 1.65 0 1 0 -3.3 0M358.3 262.3a1.65 1.65 0 1 0 3.3 0a1.65 1.65 0 1 0 -3.3 0M358.8 264.6a1.65 1.65 0 1 0 3.3 0a1.65 1.65 0 1 0 -3.3 0M310.6 253.6a1.65 1.65 0 1 0 3.3 0a1.65 1.65 0 1 0 -3.3 0" fill="none" stroke="#ff0000" stroke-width="0.8"/>
<path d="M230.3 277.8 252.7 277.6 253.8 272.2 254.9 266.2 256.1 260.9 257.6 257.1 259.8 254.1 262.9 252.3 266.6 251.1 271.1 250.4 274 249.9 283.9 250.2 297.7 252.7 311.6 255.4 319.9 257.1 328.9 258.2 342.7 260.1 356.5 261.9 360.5 262.6" fill="none" stroke="#0000ff" stroke-width="1.2" stroke-opacity="0.88" stroke-linejoin="round" stroke-linecap="round"/>
<path d="M403.4 277.9a1.65 1.65 0 1 0 3.3 0a1.65 1.65 0 1 0 -3.3 0M403.8 277.9a1.65 1.65 0 1 0 3.3 0a1.65 1.65 0 1 0 -3.3 0M404.3 277.9a1.65 1.65 0 1 0 3.3 0a1.65 1.65 0 1 0 -3.3 0M404.7 277.9a1.65 1.65 0 1 0 3.3 0a1.65 1.65 0 1 0 -3.3 0M405.2 277.9a1.65 1.65 0 1 0 3.3 0a1.65 1.65 0 1 0 -3.3 0M405.6 277.9a1.65 1.65 0 1 0 3.3 0a1.65 1.65 0 1 0 -3.3 0M406.1 277.9a1.65 1.65 0 1 0 3.3 0a1.65 1.65 0 1 0 -3.3 0M406.5 277.9a1.65 1.65 0 1 0 3.3 0a1.65 1.65 0 1 0 -3.3 0M407 277.9a1.65 1.65 0 1 0 3.3 0a1.65 1.65 0 1 0 -3.3 0M407.5 277.9a1.65 1.65 0 1 0 3.3 0a1.65 1.65 0 1 0 -3.3 0M407.9 277.9a1.65 1.65 0 1 0 3.3 0a1.65 1.65 0 1 0 -3.3 0M408.4 277.9a1.65 1.65 0 1 0 3.3 0a1.65 1.65 0 1 0 -3.3 0M408.8 277.9a1.65 1.65 0 1 0 3.3 0a1.65 1.65 0 1 0 -3.3 0M409.3 277.9a1.65 1.65 0 1 0 3.3 0a1.65 1.65 0 1 0 -3.3 0M409.7 277.9a1.65 1.65 0 1 0 3.3 0a1.65 1.65 0 1 0 -3.3 0M410.2 277.9a1.65 1.65 0 1 0 3.3 0a1.65 1.65 0 1 0 -3.3 0M410.7 277.9a1.65 1.65 0 1 0 3.3 0a1.65 1.65 0 1 0 -3.3 0M411.1 277.9a1.65 1.65 0 1 0 3.3 0a1.65 1.65 0 1 0 -3.3 0M411.6 277.9a1.65 1.65 0 1 0 3.3 0a1.65 1.65 0 1 0 -3.3 0M412 277.9a1.65 1.65 0 1 0 3.3 0a1.65 1.65 0 1 0 -3.3 0M412.5 277.9a1.65 1.65 0 1 0 3.3 0a1.65 1.65 0 1 0 -3.3 0M412.9 277.9a1.65 1.65 0 1 0 3.3 0a1.65 1.65 0 1 0 -3.3 0M413.4 277.9a1.65 1.65 0 1 0 3.3 0a1.65 1.65 0 1 0 -3.3 0M413.9 277.9a1.65 1.65 0 1 0 3.3 0a1.65 1.65 0 1 0 -3.3 0M414.3 277.9a1.65 1.65 0 1 0 3.3 0a1.65 1.65 0 1 0 -3.3 0M414.8 277.9a1.65 1.65 0 1 0 3.3 0a1.65 1.65 0 1 0 -3.3 0M415.2 277.9a1.65 1.65 0 1 0 3.3 0a1.65 1.65 0 1 0 -3.3 0M415.7 277.9a1.65 1.65 0 1 0 3.3 0a1.65 1.65 0 1 0 -3.3 0M416.1 277.9a1.65 1.65 0 1 0 3.3 0a1.65 1.65 0 1 0 -3.3 0M416.6 277.9a1.65 1.65 0 1 0 3.3 0a1.65 1.65 0 1 0 -3.3 0M417.1 277.9a1.65 1.65 0 1 0 3.3 0a1.65 1.65 0 1 0 -3.3 0M417.5 277.9a1.65 1.65 0 1 0 3.3 0a1.65 1.65 0 1 0 -3.3 0M418 277.9a1.65 1.65 0 1 0 3.3 0a1.65 1.65 0 1 0 -3.3 0M418.4 277.9a1.65 1.65 0 1 0 3.3 0a1.65 1.65 0 1 0 -3.3 0M418.9 277.9a1.65 1.65 0 1 0 3.3 0a1.65 1.65 0 1 0 -3.3 0M419.3 277.9a1.65 1.65 0 1 0 3.3 0a1.65 1.65 0 1 0 -3.3 0M419.8 277.9a1.65 1.65 0 1 0 3.3 0a1.65 1.65 0 1 0 -3.3 0M420.2 277.9a1.65 1.65 0 1 0 3.3 0a1.65 1.65 0 1 0 -3.3 0M420.7 277.9a1.65 1.65 0 1 0 3.3 0a1.65 1.65 0 1 0 -3.3 0M421.2 277.9a1.65 1.65 0 1 0 3.3 0a1.65 1.65 0 1 0 -3.3 0M421.6 277.9a1.65 1.65 0 1 0 3.3 0a1.65 1.65 0 1 0 -3.3 0M422.1 277.9a1.65 1.65 0 1 0 3.3 0a1.65 1.65 0 1 0 -3.3 0M422.5 277.9a1.65 1.65 0 1 0 3.3 0a1.65 1.65 0 1 0 -3.3 0M423 277.9a1.65 1.65 0 1 0 3.3 0a1.65 1.65 0 1 0 -3.3 0M423.4 277.9a1.65 1.65 0 1 0 3.3 0a1.65 1.65 0 1 0 -3.3 0M423.9 277.9a1.65 1.65 0 1 0 3.3 0a1.65 1.65 0 1 0 -3.3 0M424.4 277.9a1.65 1.65 0 1 0 3.3 0a1.65 1.65 0 1 0 -3.3 0M424.8 277.9a1.65 1.65 0 1 0 3.3 0a1.65 1.65 0 1 0 -3.3 0M425.3 277.9a1.65 1.65 0 1 0 3.3 0a1.65 1.65 0 1 0 -3.3 0M425.7 277.9a1.65 1.65 0 1 0 3.3 0a1.65 1.65 0 1 0 -3.3 0M426.2 277.9a1.65 1.65 0 1 0 3.3 0a1.65 1.65 0 1 0 -3.3 0M426.6 277.9a1.65 1.65 0 1 0 3.3 0a1.65 1.65 0 1 0 -3.3 0M427.1 277.9a1.65 1.65 0 1 0 3.3 0a1.65 1.65 0 1 0 -3.3 0M427.6 277.9a1.65 1.65 0 1 0 3.3 0a1.65 1.65 0 1 0 -3.3 0M428 277.9a1.65 1.65 0 1 0 3.3 0a1.65 1.65 0 1 0 -3.3 0M428.5 277.9a1.65 1.65 0 1 0 3.3 0a1.65 1.65 0 1 0 -3.3 0M428.9 277.9a1.65 1.65 0 1 0 3.3 0a1.65 1.65 0 1 0 -3.3 0M429.4 277.9a1.65 1.65 0 1 0 3.3 0a1.65 1.65 0 1 0 -3.3 0M429.8 277.9a1.65 1.65 0 1 0 3.3 0a1.65 1.65 0 1 0 -3.3 0M430.3 277.9a1.65 1.65 0 1 0 3.3 0a1.65 1.65 0 1 0 -3.3 0M430.8 277.9a1.65 1.65 0 1 0 3.3 0a1.65 1.65 0 1 0 -3.3 0M431.2 277.9a1.65 1.65 0 1 0 3.3 0a1.65 1.65 0 1 0 -3.3 0M431.7 277.9a1.65 1.65 0 1 0 3.3 0a1.65 1.65 0 1 0 -3.3 0M432.1 277.9a1.65 1.65 0 1 0 3.3 0a1.65 1.65 0 1 0 -3.3 0M432.6 277.9a1.65 1.65 0 1 0 3.3 0a1.65 1.65 0 1 0 -3.3 0M433 277.9a1.65 1.65 0 1 0 3.3 0a1.65 1.65 0 1 0 -3.3 0M433.5 277.9a1.65 1.65 0 1 0 3.3 0a1.65 1.65 0 1 0 -3.3 0M433.9 277.9a1.65 1.65 0 1 0 3.3 0a1.65 1.65 0 1 0 -3.3 0M434.4 277.9a1.65 1.65 0 1 0 3.3 0a1.65 1.65 0 1 0 -3.3 0M434.9 277.9a1.65 1.65 0 1 0 3.3 0a1.65 1.65 0 1 0 -3.3 0M435.3 277.9a1.65 1.65 0 1 0 3.3 0a1.65 1.65 0 1 0 -3.3 0M435.8 273.2a1.65 1.65 0 1 0 3.3 0a1.65 1.65 0 1 0 -3.3 0M436.2 267.7a1.65 1.65 0 1 0 3.3 0a1.65 1.65 0 1 0 -3.3 0M436.7 264.2a1.65 1.65 0 1 0 3.3 0a1.65 1.65 0 1 0 -3.3 0M437.1 261.8a1.65 1.65 0 1 0 3.3 0a1.65 1.65 0 1 0 -3.3 0M437.6 261.1a1.65 1.65 0 1 0 3.3 0a1.65 1.65 0 1 0 -3.3 0M438.1 260.3a1.65 1.65 0 1 0 3.3 0a1.65 1.65 0 1 0 -3.3 0M438.5 259.7a1.65 1.65 0 1 0 3.3 0a1.65 1.65 0 1 0 -3.3 0M439 258.9a1.65 1.65 0 1 0 3.3 0a1.65 1.65 0 1 0 -3.3 0M439.4 257.5a1.65 1.65 0 1 0 3.3 0a1.65 1.65 0 1 0 -3.3 0M439.9 260.5a1.65 1.65 0 1 0 3.3 0a1.65 1.65 0 1 0 -3.3 0M440.3 258.7a1.65 1.65 0 1 0 3.3 0a1.65 1.65 0 1 0 -3.3 0M440.8 259.2a1.65 1.65 0 1 0 3.3 0a1.65 1.65 0 1 0 -3.3 0M441.3 260.1a1.65 1.65 0 1 0 3.3 0a1.65 1.65 0 1 0 -3.3 0M441.7 257.6a1.65 1.65 0 1 0 3.3 0a1.65 1.65 0 1 0 -3.3 0M442.2 258.7a1.65 1.65 0 1 0 3.3 0a1.65 1.65 0 1 0 -3.3 0M442.6 257.7a1.65 1.65 0 1 0 3.3 0a1.65 1.65 0 1 0 -3.3 0M443.1 258.7a1.65 1.65 0 1 0 3.3 0a1.65 1.65 0 1 0 -3.3 0M443.5 259.8a1.65 1.65 0 1 0 3.3 0a1.65 1.65 0 1 0 -3.3 0M444 259.9a1.65 1.65 0 1 0 3.3 0a1.65 1.65 0 1 0 -3.3 0M444.5 258.1a1.65 1.65 0 1 0 3.3 0a1.65 1.65 0 1 0 -3.3 0M444.9 258.1a1.65 1.65 0 1 0 3.3 0a1.65 1.65 0 1 0 -3.3 0M445.4 259.4a1.65 1.65 0 1 0 3.3 0a1.65 1.65 0 1 0 -3.3 0M445.8 259.1a1.65 1.65 0 1 0 3.3 0a1.65 1.65 0 1 0 -3.3 0M446.3 257.9a1.65 1.65 0 1 0 3.3 0a1.65 1.65 0 1 0 -3.3 0M446.7 259.8a1.65 1.65 0 1 0 3.3 0a1.65 1.65 0 1 0 -3.3 0M447.2 258.3a1.65 1.65 0 1 0 3.3 0a1.65 1.65 0 1 0 -3.3 0M447.6 257.9a1.65 1.65 0 1 0 3.3 0a1.65 1.65 0 1 0 -3.3 0M448.1 259.4a1.65 1.65 0 1 0 3.3 0a1.65 1.65 0 1 0 -3.3 0M448.6 259.1a1.65 1.65 0 1 0 3.3 0a1.65 1.65 0 1 0 -3.3 0M449 259.4a1.65 1.65 0 1 0 3.3 0a1.65 1.65 0 1 0 -3.3 0M449.5 258.3a1.65 1.65 0 1 0 3.3 0a1.65 1.65 0 1 0 -3.3 0M449.9 259.4a1.65 1.65 0 1 0 3.3 0a1.65 1.65 0 1 0 -3.3 0M450.4 262.3a1.65 1.65 0 1 0 3.3 0a1.65 1.65 0 1 0 -3.3 0M450.8 258a1.65 1.65 0 1 0 3.3 0a1.65 1.65 0 1 0 -3.3 0M451.3 256.1a1.65 1.65 0 1 0 3.3 0a1.65 1.65 0 1 0 -3.3 0M451.8 261.2a1.65 1.65 0 1 0 3.3 0a1.65 1.65 0 1 0 -3.3 0M452.2 260.6a1.65 1.65 0 1 0 3.3 0a1.65 1.65 0 1 0 -3.3 0M452.7 259.9a1.65 1.65 0 1 0 3.3 0a1.65 1.65 0 1 0 -3.3 0M453.1 256.8a1.65 1.65 0 1 0 3.3 0a1.65 1.65 0 1 0 -3.3 0M453.6 261.6a1.65 1.65 0 1 0 3.3 0a1.65 1.65 0 1 0 -3.3 0M454 260.9a1.65 1.65 0 1 0 3.3 0a1.65 1.65 0 1 0 -3.3 0M454.5 260.1a1.65 1.65 0 1 0 3.3 0a1.65 1.65 0 1 0 -3.3 0M455 260.5a1.65 1.65 0 1 0 3.3 0a1.65 1.65 0 1 0 -3.3 0M455.4 259.4a1.65 1.65 0 1 0 3.3 0a1.65 1.65 0 1 0 -3.3 0M455.9 260.2a1.65 1.65 0 1 0 3.3 0a1.65 1.65 0 1 0 -3.3 0M456.3 258a1.65 1.65 0 1 0 3.3 0a1.65 1.65 0 1 0 -3.3 0M456.8 258.6a1.65 1.65 0 1 0 3.3 0a1.65 1.65 0 1 0 -3.3 0M457.2 259.1a1.65 1.65 0 1 0 3.3 0a1.65 1.65 0 1 0 -3.3 0M457.7 260.8a1.65 1.65 0 1 0 3.3 0a1.65 1.65 0 1 0 -3.3 0M458.2 261.4a1.65 1.65 0 1 0 3.3 0a1.65 1.65 0 1 0 -3.3 0M458.6 262.2a1.65 1.65 0 1 0 3.3 0a1.65 1.65 0 1 0 -3.3 0M459.1 259.9a1.65 1.65 0 1 0 3.3 0a1.65 1.65 0 1 0 -3.3 0M459.5 260.4a1.65 1.65 0 1 0 3.3 0a1.65 1.65 0 1 0 -3.3 0M460 260a1.65 1.65 0 1 0 3.3 0a1.65 1.65 0 1 0 -3.3 0M460.4 260.4a1.65 1.65 0 1 0 3.3 0a1.65 1.65 0 1 0 -3.3 0M460.9 258.8a1.65 1.65 0 1 0 3.3 0a1.65 1.65 0 1 0 -3.3 0M461.3 259.9a1.65 1.65 0 1 0 3.3 0a1.65 1.65 0 1 0 -3.3 0M461.8 258.9a1.65 1.65 0 1 0 3.3 0a1.65 1.65 0 1 0 -3.3 0M462.3 261.7a1.65 1.65 0 1 0 3.3 0a1.65 1.65 0 1 0 -3.3 0M462.7 256.7a1.65 1.65 0 1 0 3.3 0a1.65 1.65 0 1 0 -3.3 0M463.2 261.2a1.65 1.65 0 1 0 3.3 0a1.65 1.65 0 1 0 -3.3 0M463.6 259.6a1.65 1.65 0 1 0 3.3 0a1.65 1.65 0 1 0 -3.3 0M464.1 259.1a1.65 1.65 0 1 0 3.3 0a1.65 1.65 0 1 0 -3.3 0M464.5 257.4a1.65 1.65 0 1 0 3.3 0a1.65 1.65 0 1 0 -3.3 0M465 259.7a1.65 1.65 0 1 0 3.3 0a1.65 1.65 0 1 0 -3.3 0M465.5 259.5a1.65 1.65 0 1 0 3.3 0a1.65 1.65 0 1 0 -3.3 0M465.9 262.5a1.65 1.65 0 1 0 3.3 0a1.65 1.65 0 1 0 -3.3 0M466.4 261a1.65 1.65 0 1 0 3.3 0a1.65 1.65 0 1 0 -3.3 0M466.8 260.9a1.65 1.65 0 1 0 3.3 0a1.65 1.65 0 1 0 -3.3 0M467.3 258.6a1.65 1.65 0 1 0 3.3 0a1.65 1.65 0 1 0 -3.3 0M467.7 261.6a1.65 1.65 0 1 0 3.3 0a1.65 1.65 0 1 0 -3.3 0M468.2 259.9a1.65 1.65 0 1 0 3.3 0a1.65 1.65 0 1 0 -3.3 0M468.7 258.5a1.65 1.65 0 1 0 3.3 0a1.65 1.65 0 1 0 -3.3 0M469.1 259.2a1.65 1.65 0 1 0 3.3 0a1.65 1.65 0 1 0 -3.3 0M469.6 262a1.65 1.65 0 1 0 3.3 0a1.65 1.65 0 1 0 -3.3 0M470 260.6a1.65 1.65 0 1 0 3.3 0a1.65 1.65 0 1 0 -3.3 0M470.5 262.1a1.65 1.65 0 1 0 3.3 0a1.65 1.65 0 1 0 -3.3 0M470.9 260.6a1.65 1.65 0 1 0 3.3 0a1.65 1.65 0 1 0 -3.3 0M471.4 257.4a1.65 1.65 0 1 0 3.3 0a1.65 1.65 0 1 0 -3.3 0M471.9 262a1.65 1.65 0 1 0 3.3 0a1.65 1.65 0 1 0 -3.3 0M472.3 258.9a1.65 1.65 0 1 0 3.3 0a1.65 1.65 0 1 0 -3.3 0M472.8 260.8a1.65 1.65 0 1 0 3.3 0a1.65 1.65 0 1 0 -3.3 0M473.2 260.5a1.65 1.65 0 1 0 3.3 0a1.65 1.65 0 1 0 -3.3 0M473.7 261.9a1.65 1.65 0 1 0 3.3 0a1.65 1.65 0 1 0 -3.3 0M474.1 261.3a1.65 1.65 0 1 0 3.3 0a1.65 1.65 0 1 0 -3.3 0M474.6 263.7a1.65 1.65 0 1 0 3.3 0a1.65 1.65 0 1 0 -3.3 0M475 258.8a1.65 1.65 0 1 0 3.3 0a1.65 1.65 0 1 0 -3.3 0M475.5 259.9a1.65 1.65 0 1 0 3.3 0a1.65 1.65 0 1 0 -3.3 0M476 259.8a1.65 1.65 0 1 0 3.3 0a1.65 1.65 0 1 0 -3.3 0M476.4 261.4a1.65 1.65 0 1 0 3.3 0a1.65 1.65 0 1 0 -3.3 0M476.9 258.4a1.65 1.65 0 1 0 3.3 0a1.65 1.65 0 1 0 -3.3 0M477.3 260.7a1.65 1.65 0 1 0 3.3 0a1.65 1.65 0 1 0 -3.3 0M477.8 259.6a1.65 1.65 0 1 0 3.3 0a1.65 1.65 0 1 0 -3.3 0M478.2 260.3a1.65 1.65 0 1 0 3.3 0a1.65 1.65 0 1 0 -3.3 0M478.7 260.8a1.65 1.65 0 1 0 3.3 0a1.65 1.65 0 1 0 -3.3 0M479.2 261a1.65 1.65 0 1 0 3.3 0a1.65 1.65 0 1 0 -3.3 0M479.6 260.4a1.65 1.65 0 1 0 3.3 0a1.65 1.65 0 1 0 -3.3 0M480.1 261.9a1.65 1.65 0 1 0 3.3 0a1.65 1.65 0 1 0 -3.3 0M480.5 261.7a1.65 1.65 0 1 0 3.3 0a1.65 1.65 0 1 0 -3.3 0M481 259.6a1.65 1.65 0 1 0 3.3 0a1.65 1.65 0 1 0 -3.3 0M481.4 258.2a1.65 1.65 0 1 0 3.3 0a1.65 1.65 0 1 0 -3.3 0M481.9 260.2a1.65 1.65 0 1 0 3.3 0a1.65 1.65 0 1 0 -3.3 0M482.4 262.7a1.65 1.65 0 1 0 3.3 0a1.65 1.65 0 1 0 -3.3 0M482.8 260.2a1.65 1.65 0 1 0 3.3 0a1.65 1.65 0 1 0 -3.3 0M483.3 258.3a1.65 1.65 0 1 0 3.3 0a1.65 1.65 0 1 0 -3.3 0M483.7 260.7a1.65 1.65 0 1 0 3.3 0a1.65 1.65 0 1 0 -3.3 0M484.2 261a1.65 1.65 0 1 0 3.3 0a1.65 1.65 0 1 0 -3.3 0M484.6 261.2a1.65 1.65 0 1 0 3.3 0a1.65 1.65 0 1 0 -3.3 0M485.1 260.2a1.65 1.65 0 1 0 3.3 0a1.65 1.65 0 1 0 -3.3 0M485.6 263.8a1.65 1.65 0 1 0 3.3 0a1.65 1.65 0 1 0 -3.3 0M486 261.3a1.65 1.65 0 1 0 3.3 0a1.65 1.65 0 1 0 -3.3 0M486.5 263.6a1.65 1.65 0 1 0 3.3 0a1.65 1.65 0 1 0 -3.3 0M486.9 261.5a1.65 1.65 0 1 0 3.3 0a1.65 1.65 0 1 0 -3.3 0M487.4 260.9a1.65 1.65 0 1 0 3.3 0a1.65 1.65 0 1 0 -3.3 0M487.8 263.1a1.65 1.65 0 1 0 3.3 0a1.65 1.65 0 1 0 -3.3 0M488.3 261.6a1.65 1.65 0 1 0 3.3 0a1.65 1.65 0 1 0 -3.3 0M488.7 260a1.65 1.65 0 1 0 3.3 0a1.65 1.65 0 1 0 -3.3 0M489.2 260.4a1.65 1.65 0 1 0 3.3 0a1.65 1.65 0 1 0 -3.3 0M489.7 258.6a1.65 1.65 0 1 0 3.3 0a1.65 1.65 0 1 0 -3.3 0M490.1 259.9a1.65 1.65 0 1 0 3.3 0a1.65 1.65 0 1 0 -3.3 0M490.6 261.5a1.65 1.65 0 1 0 3.3 0a1.65 1.65 0 1 0 -3.3 0M491 263.3a1.65 1.65 0 1 0 3.3 0a1.65 1.65 0 1 0 -3.3 0M491.5 260.9a1.65 1.65 0 1 0 3.3 0a1.65 1.65 0 1 0 -3.3 0M491.9 264a1.65 1.65 0 1 0 3.3 0a1.65 1.65 0 1 0 -3.3 0M492.4 262.5a1.65 1.65 0 1 0 3.3 0a1.65 1.65 0 1 0 -3.3 0M492.9 261a1.65 1.65 0 1 0 3.3 0a1.65 1.65 0 1 0 -3.3 0M493.3 261.5a1.65 1.65 0 1 0 3.3 0a1.65 1.65 0 1 0 -3.3 0M493.8 263a1.65 1.65 0 1 0 3.3 0a1.65 1.65 0 1 0 -3.3 0M494.2 264.1a1.65 1.65 0 1 0 3.3 0a1.65 1.65 0 1 0 -3.3 0M494.7 261.8a1.65 1.65 0 1 0 3.3 0a1.65 1.65 0 1 0 -3.3 0M495.1 261.6a1.65 1.65 0 1 0 3.3 0a1.65 1.65 0 1 0 -3.3 0M495.6 265.7a1.65 1.65 0 1 0 3.3 0a1.65 1.65 0 1 0 -3.3 0M496.1 263.1a1.65 1.65 0 1 0 3.3 0a1.65 1.65 0 1 0 -3.3 0M496.5 265.2a1.65 1.65 0 1 0 3.3 0a1.65 1.65 0 1 0 -3.3 0M497 264.1a1.65 1.65 0 1 0 3.3 0a1.65 1.65 0 1 0 -3.3 0M497.4 262.6a1.65 1.65 0 1 0 3.3 0a1.65 1.65 0 1 0 -3.3 0M497.9 262.5a1.65 1.65 0 1 0 3.3 0a1.65 1.65 0 1 0 -3.3 0M498.3 263.8a1.65 1.65 0 1 0 3.3 0a1.65 1.65 0 1 0 -3.3 0M498.8 260.8a1.65 1.65 0 1 0 3.3 0a1.65 1.65 0 1 0 -3.3 0M499.2 263.9a1.65 1.65 0 1 0 3.3 0a1.65 1.65 0 1 0 -3.3 0M499.7 263.4a1.65 1.65 0 1 0 3.3 0a1.65 1.65 0 1 0 -3.3 0M500.2 262a1.65 1.65 0 1 0 3.3 0a1.65 1.65 0 1 0 -3.3 0M500.6 264.6a1.65 1.65 0 1 0 3.3 0a1.65 1.65 0 1 0 -3.3 0M501.1 261.7a1.65 1.65 0 1 0 3.3 0a1.65 1.65 0 1 0 -3.3 0M501.5 262.9a1.65 1.65 0 1 0 3.3 0a1.65 1.65 0 1 0 -3.3 0M502 263.5a1.65 1.65 0 1 0 3.3 0a1.65 1.65 0 1 0 -3.3 0M502.4 264.1a1.65 1.65 0 1 0 3.3 0a1.65 1.65 0 1 0 -3.3 0M502.9 262.5a1.65 1.65 0 1 0 3.3 0a1.65 1.65 0 1 0 -3.3 0M503.4 264.4a1.65 1.65 0 1 0 3.3 0a1.65 1.65 0 1 0 -3.3 0M503.8 264.4a1.65 1.65 0 1 0 3.3 0a1.65 1.65 0 1 0 -3.3 0M504.3 265.3a1.65 1.65 0 1 0 3.3 0a1.65 1.65 0 1 0 -3.3 0M504.7 262.5a1.65 1.65 0 1 0 3.3 0a1.65 1.65 0 1 0 -3.3 0M505.2 264a1.65 1.65 0 1 0 3.3 0a1.65 1.65 0 1 0 -3.3 0M505.6 261.4a1.65 1.65 0 1 0 3.3 0a1.65 1.65 0 1 0 -3.3 0M506.1 263.9a1.65 1.65 0 1 0 3.3 0a1.65 1.65 0 1 0 -3.3 0M506.6 263.6a1.65 1.65 0 1 0 3.3 0a1.65 1.65 0 1 0 -3.3 0M507 264.7a1.65 1.65 0 1 0 3.3 0a1.65 1.65 0 1 0 -3.3 0M507.5 263.9a1.65 1.65 0 1 0 3.3 0a1.65 1.65 0 1 0 -3.3 0M507.9 264a1.65 1.65 0 1 0 3.3 0a1.65 1.65 0 1 0 -3.3 0M508.4 264.6a1.65 1.65 0 1 0 3.3 0a1.65 1.65 0 1 0 -3.3 0M508.8 262.9a1.65 1.65 0 1 0 3.3 0a1.65 1.65 0 1 0 -3.3 0M509.3 264.5a1.65 1.65 0 1 0 3.3 0a1.65 1.65 0 1 0 -3.3 0M509.8 263.3a1.65 1.65 0 1 0 3.3 0a1.65 1.65 0 1 0 -3.3 0M510.2 262.6a1.65 1.65 0 1 0 3.3 0a1.65 1.65 0 1 0 -3.3 0M510.7 262.1a1.65 1.65 0 1 0 3.3 0a1.65 1.65 0 1 0 -3.3 0M511.1 263.5a1.65 1.65 0 1 0 3.3 0a1.65 1.65 0 1 0 -3.3 0M511.6 262.7a1.65 1.65 0 1 0 3.3 0a1.65 1.65 0 1 0 -3.3 0M512 263.2a1.65 1.65 0 1 0 3.3 0a1.65 1.65 0 1 0 -3.3 0M512.5 265.3a1.65 1.65 0 1 0 3.3 0a1.65 1.65 0 1 0 -3.3 0M513 263.7a1.65 1.65 0 1 0 3.3 0a1.65 1.65 0 1 0 -3.3 0M513.4 261.7a1.65 1.65 0 1 0 3.3 0a1.65 1.65 0 1 0 -3.3 0M513.9 262.9a1.65 1.65 0 1 0 3.3 0a1.65 1.65 0 1 0 -3.3 0M514.3 265.9a1.65 1.65 0 1 0 3.3 0a1.65 1.65 0 1 0 -3.3 0M514.8 263.4a1.65 1.65 0 1 0 3.3 0a1.65 1.65 0 1 0 -3.3 0M515.2 264.5a1.65 1.65 0 1 0 3.3 0a1.65 1.65 0 1 0 -3.3 0M515.7 264.4a1.65 1.65 0 1 0 3.3 0a1.65 1.65 0 1 0 -3.3 0M516.1 266.2a1.65 1.65 0 1 0 3.3 0a1.65 1.65 0 1 0 -3.3 0M516.6 265a1.65 1.65 0 1 0 3.3 0a1.65 1.65 0 1 0 -3.3 0M517.1 263.6a1.65 1.65 0 1 0 3.3 0a1.65 1.65 0 1 0 -3.3 0M517.5 263.8a1.65 1.65 0 1 0 3.3 0a1.65 1.65 0 1 0 -3.3 0M518 263.6a1.65 1.65 0 1 0 3.3 0a1.65 1.65 0 1 0 -3.3 0M518.4 265.7a1.65 1.65 0 1 0 3.3 0a1.65 1.65 0 1 0 -3.3 0M518.9 265.6a1.65 1.65 0 1 0 3.3 0a1.65 1.65 0 1 0 -3.3 0M519.3 266.3a1.65 1.65 0 1 0 3.3 0a1.65 1.65 0 1 0 -3.3 0M519.8 265.1a1.65 1.65 0 1 0 3.3 0a1.65 1.65 0 1 0 -3.3 0M520.3 263a1.65 1.65 0 1 0 3.3 0a1.65 1.65 0 1 0 -3.3 0M520.7 264.7a1.65 1.65 0 1 0 3.3 0a1.65 1.65 0 1 0 -3.3 0M521.2 263.7a1.65 1.65 0 1 0 3.3 0a1.65 1.65 0 1 0 -3.3 0M521.6 265.1a1.65 1.65 0 1 0 3.3 0a1.65 1.65 0 1 0 -3.3 0M522.1 264.5a1.65 1.65 0 1 0 3.3 0a1.65 1.65 0 1 0 -3.3 0M522.5 263.1a1.65 1.65 0 1 0 3.3 0a1.65 1.65 0 1 0 -3.3 0M523 263.8a1.65 1.65 0 1 0 3.3 0a1.65 1.65 0 1 0 -3.3 0M523.5 264.3a1.65 1.65 0 1 0 3.3 0a1.65 1.65 0 1 0 -3.3 0M523.9 265.3a1.65 1.65 0 1 0 3.3 0a1.65 1.65 0 1 0 -3.3 0M524.4 263.5a1.65 1.65 0 1 0 3.3 0a1.65 1.65 0 1 0 -3.3 0M524.8 263a1.65 1.65 0 1 0 3.3 0a1.65 1.65 0 1 0 -3.3 0M525.3 265.2a1.65 1.65 0 1 0 3.3 0a1.65 1.65 0 1 0 -3.3 0M525.7 264.6a1.65 1.65 0 1 0 3.3 0a1.65 1.65 0 1 0 -3.3 0M526.2 265.5a1.65 1.65 0 1 0 3.3 0a1.65 1.65 0 1 0 -3.3 0M526.6 266.6a1.65 1.65 0 1 0 3.3 0a1.65 1.65 0 1 0 -3.3 0M527.1 266.4a1.65 1.65 0 1 0 3.3 0a1.65 1.65 0 1 0 -3.3 0M527.6 266.8a1.65 1.65 0 1 0 3.3 0a1.65 1.65 0 1 0 -3.3 0M528 264.6a1.65 1.65 0 1 0 3.3 0a1.65 1.65 0 1 0 -3.3 0M528.5 262.8a1.65 1.65 0 1 0 3.3 0a1.65 1.65 0 1 0 -3.3 0M528.9 264.1a1.65 1.65 0 1 0 3.3 0a1.65 1.65 0 1 0 -3.3 0M529.4 266.9a1.65 1.65 0 1 0 3.3 0a1.65 1.65 0 1 0 -3.3 0M529.8 264.5a1.65 1.65 0 1 0 3.3 0a1.65 1.65 0 1 0 -3.3 0M530.3 264.7a1.65 1.65 0 1 0 3.3 0a1.65 1.65 0 1 0 -3.3 0M530.8 264.1a1.65 1.65 0 1 0 3.3 0a1.65 1.65 0 1 0 -3.3 0M531.2 266.5a1.65 1.65 0 1 0 3.3 0a1.65 1.65 0 1 0 -3.3 0M531.7 264.5a1.65 1.65 0 1 0 3.3 0a1.65 1.65 0 1 0 -3.3 0M532.1 266.3a1.65 1.65 0 1 0 3.3 0a1.65 1.65 0 1 0 -3.3 0M532.6 266.4a1.65 1.65 0 1 0 3.3 0a1.65 1.65 0 1 0 -3.3 0M533 265.4a1.65 1.65 0 1 0 3.3 0a1.65 1.65 0 1 0 -3.3 0M533.5 266.2a1.65 1.65 0 1 0 3.3 0a1.65 1.65 0 1 0 -3.3 0M534 266.2a1.65 1.65 0 1 0 3.3 0a1.65 1.65 0 1 0 -3.3 0M534.4 266a1.65 1.65 0 1 0 3.3 0a1.65 1.65 0 1 0 -3.3 0M534.9 265.3a1.65 1.65 0 1 0 3.3 0a1.65 1.65 0 1 0 -3.3 0M535.3 265.8a1.65 1.65 0 1 0 3.3 0a1.65 1.65 0 1 0 -3.3 0M535.8 265a1.65 1.65 0 1 0 3.3 0a1.65 1.65 0 1 0 -3.3 0M536.2 266.8a1.65 1.65 0 1 0 3.3 0a1.65 1.65 0 1 0 -3.3 0M536.7 266.5a1.65 1.65 0 1 0 3.3 0a1.65 1.65 0 1 0 -3.3 0M537.2 265.1a1.65 1.65 0 1 0 3.3 0a1.65 1.65 0 1 0 -3.3 0M537.6 266.6a1.65 1.65 0 1 0 3.3 0a1.65 1.65 0 1 0 -3.3 0M538.1 264.9a1.65 1.65 0 1 0 3.3 0a1.65 1.65 0 1 0 -3.3 0M538.5 264.7a1.65 1.65 0 1 0 3.3 0a1.65 1.65 0 1 0 -3.3 0M539 266.7a1.65 1.65 0 1 0 3.3 0a1.65 1.65 0 1 0 -3.3 0M539.4 264.8a1.65 1.65 0 1 0 3.3 0a1.65 1.65 0 1 0 -3.3 0M539.9 267.1a1.65 1.65 0 1 0 3.3 0a1.65 1.65 0 1 0 -3.3 0M540.4 265.8a1.65 1.65 0 1 0 3.3 0a1.65 1.65 0 1 0 -3.3 0M450.8 254.1a1.65 1.65 0 1 0 3.3 0a1.65 1.65 0 1 0 -3.3 0M446.4 255.5a1.65 1.65 0 1 0 3.3 0a1.65 1.65 0 1 0 -3.3 0" fill="none" stroke="#ff0000" stroke-width="0.8"/>
<path d="M411.9 277.8 434.7 277.6 435.8 270.7 436.9 264.7 438.1 260.2 439.6 258.4 442.6 257.9 448.6 258.7 452 259.6 465.9 261 479.7 262.6 493.6 264 497 264.7 510.9 265.7 524.7 266.8 538.5 267.9 542 268.2" fill="none" stroke="#0000ff" stroke-width="1.2" stroke-opacity="0.88" stroke-linejoin="round" stroke-linecap="round"/>
<text x="37.4" y="17.58" text-anchor="end" class="tk">0.1</text>
<text x="37.4" y="46.12" text-anchor="end" class="tk">0.05</text>
<text x="37.4" y="74.67" text-anchor="end" class="tk">0</text>
<text x="41.5" y="84.62" text-anchor="middle" class="tk">0</text>
<text x="87.17" y="84.62" text-anchor="middle" class="tk">20</text>
<text x="132.83" y="84.62" text-anchor="middle" class="tk">40</text>
<text x="178.5" y="84.62" text-anchor="middle" class="tk">60</text>
<text x="110" y="11.38" text-anchor="middle" class="ti">Guage 2</text>
<text x="110" y="98.82" text-anchor="middle" class="lb">Time (s)</text>
<text transform="translate(12.7 42.27) rotate(-90)" text-anchor="middle" class="lb">Water depth (m)</text>
<text x="219.35" y="17.58" text-anchor="end" class="tk">0.1</text>
<text x="219.35" y="46.12" text-anchor="end" class="tk">0.05</text>
<text x="219.35" y="74.67" text-anchor="end" class="tk">0</text>
<text x="223.45" y="84.62" text-anchor="middle" class="tk">0</text>
<text x="269.12" y="84.62" text-anchor="middle" class="tk">20</text>
<text x="314.78" y="84.62" text-anchor="middle" class="tk">40</text>
<text x="360.45" y="84.62" text-anchor="middle" class="tk">60</text>
<text x="291.95" y="11.38" text-anchor="middle" class="ti">Guage 3</text>
<text x="291.95" y="98.82" text-anchor="middle" class="lb">Time (s)</text>
<text transform="translate(194.65 42.27) rotate(-90)" text-anchor="middle" class="lb">Water depth (m)</text>
<text x="400.9" y="17.58" text-anchor="end" class="tk">0.1</text>
<text x="400.9" y="46.12" text-anchor="end" class="tk">0.05</text>
<text x="400.9" y="74.67" text-anchor="end" class="tk">0</text>
<text x="405" y="84.62" text-anchor="middle" class="tk">0</text>
<text x="450.67" y="84.62" text-anchor="middle" class="tk">20</text>
<text x="496.33" y="84.62" text-anchor="middle" class="tk">40</text>
<text x="542" y="84.62" text-anchor="middle" class="tk">60</text>
<text x="473.5" y="11.38" text-anchor="middle" class="ti">Guage 4</text>
<text x="473.5" y="98.82" text-anchor="middle" class="lb">Time (s)</text>
<text transform="translate(376.2 42.27) rotate(-90)" text-anchor="middle" class="lb">Water depth (m)</text>
<text x="37.4" y="121.22" text-anchor="end" class="tk">0.1</text>
<text x="37.4" y="149.71" text-anchor="end" class="tk">0.05</text>
<text x="37.4" y="178.19" text-anchor="end" class="tk">0</text>
<text x="41.5" y="188.14" text-anchor="middle" class="tk">0</text>
<text x="87.17" y="188.14" text-anchor="middle" class="tk">20</text>
<text x="132.83" y="188.14" text-anchor="middle" class="tk">40</text>
<text x="178.5" y="188.14" text-anchor="middle" class="tk">60</text>
<text x="110" y="115.02" text-anchor="middle" class="ti">Guage 5</text>
<text x="110" y="202.34" text-anchor="middle" class="lb">Time (s)</text>
<text transform="translate(12.7 145.86) rotate(-90)" text-anchor="middle" class="lb">Water depth (m)</text>
<text x="219.35" y="121.22" text-anchor="end" class="tk">0.1</text>
<text x="219.35" y="149.71" text-anchor="end" class="tk">0.05</text>
<text x="219.35" y="178.19" text-anchor="end" class="tk">0</text>
<text x="223.45" y="188.14" text-anchor="middle" class="tk">0</text>
<text x="269.12" y="188.14" text-anchor="middle" class="tk">20</text>
<text x="314.78" y="188.14" text-anchor="middle" class="tk">40</text>
<text x="360.45" y="188.14" text-anchor="middle" class="tk">60</text>
<text x="291.95" y="115.02" text-anchor="middle" class="ti">Guage 6</text>
<text x="291.95" y="202.34" text-anchor="middle" class="lb">Time (s)</text>
<text transform="translate(194.65 145.86) rotate(-90)" text-anchor="middle" class="lb">Water depth (m)</text>
<text x="400.9" y="121.22" text-anchor="end" class="tk">0.1</text>
<text x="400.9" y="149.71" text-anchor="end" class="tk">0.05</text>
<text x="400.9" y="178.19" text-anchor="end" class="tk">0</text>
<text x="405" y="188.14" text-anchor="middle" class="tk">0</text>
<text x="450.67" y="188.14" text-anchor="middle" class="tk">20</text>
<text x="496.33" y="188.14" text-anchor="middle" class="tk">40</text>
<text x="542" y="188.14" text-anchor="middle" class="tk">60</text>
<text x="473.5" y="115.02" text-anchor="middle" class="ti">Guage 7</text>
<text x="473.5" y="202.34" text-anchor="middle" class="lb">Time (s)</text>
<text transform="translate(376.2 145.86) rotate(-90)" text-anchor="middle" class="lb">Water depth (m)</text>
<text x="37.4" y="224.31" text-anchor="end" class="tk">0.1</text>
<text x="37.4" y="253.01" text-anchor="end" class="tk">0.05</text>
<text x="37.4" y="281.71" text-anchor="end" class="tk">0</text>
<text x="41.5" y="291.66" text-anchor="middle" class="tk">0</text>
<text x="87.17" y="291.66" text-anchor="middle" class="tk">20</text>
<text x="132.83" y="291.66" text-anchor="middle" class="tk">40</text>
<text x="178.5" y="291.66" text-anchor="middle" class="tk">60</text>
<text x="110" y="218.11" text-anchor="middle" class="ti">Guage 8</text>
<text x="110" y="305.86" text-anchor="middle" class="lb">Time (s)</text>
<text transform="translate(12.7 249.16) rotate(-90)" text-anchor="middle" class="lb">Water depth (m)</text>
<text x="219.35" y="224.31" text-anchor="end" class="tk">0.1</text>
<text x="219.35" y="253.01" text-anchor="end" class="tk">0.05</text>
<text x="219.35" y="281.71" text-anchor="end" class="tk">0</text>
<text x="223.45" y="291.66" text-anchor="middle" class="tk">0</text>
<text x="269.12" y="291.66" text-anchor="middle" class="tk">20</text>
<text x="314.78" y="291.66" text-anchor="middle" class="tk">40</text>
<text x="360.45" y="291.66" text-anchor="middle" class="tk">60</text>
<text x="291.95" y="218.11" text-anchor="middle" class="ti">Guage 9</text>
<text x="291.95" y="305.86" text-anchor="middle" class="lb">Time (s)</text>
<text transform="translate(194.65 249.16) rotate(-90)" text-anchor="middle" class="lb">Water depth (m)</text>
<text x="400.9" y="224.31" text-anchor="end" class="tk">0.1</text>
<text x="400.9" y="253.01" text-anchor="end" class="tk">0.05</text>
<text x="400.9" y="281.71" text-anchor="end" class="tk">0</text>
<text x="405" y="291.66" text-anchor="middle" class="tk">0</text>
<text x="450.67" y="291.66" text-anchor="middle" class="tk">20</text>
<text x="496.33" y="291.66" text-anchor="middle" class="tk">40</text>
<text x="542" y="291.66" text-anchor="middle" class="tk">60</text>
<text x="473.5" y="218.11" text-anchor="middle" class="ti">Guage 10</text>
<text x="473.5" y="305.86" text-anchor="middle" class="lb">Time (s)</text>
<text transform="translate(376.2 249.16) rotate(-90)" text-anchor="middle" class="lb">Water depth (m)</text>
<path d="M201.8 322.6a1.7 1.7 0 1 0 3.4 0a1.7 1.7 0 1 0 -3.4 0" fill="none" stroke="#e8405e" stroke-width="1"/>
<text x="222.5" y="326.2" class="lg">Experimental</text>
<path d="M286.6 322.2H318" stroke="#0000ff" stroke-width="1.2"/>
<text x="321.3" y="326.2" class="lg">This model</text>
</svg>
</body></html>
